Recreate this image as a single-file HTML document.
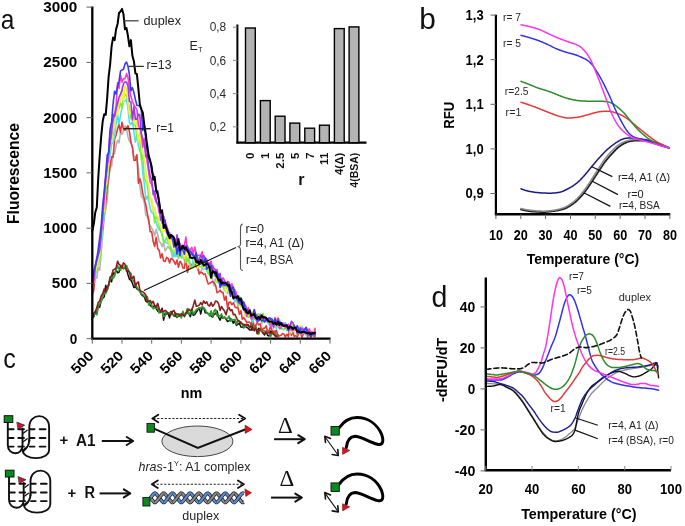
<!DOCTYPE html>
<html><head><meta charset="utf-8"><style>
html,body{margin:0;padding:0;background:#fff;overflow:hidden;width:685px;height:526px;}
svg{display:block;font-family:"Liberation Sans",sans-serif;will-change:transform;}
</style></head><body>
<svg width="685" height="526" viewBox="0 0 685 526">
<rect width="685" height="526" fill="#fff"/>
<g fill="none" stroke-linejoin="round" stroke-linecap="round">
<path d="M92.3,317.3 L93.8,316.8 L95.3,312.1 L96.8,313.3 L98.2,305.2 L99.7,307.2 L101.2,300.9 L102.7,298.3 L104.2,296.9 L105.7,285.3 L107.2,290.4 L108.6,284.5 L110.1,279.5 L111.6,281.9 L113.1,272.9 L114.6,274.4 L116.1,269.5 L117.6,272.9 L119.0,272.3 L120.5,266.0 L122.0,267.6 L123.5,268.6 L125.0,267.9 L126.5,269.0 L128.0,274.7 L129.4,279.3 L130.9,280.2 L132.4,283.2 L133.9,287.6 L135.4,286.7 L136.9,288.8 L138.4,289.8 L139.8,291.2 L141.3,294.5 L142.8,296.0 L144.3,297.0 L145.8,301.1 L147.3,302.2 L148.8,302.2 L150.2,305.4 L151.7,306.7 L153.2,307.1 L154.7,305.2 L156.2,308.5 L157.7,311.0 L159.2,312.5 L160.6,312.4 L162.1,308.3 L163.6,320.2 L165.1,313.1 L166.6,314.2 L168.1,313.4 L169.6,317.9 L171.0,311.4 L172.5,313.8 L174.0,316.0 L175.5,315.7 L177.0,317.5 L178.5,315.9 L180.0,316.1 L181.4,313.6 L182.9,314.4 L184.4,314.9 L185.9,313.0 L187.4,312.9 L188.9,313.3 L190.3,316.7 L191.8,311.1 L193.3,315.3 L194.8,314.6 L196.3,312.2 L197.8,310.1 L199.3,307.7 L200.7,314.1 L202.2,307.7 L203.7,307.8 L205.2,312.8 L206.7,312.7 L208.2,313.9 L209.7,314.3 L211.1,316.1 L212.6,317.1 L214.1,314.3 L215.6,313.7 L217.1,311.0 L218.6,317.4 L220.1,320.2 L221.5,316.3 L223.0,318.2 L224.5,317.1 L226.0,319.2 L227.5,321.5 L229.0,320.9 L230.5,318.5 L231.9,320.2 L233.4,323.3 L234.9,320.2 L236.4,325.4 L237.9,324.2 L239.4,323.4 L240.9,327.0 L242.3,327.3 L243.8,325.6 L245.3,326.4 L246.8,327.3 L248.3,328.5 L249.8,330.1 L251.3,330.0 L252.7,323.3 L254.2,330.7 L255.7,327.2 L257.2,331.5 L258.7,328.3 L260.2,329.0 L261.7,330.8 L263.1,333.3 L264.6,335.0 L266.1,331.1 L267.6,335.6 L269.1,335.9 L270.6,331.1 L272.1,331.5 L273.5,334.4 L275.0,335.2 L276.5,336.1 L278.0,334.5" fill="none" stroke="#111" stroke-width="1.5" stroke-linejoin="round"/>
<path d="M92.3,314.2 L93.8,315.5 L95.3,313.1 L96.8,314.8 L98.2,306.3 L99.7,304.0 L101.2,301.5 L102.7,296.5 L104.2,293.2 L105.7,293.5 L107.2,290.0 L108.6,285.6 L110.1,279.3 L111.6,276.3 L113.1,278.4 L114.6,276.0 L116.1,269.5 L117.6,265.9 L119.0,269.1 L120.5,270.2 L122.0,265.2 L123.5,268.9 L125.0,266.8 L126.5,265.6 L128.0,269.3 L129.4,272.7 L130.9,273.3 L132.4,279.6 L133.9,281.7 L135.4,285.7 L136.9,287.2 L138.4,290.0 L139.8,291.3 L141.3,293.7 L142.8,294.4 L144.3,296.2 L145.8,297.5 L147.3,296.7 L148.8,305.0 L150.2,300.3 L151.7,305.2 L153.2,308.7 L154.7,307.7 L156.2,308.2 L157.7,307.3 L159.2,312.8 L160.6,311.0 L162.1,312.0 L163.6,316.4 L165.1,315.9 L166.6,312.7 L168.1,313.0 L169.6,312.5 L171.0,313.8 L172.5,314.2 L174.0,314.9 L175.5,312.7 L177.0,317.0 L178.5,315.5 L180.0,314.2 L181.4,317.9 L182.9,311.4 L184.4,315.3 L185.9,313.4 L187.4,308.5 L188.9,314.3 L190.3,313.4 L191.8,308.7 L193.3,313.8 L194.8,312.1 L196.3,309.5 L197.8,308.8 L199.3,307.9 L200.7,308.3 L202.2,306.6 L203.7,307.9 L205.2,309.5 L206.7,312.8 L208.2,313.3 L209.7,316.1 L211.1,310.9 L212.6,316.4 L214.1,311.1 L215.6,309.4 L217.1,315.9 L218.6,315.8 L220.1,316.0 L221.5,314.0 L223.0,318.1 L224.5,317.2 L226.0,318.5 L227.5,318.6 L229.0,316.1 L230.5,321.2 L231.9,319.7 L233.4,320.0 L234.9,319.4 L236.4,324.3 L237.9,320.2 L239.4,322.1 L240.9,321.9 L242.3,324.0 L243.8,327.9 L245.3,326.6 L246.8,324.3 L248.3,326.4 L249.8,327.2 L251.3,324.3 L252.7,324.1 L254.2,328.8 L255.7,325.6 L257.2,333.4 L258.7,334.0 L260.2,328.9 L261.7,331.5 L263.1,330.4 L264.6,331.0 L266.1,332.5 L267.6,331.5 L269.1,332.8 L270.6,336.3 L272.1,333.4 L273.5,333.7 L275.0,331.0 L276.5,336.7 L278.0,334.8" fill="none" stroke="#2e9a2e" stroke-width="1.7" stroke-linejoin="round"/>
<path d="M92.3,319.1 L93.8,313.1 L95.3,311.7 L96.8,307.6 L98.2,302.5 L99.7,301.1 L101.2,296.0 L102.7,293.7 L104.2,288.9 L105.7,291.5 L107.2,287.5 L108.6,285.2 L110.1,277.1 L111.6,275.8 L113.1,270.0 L114.6,269.3 L116.1,267.9 L117.6,261.2 L119.0,264.3 L120.5,265.4 L122.0,267.9 L123.5,262.8 L125.0,264.3 L126.5,271.1 L128.0,270.6 L129.4,271.8 L130.9,278.8 L132.4,277.9 L133.9,276.3 L135.4,286.1 L136.9,283.1 L138.4,281.9 L139.8,289.9 L141.3,291.5 L142.8,291.8 L144.3,293.0 L145.8,295.0 L147.3,301.1 L148.8,301.0 L150.2,300.7 L151.7,303.1 L153.2,301.4 L154.7,305.8 L156.2,307.1 L157.7,303.4 L159.2,308.6 L160.6,311.5 L162.1,310.3 L163.6,311.6 L165.1,310.3 L166.6,311.4 L168.1,313.6 L169.6,314.2 L171.0,314.9 L172.5,311.4 L174.0,310.4 L175.5,314.9 L177.0,313.8 L178.5,314.1 L180.0,315.6 L181.4,315.0 L182.9,314.3 L184.4,316.7 L185.9,313.8 L187.4,310.8 L188.9,309.2 L190.3,310.8 L191.8,310.2 L193.3,305.4 L194.8,300.1 L196.3,306.3 L197.8,305.9 L199.3,305.1 L200.7,302.7 L202.2,304.8 L203.7,300.9 L205.2,303.4 L206.7,301.9 L208.2,305.3 L209.7,305.9 L211.1,302.6 L212.6,306.1 L214.1,304.5 L215.6,301.0 L217.1,301.5 L218.6,303.9 L220.1,310.4 L221.5,306.5 L223.0,309.1 L224.5,311.1 L226.0,314.8 L227.5,309.2 L229.0,307.6 L230.5,310.7 L231.9,309.7 L233.4,314.8 L234.9,314.3 L236.4,317.7 L237.9,320.8 L239.4,321.0 L240.9,323.2 L242.3,323.8 L243.8,324.6 L245.3,324.6 L246.8,325.0 L248.3,324.7 L249.8,327.9 L251.3,325.5 L252.7,330.1 L254.2,327.3 L255.7,328.2 L257.2,333.6 L258.7,330.8 L260.2,328.9 L261.7,330.7 L263.1,332.9 L264.6,333.4 L266.1,332.2 L267.6,332.8 L269.1,331.9 L270.6,333.5 L272.1,332.3 L273.5,333.5 L275.0,335.9 L276.5,336.5 L278.0,335.8" fill="none" stroke="#8b1c1c" stroke-width="1.6" stroke-linejoin="round"/>
<path d="M92.3,286.9 L93.8,283.4 L95.3,275.6 L96.8,278.4 L98.2,267.7 L99.7,270.3 L101.2,252.4 L102.7,235.2 L104.2,217.6 L105.7,209.7 L107.2,199.7 L108.6,179.6 L110.1,166.7 L111.6,166.7 L113.1,153.9 L114.6,153.6 L116.1,145.6 L117.6,140.2 L119.0,142.8 L120.5,132.5 L122.0,134.3 L123.5,130.5 L125.0,126.1 L126.5,128.0 L128.0,136.7 L129.4,141.0 L130.9,142.9 L132.4,146.6 L133.9,157.0 L135.4,156.5 L136.9,158.7 L138.4,167.4 L139.8,186.0 L141.3,196.7 L142.8,197.6 L144.3,202.6 L145.8,215.1 L147.3,216.5 L148.8,222.5 L150.2,225.7 L151.7,228.2 L153.2,231.0 L154.7,235.6 L156.2,229.4 L157.7,234.7 L159.2,241.7 L160.6,242.4 L162.1,246.6 L163.6,242.7 L165.1,250.9 L166.6,248.6 L168.1,246.4 L169.6,248.7 L171.0,250.4 L172.5,257.9 L174.0,252.5 L175.5,256.5 L177.0,252.5 L178.5,258.6 L180.0,252.5 L181.4,257.1 L182.9,256.2 L184.4,260.2 L185.9,260.5 L187.4,261.0 L188.9,257.6 L190.3,264.0 L191.8,264.5 L193.3,261.5 L194.8,264.2 L196.3,267.3 L197.8,265.9 L199.3,271.9 L200.7,272.9 L202.2,267.5 L203.7,261.1 L205.2,264.6 L206.7,264.1 L208.2,271.4 L209.7,275.8 L211.1,271.6 L212.6,279.7 L214.1,286.0 L215.6,276.9 L217.1,276.6 L218.6,279.6 L220.1,278.6 L221.5,282.5 L223.0,285.0 L224.5,290.5 L226.0,289.0 L227.5,293.4 L229.0,292.3 L230.5,286.9 L231.9,293.6 L233.4,294.9 L234.9,299.8 L236.4,291.8 L237.9,306.5 L239.4,304.6 L240.9,300.5 L242.3,307.0 L243.8,309.9 L245.3,309.6 L246.8,310.6 L248.3,312.1 L249.8,317.3 L251.3,313.6 L252.7,319.5 L254.2,319.1 L255.7,319.8 L257.2,316.6 L258.7,318.9 L260.2,321.0 L261.7,318.8 L263.1,322.1 L264.6,321.1 L266.1,321.1 L267.6,322.4 L269.1,324.2 L270.6,325.4 L272.1,319.7 L273.5,328.6 L275.0,322.6 L276.5,325.9 L278.0,325.9 L279.5,329.1 L281.0,324.9 L282.5,326.7 L283.9,322.9 L285.4,327.6 L286.9,329.5 L288.4,330.2 L289.9,325.1 L291.4,326.5 L292.9,329.4 L294.3,324.6 L295.8,328.7 L297.3,330.6 L298.8,328.9 L300.3,333.4 L301.8,330.7 L303.3,334.3 L304.7,330.2 L306.2,330.4 L307.7,332.7 L309.2,330.0 L310.7,334.8 L312.2,331.9 L313.7,333.9 L315.1,336.8" fill="none" stroke="#b4b4b4" stroke-width="1.6" stroke-linejoin="round"/>
<path d="M92.3,294.8 L93.8,290.2 L95.3,272.9 L96.8,267.7 L98.2,258.7 L99.7,250.3 L101.2,232.6 L102.7,229.1 L104.2,210.6 L105.7,202.5 L107.2,187.1 L108.6,178.2 L110.1,165.8 L111.6,156.9 L113.1,157.2 L114.6,139.3 L116.1,134.7 L117.6,128.9 L119.0,124.3 L120.5,132.4 L122.0,122.2 L123.5,129.4 L125.0,130.2 L126.5,128.0 L128.0,125.7 L129.4,131.4 L130.9,142.0 L132.4,147.6 L133.9,160.4 L135.4,160.2 L136.9,154.7 L138.4,183.2 L139.8,178.8 L141.3,183.8 L142.8,194.1 L144.3,198.6 L145.8,204.7 L147.3,213.3 L148.8,220.4 L150.2,231.8 L151.7,231.8 L153.2,241.6 L154.7,246.4 L156.2,237.2 L157.7,248.9 L159.2,250.4 L160.6,258.0 L162.1,253.8 L163.6,261.1 L165.1,261.5 L166.6,257.4 L168.1,258.4 L169.6,262.9 L171.0,258.6 L172.5,259.2 L174.0,261.3 L175.5,264.4 L177.0,260.0 L178.5,267.3 L180.0,261.2 L181.4,263.1 L182.9,268.0 L184.4,268.1 L185.9,256.8 L187.4,272.5 L188.9,265.7 L190.3,267.4 L191.8,265.0 L193.3,265.9 L194.8,264.3 L196.3,265.4 L197.8,268.5 L199.3,274.1 L200.7,272.2 L202.2,272.7 L203.7,274.6 L205.2,273.9 L206.7,279.3 L208.2,283.9 L209.7,283.3 L211.1,282.3 L212.6,281.5 L214.1,283.0 L215.6,285.1 L217.1,292.8 L218.6,291.7 L220.1,290.2 L221.5,292.4 L223.0,292.4 L224.5,300.2 L226.0,296.2 L227.5,307.7 L229.0,302.3 L230.5,302.1 L231.9,304.7 L233.4,302.6 L234.9,307.0 L236.4,307.8 L237.9,307.6 L239.4,314.4 L240.9,310.7 L242.3,319.2 L243.8,317.6 L245.3,320.0 L246.8,322.7 L248.3,322.1 L249.8,322.3 L251.3,324.9 L252.7,318.5 L254.2,327.5 L255.7,325.3 L257.2,322.7 L258.7,324.8 L260.2,323.8 L261.7,331.2 L263.1,328.4 L264.6,328.3 L266.1,325.8 L267.6,331.8 L269.1,330.4 L270.6,326.2 L272.1,330.7 L273.5,331.2 L275.0,333.0 L276.5,330.1 L278.0,337.0 L279.5,335.7 L281.0,335.2 L282.5,333.6 L283.9,334.1 L285.4,337.0 L286.9,334.1 L288.4,336.7 L289.9,327.5 L291.4,335.4 L292.9,332.2 L294.3,336.4 L295.8,335.7 L297.3,337.0 L298.8,333.2 L300.3,332.0 L301.8,337.0 L303.3,334.2 L304.7,333.6 L306.2,332.1 L307.7,336.9 L309.2,331.7 L310.7,337.0 L312.2,334.8 L313.7,336.5 L315.1,336.0" fill="none" stroke="#e53a3a" stroke-width="1.6" stroke-linejoin="round"/>
<path d="M92.3,288.1 L93.8,281.8 L95.3,276.8 L96.8,264.3 L98.2,259.8 L99.7,260.1 L101.2,243.6 L102.7,227.3 L104.2,214.3 L105.7,188.5 L107.2,183.3 L108.6,165.8 L110.1,154.3 L111.6,144.4 L113.1,142.2 L114.6,136.1 L116.1,123.4 L117.6,114.6 L119.0,124.0 L120.5,115.2 L122.0,108.1 L123.5,101.3 L125.0,101.2 L126.5,99.6 L128.0,108.0 L129.4,122.5 L130.9,124.7 L132.4,121.3 L133.9,131.7 L135.4,142.3 L136.9,135.0 L138.4,145.6 L139.8,151.2 L141.3,153.3 L142.8,173.3 L144.3,183.5 L145.8,199.6 L147.3,196.3 L148.8,201.2 L150.2,208.6 L151.7,212.7 L153.2,213.1 L154.7,218.7 L156.2,222.2 L157.7,227.2 L159.2,230.1 L160.6,228.9 L162.1,235.6 L163.6,239.3 L165.1,242.0 L166.6,242.7 L168.1,243.7 L169.6,244.6 L171.0,247.8 L172.5,251.1 L174.0,256.8 L175.5,250.1 L177.0,256.5 L178.5,254.4 L180.0,250.4 L181.4,254.0 L182.9,257.8 L184.4,252.9 L185.9,256.5 L187.4,257.8 L188.9,253.3 L190.3,257.0 L191.8,250.3 L193.3,265.7 L194.8,262.7 L196.3,261.8 L197.8,259.3 L199.3,265.1 L200.7,259.7 L202.2,265.4 L203.7,269.4 L205.2,268.7 L206.7,269.5 L208.2,270.9 L209.7,273.4 L211.1,273.2 L212.6,270.4 L214.1,271.9 L215.6,270.0 L217.1,280.4 L218.6,283.1 L220.1,275.0 L221.5,281.9 L223.0,283.2 L224.5,288.4 L226.0,285.9 L227.5,288.3 L229.0,289.8 L230.5,287.8 L231.9,295.5 L233.4,294.5 L234.9,302.0 L236.4,297.3 L237.9,303.2 L239.4,296.0 L240.9,306.4 L242.3,299.6 L243.8,309.4 L245.3,315.0 L246.8,311.6 L248.3,312.9 L249.8,317.1 L251.3,318.7 L252.7,322.3 L254.2,317.2 L255.7,315.8 L257.2,322.7 L258.7,317.3 L260.2,313.8 L261.7,323.3 L263.1,317.5 L264.6,318.0 L266.1,321.7 L267.6,319.7 L269.1,324.2 L270.6,320.7 L272.1,318.1 L273.5,323.8 L275.0,324.9 L276.5,328.9 L278.0,318.9 L279.5,319.3 L281.0,325.9 L282.5,324.8 L283.9,325.7 L285.4,322.4 L286.9,330.6 L288.4,325.2 L289.9,333.2 L291.4,326.2 L292.9,330.3 L294.3,325.4 L295.8,327.8 L297.3,331.3 L298.8,332.0 L300.3,333.6 L301.8,326.6 L303.3,328.5 L304.7,333.2 L306.2,335.4 L307.7,331.0 L309.2,332.6 L310.7,334.2 L312.2,332.9 L313.7,331.8 L315.1,333.9" fill="none" stroke="#4fe0f0" stroke-width="1.6" stroke-linejoin="round"/>
<path d="M92.3,284.9 L93.8,283.0 L95.3,273.9 L96.8,269.0 L98.2,263.9 L99.7,259.5 L101.2,238.1 L102.7,219.2 L104.2,212.5 L105.7,191.5 L107.2,175.4 L108.6,156.5 L110.1,147.1 L111.6,139.7 L113.1,134.9 L114.6,122.4 L116.1,113.4 L117.6,109.8 L119.0,108.9 L120.5,102.7 L122.0,107.8 L123.5,97.4 L125.0,94.0 L126.5,95.7 L128.0,102.4 L129.4,106.9 L130.9,118.6 L132.4,113.6 L133.9,124.8 L135.4,125.6 L136.9,136.8 L138.4,138.1 L139.8,139.1 L141.3,159.7 L142.8,155.2 L144.3,179.7 L145.8,180.5 L147.3,185.3 L148.8,197.4 L150.2,200.1 L151.7,201.2 L153.2,209.7 L154.7,222.9 L156.2,216.5 L157.7,219.7 L159.2,226.9 L160.6,231.0 L162.1,234.1 L163.6,243.2 L165.1,241.6 L166.6,236.9 L168.1,241.6 L169.6,245.0 L171.0,250.9 L172.5,252.1 L174.0,250.1 L175.5,252.8 L177.0,253.9 L178.5,256.6 L180.0,253.7 L181.4,258.2 L182.9,256.8 L184.4,253.3 L185.9,262.8 L187.4,255.6 L188.9,261.9 L190.3,268.7 L191.8,265.8 L193.3,266.7 L194.8,260.5 L196.3,260.8 L197.8,257.2 L199.3,266.4 L200.7,266.8 L202.2,267.1 L203.7,262.7 L205.2,266.8 L206.7,270.1 L208.2,274.0 L209.7,265.9 L211.1,278.4 L212.6,275.0 L214.1,275.9 L215.6,274.6 L217.1,282.5 L218.6,276.1 L220.1,282.5 L221.5,286.6 L223.0,287.0 L224.5,286.4 L226.0,289.3 L227.5,286.3 L229.0,293.2 L230.5,290.5 L231.9,287.6 L233.4,294.4 L234.9,294.2 L236.4,296.3 L237.9,305.7 L239.4,297.9 L240.9,303.1 L242.3,302.0 L243.8,304.1 L245.3,309.3 L246.8,311.8 L248.3,317.2 L249.8,312.4 L251.3,315.1 L252.7,314.6 L254.2,313.7 L255.7,319.9 L257.2,314.6 L258.7,314.0 L260.2,319.2 L261.7,323.4 L263.1,313.4 L264.6,317.8 L266.1,318.8 L267.6,320.7 L269.1,323.0 L270.6,323.7 L272.1,322.1 L273.5,322.7 L275.0,324.2 L276.5,326.0 L278.0,323.5 L279.5,327.3 L281.0,329.0 L282.5,328.9 L283.9,329.9 L285.4,324.5 L286.9,328.6 L288.4,325.0 L289.9,326.5 L291.4,323.5 L292.9,326.6 L294.3,326.9 L295.8,330.8 L297.3,334.4 L298.8,328.6 L300.3,327.6 L301.8,332.0 L303.3,332.7 L304.7,332.7 L306.2,333.9 L307.7,329.4 L309.2,333.1 L310.7,331.1 L312.2,332.5 L313.7,335.8 L315.1,329.0" fill="none" stroke="#7af03a" stroke-width="1.6" stroke-linejoin="round"/>
<path d="M92.3,280.5 L93.8,272.4 L95.3,272.7 L96.8,266.0 L98.2,262.1 L99.7,253.5 L101.2,240.1 L102.7,210.7 L104.2,211.3 L105.7,185.5 L107.2,178.5 L108.6,161.8 L110.1,137.3 L111.6,142.0 L113.1,127.6 L114.6,127.8 L116.1,109.6 L117.6,115.1 L119.0,99.2 L120.5,102.1 L122.0,86.2 L123.5,102.1 L125.0,85.7 L126.5,88.8 L128.0,102.0 L129.4,114.7 L130.9,110.5 L132.4,117.2 L133.9,122.9 L135.4,115.1 L136.9,127.5 L138.4,142.3 L139.8,131.9 L141.3,144.2 L142.8,151.1 L144.3,159.3 L145.8,169.3 L147.3,181.6 L148.8,185.3 L150.2,200.9 L151.7,198.4 L153.2,211.3 L154.7,207.6 L156.2,215.7 L157.7,215.9 L159.2,223.3 L160.6,226.1 L162.1,231.0 L163.6,231.9 L165.1,228.1 L166.6,234.4 L168.1,235.0 L169.6,245.4 L171.0,239.5 L172.5,242.8 L174.0,249.5 L175.5,251.2 L177.0,249.3 L178.5,251.8 L180.0,247.6 L181.4,249.6 L182.9,253.1 L184.4,258.2 L185.9,251.9 L187.4,257.5 L188.9,253.9 L190.3,255.1 L191.8,256.5 L193.3,258.0 L194.8,262.5 L196.3,262.1 L197.8,268.2 L199.3,259.4 L200.7,258.9 L202.2,263.1 L203.7,268.0 L205.2,264.5 L206.7,269.2 L208.2,268.9 L209.7,263.4 L211.1,271.0 L212.6,274.6 L214.1,271.8 L215.6,275.4 L217.1,280.8 L218.6,278.8 L220.1,277.8 L221.5,284.4 L223.0,280.2 L224.5,286.8 L226.0,292.0 L227.5,288.0 L229.0,293.2 L230.5,289.2 L231.9,295.9 L233.4,295.9 L234.9,299.0 L236.4,298.7 L237.9,299.0 L239.4,301.7 L240.9,307.1 L242.3,301.7 L243.8,305.5 L245.3,316.1 L246.8,309.1 L248.3,314.9 L249.8,314.1 L251.3,313.4 L252.7,311.7 L254.2,316.0 L255.7,317.3 L257.2,316.3 L258.7,315.6 L260.2,321.5 L261.7,320.0 L263.1,319.3 L264.6,321.1 L266.1,320.3 L267.6,319.9 L269.1,321.0 L270.6,318.2 L272.1,323.7 L273.5,321.3 L275.0,322.0 L276.5,318.6 L278.0,317.1 L279.5,324.7 L281.0,323.9 L282.5,325.7 L283.9,325.0 L285.4,325.8 L286.9,327.2 L288.4,328.8 L289.9,328.1 L291.4,333.0 L292.9,324.5 L294.3,330.6 L295.8,333.2 L297.3,327.1 L298.8,330.5 L300.3,325.2 L301.8,333.6 L303.3,330.1 L304.7,333.4 L306.2,331.5 L307.7,334.0 L309.2,333.0 L310.7,334.3 L312.2,334.1 L313.7,329.2 L315.1,333.5" fill="none" stroke="#f0f040" stroke-width="1.6" stroke-linejoin="round"/>
<path d="M92.3,286.2 L93.8,283.0 L95.3,265.5 L96.8,257.6 L98.2,254.7 L99.7,246.8 L101.2,232.1 L102.7,217.5 L104.2,198.5 L105.7,177.8 L107.2,164.4 L108.6,156.5 L110.1,131.7 L111.6,127.8 L113.1,120.3 L114.6,114.3 L116.1,105.6 L117.6,82.6 L119.0,88.4 L120.5,75.2 L122.0,82.2 L123.5,78.7 L125.0,78.8 L126.5,73.6 L128.0,77.6 L129.4,89.0 L130.9,96.3 L132.4,101.2 L133.9,105.0 L135.4,107.1 L136.9,109.8 L138.4,125.3 L139.8,128.3 L141.3,133.3 L142.8,147.3 L144.3,138.9 L145.8,149.4 L147.3,162.9 L148.8,173.2 L150.2,182.4 L151.7,184.6 L153.2,189.9 L154.7,198.1 L156.2,202.3 L157.7,203.6 L159.2,213.0 L160.6,214.1 L162.1,223.3 L163.6,221.6 L165.1,228.3 L166.6,229.3 L168.1,232.4 L169.6,232.6 L171.0,238.9 L172.5,237.7 L174.0,237.0 L175.5,240.2 L177.0,249.2 L178.5,241.9 L180.0,243.6 L181.4,247.2 L182.9,248.2 L184.4,245.3 L185.9,237.1 L187.4,251.1 L188.9,249.3 L190.3,249.6 L191.8,247.3 L193.3,253.9 L194.8,247.0 L196.3,254.4 L197.8,255.6 L199.3,255.2 L200.7,255.7 L202.2,251.7 L203.7,261.7 L205.2,260.5 L206.7,260.1 L208.2,263.1 L209.7,264.0 L211.1,261.2 L212.6,268.8 L214.1,271.3 L215.6,273.2 L217.1,269.4 L218.6,278.5 L220.1,276.2 L221.5,283.2 L223.0,277.7 L224.5,280.4 L226.0,283.8 L227.5,281.4 L229.0,282.3 L230.5,286.9 L231.9,283.8 L233.4,289.5 L234.9,289.6 L236.4,294.9 L237.9,296.9 L239.4,301.2 L240.9,300.5 L242.3,304.5 L243.8,308.2 L245.3,309.3 L246.8,316.5 L248.3,307.7 L249.8,313.5 L251.3,318.9 L252.7,317.9 L254.2,316.6 L255.7,316.8 L257.2,315.3 L258.7,317.8 L260.2,315.2 L261.7,317.4 L263.1,319.8 L264.6,320.2 L266.1,320.5 L267.6,319.4 L269.1,320.5 L270.6,326.7 L272.1,322.7 L273.5,325.7 L275.0,317.5 L276.5,322.3 L278.0,323.0 L279.5,327.9 L281.0,328.3 L282.5,322.9 L283.9,323.8 L285.4,327.9 L286.9,327.4 L288.4,324.2 L289.9,327.4 L291.4,330.5 L292.9,330.3 L294.3,329.7 L295.8,329.6 L297.3,329.7 L298.8,332.8 L300.3,329.7 L301.8,328.4 L303.3,329.3 L304.7,333.3 L306.2,331.2 L307.7,334.5 L309.2,328.7 L310.7,333.2 L312.2,332.9 L313.7,335.7 L315.1,328.4" fill="none" stroke="#ff3ad0" stroke-width="1.6" stroke-linejoin="round"/>
<path d="M92.3,281.7 L93.8,277.9 L95.3,266.9 L96.8,260.1 L98.2,255.0 L99.7,249.9 L101.2,234.9 L102.7,212.4 L104.2,195.0 L105.7,178.7 L107.2,166.3 L108.6,152.8 L110.1,143.0 L111.6,133.3 L113.1,114.5 L114.6,116.6 L116.1,109.0 L117.6,103.2 L119.0,97.4 L120.5,94.1 L122.0,90.4 L123.5,83.5 L125.0,82.0 L126.5,82.1 L128.0,86.2 L129.4,101.4 L130.9,101.9 L132.4,120.0 L133.9,106.6 L135.4,119.3 L136.9,119.3 L138.4,114.1 L139.8,115.0 L141.3,133.9 L142.8,138.7 L144.3,143.5 L145.8,157.0 L147.3,154.9 L148.8,168.2 L150.2,176.6 L151.7,179.9 L153.2,194.7 L154.7,191.1 L156.2,200.1 L157.7,205.3 L159.2,206.7 L160.6,220.3 L162.1,216.4 L163.6,216.1 L165.1,222.9 L166.6,225.9 L168.1,230.3 L169.6,236.4 L171.0,236.9 L172.5,236.9 L174.0,239.9 L175.5,247.2 L177.0,234.8 L178.5,244.6 L180.0,245.8 L181.4,247.9 L182.9,248.2 L184.4,245.5 L185.9,246.9 L187.4,246.0 L188.9,250.2 L190.3,255.6 L191.8,253.4 L193.3,254.6 L194.8,259.2 L196.3,255.1 L197.8,261.0 L199.3,259.1 L200.7,255.3 L202.2,258.3 L203.7,255.4 L205.2,257.8 L206.7,259.6 L208.2,264.5 L209.7,263.4 L211.1,266.7 L212.6,265.5 L214.1,268.6 L215.6,269.9 L217.1,275.2 L218.6,275.8 L220.1,273.4 L221.5,285.6 L223.0,285.1 L224.5,281.4 L226.0,283.4 L227.5,283.7 L229.0,283.9 L230.5,285.8 L231.9,291.1 L233.4,291.8 L234.9,293.8 L236.4,298.3 L237.9,301.5 L239.4,303.2 L240.9,304.7 L242.3,301.1 L243.8,302.7 L245.3,305.2 L246.8,309.1 L248.3,311.1 L249.8,311.6 L251.3,314.6 L252.7,315.5 L254.2,314.8 L255.7,314.6 L257.2,322.2 L258.7,320.2 L260.2,316.6 L261.7,316.7 L263.1,318.1 L264.6,321.8 L266.1,317.5 L267.6,321.5 L269.1,318.5 L270.6,318.4 L272.1,319.6 L273.5,327.1 L275.0,318.7 L276.5,322.5 L278.0,318.3 L279.5,323.6 L281.0,322.5 L282.5,324.3 L283.9,325.8 L285.4,324.6 L286.9,325.3 L288.4,329.2 L289.9,326.7 L291.4,321.3 L292.9,322.8 L294.3,328.1 L295.8,327.4 L297.3,333.9 L298.8,330.6 L300.3,327.7 L301.8,329.4 L303.3,330.6 L304.7,329.9 L306.2,328.0 L307.7,332.2 L309.2,335.3 L310.7,333.0 L312.2,332.0 L313.7,333.6 L315.1,335.0" fill="none" stroke="#9a3af0" stroke-width="1.6" stroke-linejoin="round"/>
<path d="M92.3,286.5 L93.8,270.4 L95.3,265.8 L96.8,259.1 L98.2,249.3 L99.7,237.8 L101.2,225.4 L102.7,205.4 L104.2,191.5 L105.7,174.7 L107.2,155.2 L108.6,152.6 L110.1,129.1 L111.6,121.9 L113.1,103.3 L114.6,91.2 L116.1,94.2 L117.6,85.9 L119.0,81.4 L120.5,71.2 L122.0,70.0 L123.5,69.2 L125.0,64.1 L126.5,62.1 L128.0,66.3 L129.4,74.6 L130.9,90.8 L132.4,87.7 L133.9,92.5 L135.4,99.6 L136.9,105.3 L138.4,105.5 L139.8,106.2 L141.3,109.4 L142.8,130.5 L144.3,125.1 L145.8,140.0 L147.3,143.7 L148.8,154.9 L150.2,159.7 L151.7,172.2 L153.2,173.7 L154.7,181.0 L156.2,191.3 L157.7,190.7 L159.2,200.6 L160.6,211.5 L162.1,210.9 L163.6,221.2 L165.1,220.1 L166.6,231.9 L168.1,235.7 L169.6,235.4 L171.0,236.5 L172.5,238.7 L174.0,247.0 L175.5,243.6 L177.0,254.2 L178.5,246.5 L180.0,255.7 L181.4,246.1 L182.9,250.3 L184.4,254.2 L185.9,246.1 L187.4,249.0 L188.9,250.8 L190.3,251.1 L191.8,253.7 L193.3,255.6 L194.8,256.4 L196.3,252.8 L197.8,263.4 L199.3,263.8 L200.7,261.2 L202.2,259.9 L203.7,262.1 L205.2,258.3 L206.7,269.2 L208.2,267.4 L209.7,267.4 L211.1,266.0 L212.6,271.9 L214.1,271.9 L215.6,276.3 L217.1,271.9 L218.6,276.1 L220.1,287.7 L221.5,279.4 L223.0,283.6 L224.5,285.5 L226.0,284.6 L227.5,282.2 L229.0,289.8 L230.5,296.2 L231.9,288.0 L233.4,287.2 L234.9,295.7 L236.4,298.5 L237.9,298.9 L239.4,302.6 L240.9,301.3 L242.3,303.0 L243.8,302.2 L245.3,312.1 L246.8,309.8 L248.3,311.7 L249.8,312.1 L251.3,314.8 L252.7,315.3 L254.2,309.5 L255.7,314.5 L257.2,318.5 L258.7,320.4 L260.2,319.0 L261.7,320.9 L263.1,320.2 L264.6,321.8 L266.1,320.2 L267.6,318.8 L269.1,317.8 L270.6,319.1 L272.1,319.9 L273.5,321.4 L275.0,319.3 L276.5,323.5 L278.0,324.4 L279.5,321.6 L281.0,325.0 L282.5,325.4 L283.9,326.0 L285.4,325.6 L286.9,324.6 L288.4,330.8 L289.9,327.2 L291.4,328.6 L292.9,329.4 L294.3,326.2 L295.8,328.5 L297.3,325.6 L298.8,330.0 L300.3,329.6 L301.8,333.2 L303.3,331.0 L304.7,329.2 L306.2,327.3 L307.7,333.0 L309.2,332.7 L310.7,337.0 L312.2,333.7 L313.7,332.8 L315.1,334.4" fill="none" stroke="#3a3af0" stroke-width="1.6" stroke-linejoin="round"/>
<path d="M92.3,230.9 L93.8,224.0 L95.3,212.2 L96.8,207.3 L98.2,178.7 L99.7,155.7 L101.2,136.3 L102.7,121.3 L104.2,114.2 L105.7,114.9 L107.2,97.6 L108.6,76.8 L110.1,64.6 L111.6,46.4 L113.1,37.4 L114.6,40.1 L116.1,29.1 L117.6,24.0 L119.0,13.0 L120.5,11.5 L122.0,8.9 L123.5,14.3 L125.0,29.3 L126.5,28.0 L128.0,36.3 L129.4,46.3 L130.9,40.1 L132.4,55.8 L133.9,61.2 L135.4,73.3 L136.9,74.1 L138.4,89.0 L139.8,104.0 L141.3,109.2 L142.8,112.6 L144.3,124.9 L145.8,133.8 L147.3,148.5 L148.8,157.1 L150.2,161.0 L151.7,166.7 L153.2,179.7 L154.7,176.9 L156.2,190.7 L157.7,194.3 L159.2,203.1 L160.6,212.5 L162.1,210.3 L163.6,228.0 L165.1,225.0 L166.6,229.0 L168.1,233.1 L169.6,238.3 L171.0,234.9 L172.5,236.0 L174.0,237.8 L175.5,245.5 L177.0,244.7 L178.5,239.1 L180.0,250.3 L181.4,248.6 L182.9,245.6 L184.4,249.1 L185.9,247.8 L187.4,250.8 L188.9,253.3 L190.3,257.6 L191.8,257.9 L193.3,257.7 L194.8,257.5 L196.3,262.4 L197.8,261.4 L199.3,263.8 L200.7,259.9 L202.2,262.4 L203.7,265.6 L205.2,264.7 L206.7,263.3 L208.2,264.7 L209.7,268.1 L211.1,277.7 L212.6,270.9 L214.1,272.7 L215.6,272.3 L217.1,277.0 L218.6,280.6 L220.1,279.5 L221.5,283.8 L223.0,282.5 L224.5,283.1 L226.0,283.3 L227.5,285.4 L229.0,285.1 L230.5,291.0 L231.9,292.5 L233.4,298.6 L234.9,297.1 L236.4,297.5 L237.9,296.1 L239.4,300.2 L240.9,298.4 L242.3,305.4 L243.8,309.6 L245.3,309.1 L246.8,312.6 L248.3,313.4 L249.8,310.2 L251.3,315.9 L252.7,314.9 L254.2,314.0 L255.7,318.0 L257.2,318.9 L258.7,316.9 L260.2,319.0 L261.7,315.2 L263.1,317.5 L264.6,317.2 L266.1,317.8 L267.6,320.0 L269.1,321.6 L270.6,321.4 L272.1,321.9 L273.5,323.9 L275.0,322.6 L276.5,324.8 L278.0,321.5 L279.5,325.0 L281.0,323.0 L282.5,325.1 L283.9,325.9 L285.4,325.6 L286.9,325.8 L288.4,328.5 L289.9,326.4 L291.4,326.9 L292.9,328.9 L294.3,328.1 L295.8,328.1 L297.3,331.5 L298.8,331.4 L300.3,332.7 L301.8,331.9 L303.3,332.1 L304.7,331.9 L306.2,332.8 L307.7,333.5 L309.2,332.5 L310.7,334.3 L312.2,333.0 L313.7,333.5 L315.1,332.6" fill="none" stroke="#000" stroke-width="2" stroke-linejoin="round"/>
</g>
<line x1="92.3" y1="6.5" x2="92.3" y2="339.7" stroke="#000" stroke-width="2.3"/>
<line x1="91.3" y1="338.7" x2="330.5" y2="338.7" stroke="#000" stroke-width="2.3"/>
<line x1="86.5" y1="338.7" x2="92.3" y2="338.7" stroke="#666" stroke-width="1"/>
<text x="77.2" y="343.7" font-size="14" font-weight="bold" text-anchor="end" fill="#000" textLength="7.5" lengthAdjust="spacingAndGlyphs">0</text>
<line x1="86.5" y1="283.4" x2="92.3" y2="283.4" stroke="#666" stroke-width="1"/>
<text x="77.2" y="288.4" font-size="14" font-weight="bold" text-anchor="end" fill="#000" textLength="25.5" lengthAdjust="spacingAndGlyphs">500</text>
<line x1="86.5" y1="228.2" x2="92.3" y2="228.2" stroke="#666" stroke-width="1"/>
<text x="77.2" y="233.2" font-size="14" font-weight="bold" text-anchor="end" fill="#000" textLength="34" lengthAdjust="spacingAndGlyphs">1000</text>
<line x1="86.5" y1="172.9" x2="92.3" y2="172.9" stroke="#666" stroke-width="1"/>
<text x="77.2" y="177.9" font-size="14" font-weight="bold" text-anchor="end" fill="#000" textLength="34" lengthAdjust="spacingAndGlyphs">1500</text>
<line x1="86.5" y1="117.6" x2="92.3" y2="117.6" stroke="#666" stroke-width="1"/>
<text x="77.2" y="122.6" font-size="14" font-weight="bold" text-anchor="end" fill="#000" textLength="34" lengthAdjust="spacingAndGlyphs">2000</text>
<line x1="86.5" y1="62.4" x2="92.3" y2="62.4" stroke="#666" stroke-width="1"/>
<text x="77.2" y="67.4" font-size="14" font-weight="bold" text-anchor="end" fill="#000" textLength="34" lengthAdjust="spacingAndGlyphs">2500</text>
<line x1="86.5" y1="7.1" x2="92.3" y2="7.1" stroke="#666" stroke-width="1"/>
<text x="77.2" y="12.1" font-size="14" font-weight="bold" text-anchor="end" fill="#000" textLength="34" lengthAdjust="spacingAndGlyphs">3000</text>
<line x1="92.3" y1="338.7" x2="92.3" y2="343.7" stroke="#666" stroke-width="1"/>
<text x="94.5" y="356.8" font-size="14" font-weight="bold" text-anchor="end" fill="#000" textLength="25.5" lengthAdjust="spacingAndGlyphs" transform="rotate(-45 94.5 356.8)">500</text>
<line x1="122" y1="338.7" x2="122" y2="343.7" stroke="#666" stroke-width="1"/>
<text x="124.2" y="356.8" font-size="14" font-weight="bold" text-anchor="end" fill="#000" textLength="25.5" lengthAdjust="spacingAndGlyphs" transform="rotate(-45 124.2 356.8)">520</text>
<line x1="151.7" y1="338.7" x2="151.7" y2="343.7" stroke="#666" stroke-width="1"/>
<text x="153.9" y="356.8" font-size="14" font-weight="bold" text-anchor="end" fill="#000" textLength="25.5" lengthAdjust="spacingAndGlyphs" transform="rotate(-45 153.9 356.8)">540</text>
<line x1="181.4" y1="338.7" x2="181.4" y2="343.7" stroke="#666" stroke-width="1"/>
<text x="183.6" y="356.8" font-size="14" font-weight="bold" text-anchor="end" fill="#000" textLength="25.5" lengthAdjust="spacingAndGlyphs" transform="rotate(-45 183.6 356.8)">560</text>
<line x1="211.1" y1="338.7" x2="211.1" y2="343.7" stroke="#666" stroke-width="1"/>
<text x="213.3" y="356.8" font-size="14" font-weight="bold" text-anchor="end" fill="#000" textLength="25.5" lengthAdjust="spacingAndGlyphs" transform="rotate(-45 213.3 356.8)">580</text>
<line x1="240.9" y1="338.7" x2="240.9" y2="343.7" stroke="#666" stroke-width="1"/>
<text x="243.1" y="356.8" font-size="14" font-weight="bold" text-anchor="end" fill="#000" textLength="25.5" lengthAdjust="spacingAndGlyphs" transform="rotate(-45 243.1 356.8)">600</text>
<line x1="270.6" y1="338.7" x2="270.6" y2="343.7" stroke="#666" stroke-width="1"/>
<text x="272.8" y="356.8" font-size="14" font-weight="bold" text-anchor="end" fill="#000" textLength="25.5" lengthAdjust="spacingAndGlyphs" transform="rotate(-45 272.8 356.8)">620</text>
<line x1="300.3" y1="338.7" x2="300.3" y2="343.7" stroke="#666" stroke-width="1"/>
<text x="302.5" y="356.8" font-size="14" font-weight="bold" text-anchor="end" fill="#000" textLength="25.5" lengthAdjust="spacingAndGlyphs" transform="rotate(-45 302.5 356.8)">640</text>
<line x1="330" y1="338.7" x2="330" y2="343.7" stroke="#666" stroke-width="1"/>
<text x="332.2" y="356.8" font-size="14" font-weight="bold" text-anchor="end" fill="#000" textLength="25.5" lengthAdjust="spacingAndGlyphs" transform="rotate(-45 332.2 356.8)">660</text>
<text x="191.6" y="397.9" font-size="14.5" font-weight="bold" text-anchor="middle" fill="#000" textLength="21.5" lengthAdjust="spacingAndGlyphs">nm</text>
<text x="19.4" y="173.5" font-size="16" font-weight="bold" text-anchor="middle" fill="#000" textLength="101" lengthAdjust="spacingAndGlyphs" transform="rotate(-90 19.4 173.5)">Fluorescence</text>
<text x="0.8" y="29.2" font-size="28" font-weight="normal" text-anchor="start" fill="#111" textLength="13.6" lengthAdjust="spacingAndGlyphs">a</text>
<line x1="123.4" y1="20.8" x2="138.6" y2="20.8" stroke="#444" stroke-width="1.3"/>
<text x="143.5" y="24.5" font-size="12.5" font-weight="normal" text-anchor="start" fill="#222" textLength="37.5" lengthAdjust="spacingAndGlyphs">duplex</text>
<line x1="128.7" y1="66.4" x2="143.9" y2="66.4" stroke="#333" stroke-width="1.3"/>
<text x="146.5" y="68.5" font-size="12.5" font-weight="normal" text-anchor="start" fill="#222" textLength="25" lengthAdjust="spacingAndGlyphs">r=13</text>
<line x1="123.5" y1="128.7" x2="150.8" y2="128.7" stroke="#222" stroke-width="1.4"/>
<text x="156.3" y="132.2" font-size="12.5" font-weight="normal" text-anchor="start" fill="#222" textLength="17.5" lengthAdjust="spacingAndGlyphs">r=1</text>
<line x1="143.9" y1="290.4" x2="236" y2="247.5" stroke="#111" stroke-width="1.1"/>
<path d="M243,224 C240.5,224 240.5,226 240.5,229 L240.5,244 C240.5,246 239.5,246.5 238.5,246.8 C239.5,247.1 240.5,247.6 240.5,250 L240.5,266 C240.5,269 240.5,270.5 243,270.5" fill="none" stroke="#555" stroke-width="1.1"/>
<text x="245.5" y="232.5" font-size="12.5" font-weight="normal" text-anchor="start" fill="#222" textLength="18.5" lengthAdjust="spacingAndGlyphs">r=0</text>
<text x="245.5" y="247.2" font-size="12.5" font-weight="normal" text-anchor="start" fill="#222" textLength="58.5" lengthAdjust="spacingAndGlyphs">r=4, A1 (Δ)</text>
<text x="246" y="263.5" font-size="12.5" font-weight="normal" text-anchor="start" fill="#222" textLength="47" lengthAdjust="spacingAndGlyphs">r=4, BSA</text>
<line x1="237.4" y1="24.5" x2="237.4" y2="143.5" stroke="#000" stroke-width="2"/>
<line x1="236.4" y1="142.7" x2="366.5" y2="142.7" stroke="#000" stroke-width="2.2"/>
<line x1="233" y1="27.2" x2="237.4" y2="27.2" stroke="#888" stroke-width="1"/>
<text x="226.2" y="31.4" font-size="12" font-weight="normal" text-anchor="end" fill="#2a2a2a" textLength="16.5" lengthAdjust="spacingAndGlyphs">0,8</text>
<line x1="233" y1="60.4" x2="237.4" y2="60.4" stroke="#888" stroke-width="1"/>
<text x="226.2" y="64.6" font-size="12" font-weight="normal" text-anchor="end" fill="#2a2a2a" textLength="16.5" lengthAdjust="spacingAndGlyphs">0,6</text>
<line x1="233" y1="93.6" x2="237.4" y2="93.6" stroke="#888" stroke-width="1"/>
<text x="226.2" y="97.8" font-size="12" font-weight="normal" text-anchor="end" fill="#2a2a2a" textLength="16.5" lengthAdjust="spacingAndGlyphs">0,4</text>
<line x1="233" y1="126.8" x2="237.4" y2="126.8" stroke="#888" stroke-width="1"/>
<text x="226.2" y="131" font-size="12" font-weight="normal" text-anchor="end" fill="#2a2a2a" textLength="16.5" lengthAdjust="spacingAndGlyphs">0,2</text>
<rect x="245.5" y="28.0" width="9.8" height="114.7" fill="#b3b3b3" stroke="#000" stroke-width="1.4"/>
<rect x="260.4" y="100.6" width="9.8" height="42.1" fill="#b3b3b3" stroke="#000" stroke-width="1.4"/>
<rect x="275.2" y="116.2" width="9.8" height="26.5" fill="#b3b3b3" stroke="#000" stroke-width="1.4"/>
<rect x="289.9" y="123.1" width="9.8" height="19.6" fill="#b3b3b3" stroke="#000" stroke-width="1.4"/>
<rect x="304.8" y="128.2" width="9.8" height="14.5" fill="#b3b3b3" stroke="#000" stroke-width="1.4"/>
<rect x="319.5" y="125.2" width="9.8" height="17.5" fill="#b3b3b3" stroke="#000" stroke-width="1.4"/>
<rect x="334.4" y="28.6" width="9.8" height="114.1" fill="#b3b3b3" stroke="#000" stroke-width="1.4"/>
<rect x="349.1" y="26.9" width="9.8" height="115.8" fill="#b3b3b3" stroke="#000" stroke-width="1.4"/>
<text x="254.4" y="152.7" font-size="11.5" font-weight="bold" text-anchor="end" fill="#111" transform="rotate(-90 254.4 152.7)">0</text>
<text x="269.3" y="152.7" font-size="11.5" font-weight="bold" text-anchor="end" fill="#111" transform="rotate(-90 269.3 152.7)">1</text>
<text x="284.1" y="152.7" font-size="11.5" font-weight="bold" text-anchor="end" fill="#111" transform="rotate(-90 284.1 152.7)">2.5</text>
<text x="298.8" y="152.7" font-size="11.5" font-weight="bold" text-anchor="end" fill="#111" transform="rotate(-90 298.8 152.7)">5</text>
<text x="313.7" y="152.7" font-size="11.5" font-weight="bold" text-anchor="end" fill="#111" transform="rotate(-90 313.7 152.7)">7</text>
<text x="328.4" y="152.7" font-size="11.5" font-weight="bold" text-anchor="end" fill="#111" transform="rotate(-90 328.4 152.7)">11</text>
<text x="343.3" y="152.7" font-size="11.5" font-weight="bold" text-anchor="end" fill="#111" transform="rotate(-90 343.3 152.7)">4(Δ)</text>
<text x="358" y="152.7" font-size="11.5" font-weight="bold" text-anchor="end" fill="#111" textLength="35" lengthAdjust="spacingAndGlyphs" transform="rotate(-90 358 152.7)">4(BSA)</text>
<text x="301.4" y="184.9" font-size="16" font-weight="bold" text-anchor="middle" fill="#111">r</text>
<text x="189.5" y="49.5" font-size="12.5" font-weight="normal" text-anchor="start" fill="#222">E</text>
<text x="198" y="52" font-size="7.5" font-weight="normal" text-anchor="start" fill="#222">T</text>
<g fill="none" stroke-linejoin="round" stroke-linecap="round">
<path d="M521.0,209.5 L521.5,209.6 L522.0,209.7 L522.5,209.9 L523.0,210.0 L523.5,210.1 L524.0,210.2 L524.5,210.3 L525.0,210.4 L525.5,210.5 L526.0,210.6 L526.5,210.7 L527.0,210.8 L527.5,210.9 L528.0,211.0 L528.5,211.1 L529.0,211.2 L529.5,211.2 L530.0,211.3 L530.5,211.4 L531.0,211.4 L531.5,211.5 L532.0,211.5 L532.5,211.5 L533.0,211.6 L533.5,211.6 L534.0,211.6 L534.5,211.7 L535.0,211.7 L535.5,211.7 L536.0,211.8 L536.5,211.8 L537.0,211.8 L537.5,211.8 L538.0,211.9 L538.5,211.9 L539.0,211.9 L539.5,211.9 L540.0,211.9 L540.5,212.0 L541.0,212.0 L541.5,212.0 L542.0,212.0 L542.5,212.0 L543.0,212.0 L543.5,212.0 L544.0,212.0 L544.5,212.0 L545.0,212.0 L545.5,212.0 L546.0,211.9 L546.5,211.9 L547.0,211.9 L547.5,211.8 L548.0,211.8 L548.5,211.7 L549.0,211.7 L549.5,211.6 L550.0,211.6 L550.5,211.5 L551.0,211.4 L551.5,211.4 L552.0,211.3 L552.5,211.2 L553.0,211.2 L553.5,211.1 L554.0,211.0 L554.5,211.0 L555.0,210.9 L555.5,210.8 L556.0,210.7 L556.5,210.7 L557.0,210.6 L557.5,210.5 L558.0,210.4 L558.5,210.3 L559.0,210.2 L559.5,210.1 L560.0,210.0 L560.5,209.8 L561.0,209.7 L561.5,209.6 L562.0,209.5 L562.5,209.3 L563.0,209.2 L563.5,209.0 L564.0,208.9 L564.5,208.7 L565.0,208.5 L565.5,208.3 L566.0,208.1 L566.5,207.9 L567.0,207.6 L567.5,207.4 L568.0,207.1 L568.5,206.8 L569.0,206.5 L569.5,206.2 L570.0,205.9 L570.5,205.6 L571.0,205.3 L571.5,204.9 L572.0,204.6 L572.5,204.2 L573.0,203.9 L573.5,203.5 L574.0,203.1 L574.5,202.8 L575.0,202.4 L575.5,202.0 L576.0,201.5 L576.5,201.1 L577.0,200.6 L577.5,200.1 L578.0,199.6 L578.5,199.1 L579.0,198.6 L579.5,198.1 L580.0,197.5 L580.5,197.0 L581.0,196.4 L581.5,195.9 L582.0,195.3 L582.5,194.7 L583.0,194.1 L583.5,193.5 L584.0,192.9 L584.5,192.3 L585.0,191.6 L585.5,191.0 L586.0,190.3 L586.5,189.6 L587.0,188.9 L587.5,188.2 L588.0,187.5 L588.5,186.8 L589.0,186.0 L589.5,185.3 L590.0,184.5 L590.5,183.7 L591.0,183.0 L591.5,182.2 L592.0,181.4 L592.5,180.7 L593.0,179.9 L593.5,179.1 L594.0,178.4 L594.5,177.6 L595.0,176.9 L595.5,176.1 L596.0,175.4 L596.5,174.6 L597.0,173.9 L597.5,173.1 L598.0,172.4 L598.5,171.6 L599.0,170.8 L599.5,170.1 L600.0,169.3 L600.5,168.5 L601.0,167.7 L601.5,166.9 L602.0,166.2 L602.5,165.4 L603.0,164.7 L603.5,164.0 L604.0,163.3 L604.5,162.6 L605.0,161.9 L605.5,161.3 L606.0,160.7 L606.5,160.0 L607.0,159.4 L607.5,158.8 L608.0,158.2 L608.5,157.7 L609.0,157.1 L609.5,156.5 L610.0,155.9 L610.5,155.4 L611.0,154.8 L611.5,154.3 L612.0,153.7 L612.5,153.2 L613.0,152.6 L613.5,152.1 L614.0,151.5 L614.5,151.0 L615.0,150.5 L615.5,149.9 L616.0,149.4 L616.5,149.0 L617.0,148.5 L617.5,148.0 L618.0,147.6 L618.5,147.2 L619.0,146.8 L619.5,146.5 L620.0,146.1 L620.5,145.7 L621.0,145.4 L621.5,145.1 L622.0,144.7 L622.5,144.4 L623.0,144.1 L623.5,143.9 L624.0,143.6 L624.5,143.3 L625.0,143.1 L625.5,142.9 L626.0,142.7 L626.5,142.4 L627.0,142.2 L627.5,142.0 L628.0,141.8 L628.5,141.7 L629.0,141.5 L629.5,141.4 L630.0,141.3 L630.5,141.2 L631.0,141.1 L631.5,141.0 L632.0,141.0 L632.5,140.9 L633.0,140.8 L633.5,140.8 L634.0,140.7 L634.5,140.7 L635.0,140.6 L635.5,140.6 L636.0,140.6 L636.5,140.6 L637.0,140.6 L637.5,140.6 L638.0,140.6 L638.5,140.6 L639.0,140.6 L639.5,140.6 L640.0,140.6 L640.5,140.6 L641.0,140.7 L641.5,140.7 L642.0,140.7 L642.5,140.7 L643.0,140.7 L643.5,140.7 L644.0,140.7 L644.5,140.8 L645.0,140.8 L645.5,140.9 L646.0,140.9 L646.5,141.0 L647.0,141.0 L647.5,141.1 L648.0,141.2 L648.5,141.3 L649.0,141.3 L649.5,141.4 L650.0,141.5 L650.5,141.6 L651.0,141.7 L651.5,141.8 L652.0,141.9 L652.5,142.0 L653.0,142.2 L653.5,142.3 L654.0,142.5 L654.5,142.6 L655.0,142.8 L655.5,142.9 L656.0,143.1 L656.5,143.3 L657.0,143.5 L657.5,143.6 L658.0,143.8 L658.5,144.0 L659.0,144.2 L659.5,144.3 L660.0,144.5 L660.5,144.7 L661.0,144.8 L661.5,145.0 L662.0,145.2 L662.5,145.4 L663.0,145.5 L663.5,145.7 L664.0,145.9 L664.5,146.1 L665.0,146.3 L665.5,146.5 L666.0,146.7 L666.5,146.9 L667.0,147.1 L667.5,147.3 L668.0,147.5 L668.5,147.7 L669.0,147.9 L669.3,148.0" fill="none" stroke="#222" stroke-width="1.8" stroke-linejoin="round"/>
<path d="M521.0,208.5 L521.5,208.6 L522.0,208.7 L522.5,208.9 L523.0,209.0 L523.5,209.1 L524.0,209.2 L524.5,209.3 L525.0,209.4 L525.5,209.5 L526.0,209.6 L526.5,209.7 L527.0,209.8 L527.5,209.9 L528.0,210.0 L528.5,210.1 L529.0,210.1 L529.5,210.2 L530.0,210.3 L530.5,210.3 L531.0,210.4 L531.5,210.5 L532.0,210.5 L532.5,210.5 L533.0,210.6 L533.5,210.6 L534.0,210.7 L534.5,210.7 L535.0,210.8 L535.5,210.8 L536.0,210.8 L536.5,210.9 L537.0,210.9 L537.5,211.0 L538.0,211.0 L538.5,211.0 L539.0,211.1 L539.5,211.1 L540.0,211.1 L540.5,211.1 L541.0,211.1 L541.5,211.2 L542.0,211.2 L542.5,211.2 L543.0,211.2 L543.5,211.2 L544.0,211.2 L544.5,211.2 L545.0,211.2 L545.5,211.2 L546.0,211.1 L546.5,211.1 L547.0,211.1 L547.5,211.0 L548.0,211.0 L548.5,210.9 L549.0,210.9 L549.5,210.8 L550.0,210.8 L550.5,210.7 L551.0,210.7 L551.5,210.6 L552.0,210.5 L552.5,210.5 L553.0,210.4 L553.5,210.3 L554.0,210.2 L554.5,210.2 L555.0,210.1 L555.5,210.0 L556.0,209.9 L556.5,209.8 L557.0,209.7 L557.5,209.6 L558.0,209.5 L558.5,209.3 L559.0,209.2 L559.5,209.1 L560.0,208.9 L560.5,208.8 L561.0,208.6 L561.5,208.5 L562.0,208.3 L562.5,208.1 L563.0,207.9 L563.5,207.8 L564.0,207.6 L564.5,207.4 L565.0,207.2 L565.5,207.0 L566.0,206.7 L566.5,206.5 L567.0,206.2 L567.5,205.9 L568.0,205.6 L568.5,205.3 L569.0,205.0 L569.5,204.7 L570.0,204.3 L570.5,204.0 L571.0,203.6 L571.5,203.3 L572.0,202.9 L572.5,202.5 L573.0,202.1 L573.5,201.8 L574.0,201.4 L574.5,201.0 L575.0,200.5 L575.5,200.1 L576.0,199.6 L576.5,199.2 L577.0,198.7 L577.5,198.2 L578.0,197.6 L578.5,197.1 L579.0,196.5 L579.5,196.0 L580.0,195.4 L580.5,194.8 L581.0,194.3 L581.5,193.7 L582.0,193.1 L582.5,192.5 L583.0,191.8 L583.5,191.2 L584.0,190.5 L584.5,189.8 L585.0,189.2 L585.5,188.5 L586.0,187.8 L586.5,187.1 L587.0,186.3 L587.5,185.6 L588.0,184.9 L588.5,184.2 L589.0,183.4 L589.5,182.6 L590.0,181.9 L590.5,181.1 L591.0,180.3 L591.5,179.5 L592.0,178.7 L592.5,178.0 L593.0,177.2 L593.5,176.4 L594.0,175.6 L594.5,174.8 L595.0,174.0 L595.5,173.2 L596.0,172.4 L596.5,171.6 L597.0,170.8 L597.5,170.1 L598.0,169.3 L598.5,168.5 L599.0,167.7 L599.5,167.0 L600.0,166.2 L600.5,165.4 L601.0,164.6 L601.5,163.9 L602.0,163.1 L602.5,162.4 L603.0,161.7 L603.5,161.0 L604.0,160.3 L604.5,159.6 L605.0,158.9 L605.5,158.3 L606.0,157.7 L606.5,157.0 L607.0,156.4 L607.5,155.8 L608.0,155.2 L608.5,154.6 L609.0,154.0 L609.5,153.4 L610.0,152.9 L610.5,152.3 L611.0,151.8 L611.5,151.3 L612.0,150.8 L612.5,150.3 L613.0,149.7 L613.5,149.2 L614.0,148.7 L614.5,148.3 L615.0,147.8 L615.5,147.3 L616.0,146.9 L616.5,146.4 L617.0,146.0 L617.5,145.6 L618.0,145.3 L618.5,144.9 L619.0,144.6 L619.5,144.3 L620.0,144.0 L620.5,143.7 L621.0,143.4 L621.5,143.1 L622.0,142.8 L622.5,142.5 L623.0,142.3 L623.5,142.1 L624.0,141.9 L624.5,141.7 L625.0,141.5 L625.5,141.3 L626.0,141.2 L626.5,141.0 L627.0,140.9 L627.5,140.7 L628.0,140.6 L628.5,140.5 L629.0,140.3 L629.5,140.2 L630.0,140.1 L630.5,140.0 L631.0,140.0 L631.5,139.9 L632.0,139.8 L632.5,139.8 L633.0,139.7 L633.5,139.7 L634.0,139.6 L634.5,139.6 L635.0,139.5 L635.5,139.5 L636.0,139.5 L636.5,139.4 L637.0,139.4 L637.5,139.4 L638.0,139.3 L638.5,139.3 L639.0,139.3 L639.5,139.3 L640.0,139.3 L640.5,139.3 L641.0,139.3 L641.5,139.3 L642.0,139.4 L642.5,139.4 L643.0,139.4 L643.5,139.5 L644.0,139.5 L644.5,139.6 L645.0,139.6 L645.5,139.7 L646.0,139.7 L646.5,139.8 L647.0,139.9 L647.5,139.9 L648.0,140.0 L648.5,140.1 L649.0,140.2 L649.5,140.3 L650.0,140.4 L650.5,140.5 L651.0,140.6 L651.5,140.8 L652.0,140.9 L652.5,141.1 L653.0,141.2 L653.5,141.4 L654.0,141.6 L654.5,141.7 L655.0,141.9 L655.5,142.1 L656.0,142.3 L656.5,142.5 L657.0,142.6 L657.5,142.8 L658.0,143.0 L658.5,143.2 L659.0,143.4 L659.5,143.6 L660.0,143.7 L660.5,143.9 L661.0,144.1 L661.5,144.3 L662.0,144.6 L662.5,144.8 L663.0,145.0 L663.5,145.2 L664.0,145.4 L664.5,145.7 L665.0,145.9 L665.5,146.1 L666.0,146.4 L666.5,146.6 L667.0,146.8 L667.5,147.1 L668.0,147.3 L668.5,147.6 L669.0,147.8 L669.3,148.0" fill="none" stroke="#888" stroke-width="1.5" stroke-linejoin="round"/>
<path d="M521.0,188.8 L521.5,189.0 L522.0,189.2 L522.5,189.4 L523.0,189.5 L523.5,189.7 L524.0,189.9 L524.5,190.1 L525.0,190.2 L525.5,190.4 L526.0,190.5 L526.5,190.7 L527.0,190.8 L527.5,190.9 L528.0,191.1 L528.5,191.2 L529.0,191.3 L529.5,191.4 L530.0,191.5 L530.5,191.6 L531.0,191.7 L531.5,191.8 L532.0,191.8 L532.5,191.9 L533.0,192.0 L533.5,192.1 L534.0,192.2 L534.5,192.2 L535.0,192.3 L535.5,192.4 L536.0,192.4 L536.5,192.5 L537.0,192.5 L537.5,192.6 L538.0,192.6 L538.5,192.7 L539.0,192.7 L539.5,192.8 L540.0,192.8 L540.5,192.8 L541.0,192.9 L541.5,192.9 L542.0,192.9 L542.5,192.9 L543.0,193.0 L543.5,193.0 L544.0,193.0 L544.5,193.1 L545.0,193.1 L545.5,193.1 L546.0,193.1 L546.5,193.1 L547.0,193.2 L547.5,193.2 L548.0,193.2 L548.5,193.2 L549.0,193.2 L549.5,193.2 L550.0,193.2 L550.5,193.2 L551.0,193.2 L551.5,193.2 L552.0,193.2 L552.5,193.1 L553.0,193.1 L553.5,193.1 L554.0,193.0 L554.5,193.0 L555.0,192.9 L555.5,192.9 L556.0,192.8 L556.5,192.8 L557.0,192.7 L557.5,192.6 L558.0,192.6 L558.5,192.5 L559.0,192.4 L559.5,192.3 L560.0,192.2 L560.5,192.1 L561.0,191.9 L561.5,191.8 L562.0,191.6 L562.5,191.4 L563.0,191.2 L563.5,191.0 L564.0,190.7 L564.5,190.5 L565.0,190.3 L565.5,190.0 L566.0,189.8 L566.5,189.5 L567.0,189.3 L567.5,189.0 L568.0,188.8 L568.5,188.5 L569.0,188.2 L569.5,188.0 L570.0,187.7 L570.5,187.4 L571.0,187.1 L571.5,186.8 L572.0,186.5 L572.5,186.2 L573.0,185.8 L573.5,185.5 L574.0,185.1 L574.5,184.8 L575.0,184.4 L575.5,184.0 L576.0,183.7 L576.5,183.3 L577.0,182.9 L577.5,182.5 L578.0,182.0 L578.5,181.6 L579.0,181.1 L579.5,180.7 L580.0,180.2 L580.5,179.7 L581.0,179.1 L581.5,178.6 L582.0,178.1 L582.5,177.6 L583.0,177.0 L583.5,176.5 L584.0,175.9 L584.5,175.4 L585.0,174.8 L585.5,174.2 L586.0,173.6 L586.5,173.0 L587.0,172.4 L587.5,171.8 L588.0,171.2 L588.5,170.5 L589.0,169.9 L589.5,169.3 L590.0,168.7 L590.5,168.1 L591.0,167.5 L591.5,166.9 L592.0,166.3 L592.5,165.7 L593.0,165.1 L593.5,164.5 L594.0,163.9 L594.5,163.3 L595.0,162.7 L595.5,162.1 L596.0,161.5 L596.5,160.9 L597.0,160.3 L597.5,159.8 L598.0,159.2 L598.5,158.6 L599.0,158.1 L599.5,157.5 L600.0,157.0 L600.5,156.5 L601.0,155.9 L601.5,155.4 L602.0,154.9 L602.5,154.3 L603.0,153.8 L603.5,153.3 L604.0,152.8 L604.5,152.3 L605.0,151.8 L605.5,151.3 L606.0,150.8 L606.5,150.3 L607.0,149.8 L607.5,149.4 L608.0,148.9 L608.5,148.5 L609.0,148.1 L609.5,147.7 L610.0,147.2 L610.5,146.8 L611.0,146.4 L611.5,146.0 L612.0,145.6 L612.5,145.3 L613.0,144.9 L613.5,144.5 L614.0,144.1 L614.5,143.8 L615.0,143.4 L615.5,143.1 L616.0,142.7 L616.5,142.4 L617.0,142.1 L617.5,141.8 L618.0,141.5 L618.5,141.2 L619.0,140.9 L619.5,140.6 L620.0,140.3 L620.5,140.0 L621.0,139.8 L621.5,139.6 L622.0,139.4 L622.5,139.2 L623.0,139.0 L623.5,138.9 L624.0,138.7 L624.5,138.6 L625.0,138.4 L625.5,138.3 L626.0,138.2 L626.5,138.2 L627.0,138.2 L627.5,138.1 L628.0,138.1 L628.5,138.1 L629.0,138.1 L629.5,138.0 L630.0,138.0 L630.5,138.0 L631.0,138.0 L631.5,138.0 L632.0,138.0 L632.5,138.0 L633.0,138.0 L633.5,138.1 L634.0,138.1 L634.5,138.1 L635.0,138.2 L635.5,138.3 L636.0,138.3 L636.5,138.4 L637.0,138.5 L637.5,138.5 L638.0,138.6 L638.5,138.7 L639.0,138.7 L639.5,138.8 L640.0,138.9 L640.5,139.0 L641.0,139.0 L641.5,139.1 L642.0,139.2 L642.5,139.3 L643.0,139.4 L643.5,139.5 L644.0,139.6 L644.5,139.7 L645.0,139.8 L645.5,139.9 L646.0,140.0 L646.5,140.1 L647.0,140.2 L647.5,140.4 L648.0,140.5 L648.5,140.6 L649.0,140.8 L649.5,140.9 L650.0,141.0 L650.5,141.2 L651.0,141.3 L651.5,141.5 L652.0,141.6 L652.5,141.8 L653.0,141.9 L653.5,142.1 L654.0,142.3 L654.5,142.5 L655.0,142.6 L655.5,142.8 L656.0,143.0 L656.5,143.2 L657.0,143.4 L657.5,143.6 L658.0,143.8 L658.5,143.9 L659.0,144.1 L659.5,144.3 L660.0,144.5 L660.5,144.7 L661.0,144.9 L661.5,145.1 L662.0,145.2 L662.5,145.4 L663.0,145.6 L663.5,145.8 L664.0,146.0 L664.5,146.2 L665.0,146.4 L665.5,146.5 L666.0,146.7 L666.5,146.9 L667.0,147.1 L667.5,147.3 L668.0,147.5 L668.5,147.7 L669.0,147.9 L669.3,148.0" fill="none" stroke="#1a1a8c" stroke-width="1.5" stroke-linejoin="round"/>
<path d="M521.0,102.2 L521.5,102.4 L522.0,102.5 L522.5,102.7 L523.0,102.8 L523.5,103.0 L524.0,103.2 L524.5,103.3 L525.0,103.5 L525.5,103.7 L526.0,103.8 L526.5,104.0 L527.0,104.2 L527.5,104.3 L528.0,104.5 L528.5,104.7 L529.0,104.9 L529.5,105.0 L530.0,105.2 L530.5,105.4 L531.0,105.6 L531.5,105.7 L532.0,105.9 L532.5,106.1 L533.0,106.3 L533.5,106.5 L534.0,106.6 L534.5,106.8 L535.0,107.0 L535.5,107.2 L536.0,107.4 L536.5,107.6 L537.0,107.8 L537.5,108.0 L538.0,108.2 L538.5,108.4 L539.0,108.6 L539.5,108.8 L540.0,109.0 L540.5,109.2 L541.0,109.4 L541.5,109.6 L542.0,109.8 L542.5,110.0 L543.0,110.2 L543.5,110.4 L544.0,110.6 L544.5,110.8 L545.0,111.0 L545.5,111.2 L546.0,111.4 L546.5,111.6 L547.0,111.8 L547.5,112.0 L548.0,112.2 L548.5,112.4 L549.0,112.6 L549.5,112.8 L550.0,113.0 L550.5,113.2 L551.0,113.4 L551.5,113.6 L552.0,113.8 L552.5,114.0 L553.0,114.2 L553.5,114.3 L554.0,114.5 L554.5,114.7 L555.0,114.9 L555.5,115.1 L556.0,115.3 L556.5,115.5 L557.0,115.6 L557.5,115.8 L558.0,115.9 L558.5,116.1 L559.0,116.2 L559.5,116.4 L560.0,116.5 L560.5,116.6 L561.0,116.7 L561.5,116.9 L562.0,117.0 L562.5,117.1 L563.0,117.3 L563.5,117.4 L564.0,117.5 L564.5,117.6 L565.0,117.7 L565.5,117.8 L566.0,117.9 L566.5,117.9 L567.0,118.0 L567.5,118.0 L568.0,118.0 L568.5,118.0 L569.0,118.0 L569.5,118.0 L570.0,118.0 L570.5,117.9 L571.0,117.9 L571.5,117.9 L572.0,117.8 L572.5,117.8 L573.0,117.8 L573.5,117.7 L574.0,117.7 L574.5,117.6 L575.0,117.6 L575.5,117.5 L576.0,117.5 L576.5,117.4 L577.0,117.4 L577.5,117.3 L578.0,117.2 L578.5,117.1 L579.0,117.0 L579.5,116.9 L580.0,116.8 L580.5,116.7 L581.0,116.5 L581.5,116.4 L582.0,116.3 L582.5,116.2 L583.0,116.0 L583.5,115.9 L584.0,115.8 L584.5,115.6 L585.0,115.5 L585.5,115.4 L586.0,115.2 L586.5,115.1 L587.0,115.0 L587.5,114.8 L588.0,114.7 L588.5,114.5 L589.0,114.4 L589.5,114.2 L590.0,114.1 L590.5,113.9 L591.0,113.8 L591.5,113.6 L592.0,113.5 L592.5,113.3 L593.0,113.2 L593.5,113.1 L594.0,112.9 L594.5,112.8 L595.0,112.7 L595.5,112.6 L596.0,112.5 L596.5,112.4 L597.0,112.2 L597.5,112.1 L598.0,112.0 L598.5,111.9 L599.0,111.8 L599.5,111.7 L600.0,111.6 L600.5,111.5 L601.0,111.5 L601.5,111.4 L602.0,111.4 L602.5,111.4 L603.0,111.3 L603.5,111.3 L604.0,111.3 L604.5,111.3 L605.0,111.3 L605.5,111.2 L606.0,111.2 L606.5,111.2 L607.0,111.2 L607.5,111.2 L608.0,111.2 L608.5,111.2 L609.0,111.2 L609.5,111.3 L610.0,111.3 L610.5,111.4 L611.0,111.5 L611.5,111.6 L612.0,111.8 L612.5,111.9 L613.0,112.0 L613.5,112.1 L614.0,112.3 L614.5,112.4 L615.0,112.6 L615.5,112.8 L616.0,112.9 L616.5,113.1 L617.0,113.3 L617.5,113.5 L618.0,113.7 L618.5,113.9 L619.0,114.1 L619.5,114.3 L620.0,114.5 L620.5,114.7 L621.0,115.0 L621.5,115.2 L622.0,115.4 L622.5,115.7 L623.0,116.0 L623.5,116.2 L624.0,116.5 L624.5,116.8 L625.0,117.1 L625.5,117.4 L626.0,117.8 L626.5,118.1 L627.0,118.5 L627.5,118.9 L628.0,119.2 L628.5,119.6 L629.0,120.0 L629.5,120.4 L630.0,120.8 L630.5,121.2 L631.0,121.6 L631.5,122.0 L632.0,122.4 L632.5,122.9 L633.0,123.3 L633.5,123.7 L634.0,124.2 L634.5,124.6 L635.0,125.0 L635.5,125.4 L636.0,125.8 L636.5,126.3 L637.0,126.7 L637.5,127.1 L638.0,127.5 L638.5,127.9 L639.0,128.3 L639.5,128.7 L640.0,129.1 L640.5,129.6 L641.0,130.0 L641.5,130.4 L642.0,130.8 L642.5,131.2 L643.0,131.6 L643.5,132.0 L644.0,132.4 L644.5,132.8 L645.0,133.2 L645.5,133.6 L646.0,134.0 L646.5,134.3 L647.0,134.7 L647.5,135.1 L648.0,135.5 L648.5,135.9 L649.0,136.3 L649.5,136.6 L650.0,137.0 L650.5,137.4 L651.0,137.8 L651.5,138.2 L652.0,138.5 L652.5,138.9 L653.0,139.3 L653.5,139.6 L654.0,140.0 L654.5,140.3 L655.0,140.7 L655.5,141.0 L656.0,141.3 L656.5,141.6 L657.0,141.9 L657.5,142.2 L658.0,142.4 L658.5,142.7 L659.0,143.0 L659.5,143.2 L660.0,143.5 L660.5,143.7 L661.0,144.0 L661.5,144.2 L662.0,144.5 L662.5,144.8 L663.0,145.0 L663.5,145.3 L664.0,145.5 L664.5,145.7 L665.0,146.0 L665.5,146.2 L666.0,146.5 L666.5,146.7 L667.0,146.9 L667.5,147.2 L668.0,147.4 L668.5,147.6 L669.0,147.9 L669.3,148.0" fill="none" stroke="#e63a3a" stroke-width="1.5" stroke-linejoin="round"/>
<path d="M521.0,81.3 L521.5,81.5 L522.0,81.7 L522.5,81.9 L523.0,82.1 L523.5,82.3 L524.0,82.5 L524.5,82.6 L525.0,82.8 L525.5,83.0 L526.0,83.2 L526.5,83.4 L527.0,83.6 L527.5,83.8 L528.0,84.0 L528.5,84.2 L529.0,84.4 L529.5,84.6 L530.0,84.8 L530.5,85.0 L531.0,85.2 L531.5,85.4 L532.0,85.6 L532.5,85.8 L533.0,86.0 L533.5,86.2 L534.0,86.4 L534.5,86.7 L535.0,86.9 L535.5,87.1 L536.0,87.3 L536.5,87.4 L537.0,87.6 L537.5,87.8 L538.0,88.0 L538.5,88.2 L539.0,88.3 L539.5,88.5 L540.0,88.7 L540.5,88.8 L541.0,89.0 L541.5,89.1 L542.0,89.3 L542.5,89.4 L543.0,89.6 L543.5,89.7 L544.0,89.8 L544.5,90.0 L545.0,90.1 L545.5,90.3 L546.0,90.4 L546.5,90.6 L547.0,90.8 L547.5,90.9 L548.0,91.1 L548.5,91.3 L549.0,91.5 L549.5,91.6 L550.0,91.8 L550.5,92.0 L551.0,92.2 L551.5,92.4 L552.0,92.6 L552.5,92.8 L553.0,93.0 L553.5,93.2 L554.0,93.4 L554.5,93.6 L555.0,93.8 L555.5,94.0 L556.0,94.2 L556.5,94.4 L557.0,94.6 L557.5,94.8 L558.0,95.0 L558.5,95.2 L559.0,95.4 L559.5,95.6 L560.0,95.8 L560.5,96.0 L561.0,96.2 L561.5,96.4 L562.0,96.5 L562.5,96.7 L563.0,96.9 L563.5,97.1 L564.0,97.3 L564.5,97.4 L565.0,97.6 L565.5,97.8 L566.0,97.9 L566.5,98.1 L567.0,98.2 L567.5,98.4 L568.0,98.5 L568.5,98.7 L569.0,98.8 L569.5,99.0 L570.0,99.1 L570.5,99.2 L571.0,99.3 L571.5,99.5 L572.0,99.6 L572.5,99.7 L573.0,99.8 L573.5,99.9 L574.0,99.9 L574.5,100.0 L575.0,100.1 L575.5,100.2 L576.0,100.3 L576.5,100.4 L577.0,100.5 L577.5,100.5 L578.0,100.6 L578.5,100.7 L579.0,100.7 L579.5,100.8 L580.0,100.8 L580.5,100.8 L581.0,100.9 L581.5,100.9 L582.0,100.9 L582.5,101.0 L583.0,101.0 L583.5,101.0 L584.0,101.1 L584.5,101.1 L585.0,101.1 L585.5,101.1 L586.0,101.2 L586.5,101.2 L587.0,101.2 L587.5,101.2 L588.0,101.2 L588.5,101.2 L589.0,101.2 L589.5,101.2 L590.0,101.2 L590.5,101.2 L591.0,101.2 L591.5,101.2 L592.0,101.2 L592.5,101.2 L593.0,101.2 L593.5,101.2 L594.0,101.2 L594.5,101.2 L595.0,101.2 L595.5,101.2 L596.0,101.2 L596.5,101.2 L597.0,101.2 L597.5,101.2 L598.0,101.2 L598.5,101.2 L599.0,101.2 L599.5,101.2 L600.0,101.2 L600.5,101.3 L601.0,101.3 L601.5,101.3 L602.0,101.3 L602.5,101.3 L603.0,101.3 L603.5,101.3 L604.0,101.4 L604.5,101.4 L605.0,101.4 L605.5,101.5 L606.0,101.5 L606.5,101.6 L607.0,101.7 L607.5,101.8 L608.0,101.9 L608.5,102.0 L609.0,102.1 L609.5,102.3 L610.0,102.4 L610.5,102.6 L611.0,102.8 L611.5,103.0 L612.0,103.3 L612.5,103.5 L613.0,103.8 L613.5,104.1 L614.0,104.4 L614.5,104.7 L615.0,105.1 L615.5,105.5 L616.0,105.9 L616.5,106.3 L617.0,106.7 L617.5,107.1 L618.0,107.5 L618.5,107.9 L619.0,108.3 L619.5,108.7 L620.0,109.2 L620.5,109.6 L621.0,110.1 L621.5,110.5 L622.0,111.0 L622.5,111.5 L623.0,112.0 L623.5,112.5 L624.0,113.0 L624.5,113.6 L625.0,114.1 L625.5,114.7 L626.0,115.3 L626.5,116.0 L627.0,116.6 L627.5,117.2 L628.0,117.8 L628.5,118.4 L629.0,119.0 L629.5,119.6 L630.0,120.2 L630.5,120.8 L631.0,121.4 L631.5,122.0 L632.0,122.7 L632.5,123.3 L633.0,123.9 L633.5,124.5 L634.0,125.1 L634.5,125.7 L635.0,126.3 L635.5,126.9 L636.0,127.5 L636.5,128.1 L637.0,128.7 L637.5,129.3 L638.0,129.8 L638.5,130.3 L639.0,130.8 L639.5,131.3 L640.0,131.7 L640.5,132.2 L641.0,132.6 L641.5,133.0 L642.0,133.5 L642.5,133.9 L643.0,134.3 L643.5,134.7 L644.0,135.1 L644.5,135.5 L645.0,135.9 L645.5,136.3 L646.0,136.8 L646.5,137.2 L647.0,137.6 L647.5,138.0 L648.0,138.4 L648.5,138.7 L649.0,139.1 L649.5,139.5 L650.0,139.8 L650.5,140.1 L651.0,140.4 L651.5,140.8 L652.0,141.1 L652.5,141.4 L653.0,141.6 L653.5,141.9 L654.0,142.2 L654.5,142.5 L655.0,142.7 L655.5,143.0 L656.0,143.2 L656.5,143.4 L657.0,143.7 L657.5,143.9 L658.0,144.1 L658.5,144.3 L659.0,144.5 L659.5,144.7 L660.0,144.9 L660.5,145.1 L661.0,145.2 L661.5,145.4 L662.0,145.6 L662.5,145.8 L663.0,146.0 L663.5,146.1 L664.0,146.3 L664.5,146.5 L665.0,146.6 L665.5,146.8 L666.0,147.0 L666.5,147.1 L667.0,147.3 L667.5,147.5 L668.0,147.6 L668.5,147.8 L669.0,147.9 L669.3,148.0" fill="none" stroke="#2e8b2e" stroke-width="1.5" stroke-linejoin="round"/>
<path d="M521.0,35.3 L521.5,35.4 L522.0,35.6 L522.5,35.7 L523.0,35.8 L523.5,35.9 L524.0,36.1 L524.5,36.2 L525.0,36.4 L525.5,36.5 L526.0,36.6 L526.5,36.8 L527.0,36.9 L527.5,37.1 L528.0,37.2 L528.5,37.4 L529.0,37.5 L529.5,37.6 L530.0,37.8 L530.5,37.9 L531.0,38.1 L531.5,38.3 L532.0,38.4 L532.5,38.6 L533.0,38.7 L533.5,38.9 L534.0,39.0 L534.5,39.2 L535.0,39.4 L535.5,39.5 L536.0,39.7 L536.5,39.9 L537.0,40.0 L537.5,40.2 L538.0,40.4 L538.5,40.6 L539.0,40.8 L539.5,41.0 L540.0,41.2 L540.5,41.4 L541.0,41.6 L541.5,41.8 L542.0,42.0 L542.5,42.2 L543.0,42.4 L543.5,42.6 L544.0,42.9 L544.5,43.1 L545.0,43.3 L545.5,43.5 L546.0,43.8 L546.5,44.0 L547.0,44.2 L547.5,44.4 L548.0,44.7 L548.5,44.9 L549.0,45.1 L549.5,45.4 L550.0,45.6 L550.5,45.9 L551.0,46.1 L551.5,46.4 L552.0,46.7 L552.5,46.9 L553.0,47.2 L553.5,47.4 L554.0,47.6 L554.5,47.9 L555.0,48.1 L555.5,48.4 L556.0,48.6 L556.5,48.8 L557.0,49.0 L557.5,49.2 L558.0,49.4 L558.5,49.6 L559.0,49.8 L559.5,50.0 L560.0,50.2 L560.5,50.3 L561.0,50.5 L561.5,50.7 L562.0,50.9 L562.5,51.1 L563.0,51.2 L563.5,51.4 L564.0,51.6 L564.5,51.7 L565.0,51.9 L565.5,52.0 L566.0,52.2 L566.5,52.4 L567.0,52.5 L567.5,52.6 L568.0,52.8 L568.5,52.9 L569.0,53.1 L569.5,53.2 L570.0,53.3 L570.5,53.4 L571.0,53.6 L571.5,53.7 L572.0,53.8 L572.5,54.0 L573.0,54.1 L573.5,54.2 L574.0,54.4 L574.5,54.5 L575.0,54.7 L575.5,54.8 L576.0,55.0 L576.5,55.2 L577.0,55.4 L577.5,55.5 L578.0,55.7 L578.5,55.9 L579.0,56.2 L579.5,56.4 L580.0,56.6 L580.5,56.8 L581.0,57.0 L581.5,57.3 L582.0,57.5 L582.5,57.7 L583.0,58.0 L583.5,58.2 L584.0,58.4 L584.5,58.7 L585.0,58.9 L585.5,59.2 L586.0,59.5 L586.5,59.8 L587.0,60.1 L587.5,60.4 L588.0,60.8 L588.5,61.1 L589.0,61.5 L589.5,62.0 L590.0,62.4 L590.5,62.9 L591.0,63.4 L591.5,63.9 L592.0,64.5 L592.5,65.1 L593.0,65.8 L593.5,66.6 L594.0,67.3 L594.5,68.1 L595.0,68.9 L595.5,69.6 L596.0,70.4 L596.5,71.2 L597.0,71.9 L597.5,72.7 L598.0,73.5 L598.5,74.3 L599.0,75.2 L599.5,76.0 L600.0,76.9 L600.5,77.8 L601.0,78.7 L601.5,79.6 L602.0,80.5 L602.5,81.5 L603.0,82.4 L603.5,83.4 L604.0,84.4 L604.5,85.4 L605.0,86.4 L605.5,87.4 L606.0,88.4 L606.5,89.5 L607.0,90.5 L607.5,91.6 L608.0,92.6 L608.5,93.7 L609.0,94.8 L609.5,95.9 L610.0,97.0 L610.5,98.2 L611.0,99.3 L611.5,100.5 L612.0,101.7 L612.5,102.9 L613.0,104.1 L613.5,105.4 L614.0,106.5 L614.5,107.7 L615.0,108.8 L615.5,109.9 L616.0,110.9 L616.5,112.0 L617.0,113.0 L617.5,114.0 L618.0,115.0 L618.5,116.0 L619.0,117.0 L619.5,117.9 L620.0,118.9 L620.5,119.8 L621.0,120.7 L621.5,121.7 L622.0,122.6 L622.5,123.5 L623.0,124.4 L623.5,125.3 L624.0,126.2 L624.5,127.0 L625.0,127.8 L625.5,128.6 L626.0,129.3 L626.5,130.1 L627.0,130.8 L627.5,131.5 L628.0,132.1 L628.5,132.8 L629.0,133.3 L629.5,133.8 L630.0,134.2 L630.5,134.7 L631.0,135.1 L631.5,135.5 L632.0,135.8 L632.5,136.2 L633.0,136.5 L633.5,136.7 L634.0,137.0 L634.5,137.2 L635.0,137.5 L635.5,137.7 L636.0,137.9 L636.5,138.0 L637.0,138.2 L637.5,138.4 L638.0,138.5 L638.5,138.7 L639.0,138.8 L639.5,139.0 L640.0,139.1 L640.5,139.3 L641.0,139.5 L641.5,139.6 L642.0,139.8 L642.5,139.9 L643.0,140.1 L643.5,140.2 L644.0,140.3 L644.5,140.5 L645.0,140.6 L645.5,140.8 L646.0,140.9 L646.5,141.1 L647.0,141.2 L647.5,141.3 L648.0,141.5 L648.5,141.7 L649.0,141.8 L649.5,142.0 L650.0,142.1 L650.5,142.3 L651.0,142.5 L651.5,142.6 L652.0,142.8 L652.5,143.0 L653.0,143.1 L653.5,143.3 L654.0,143.4 L654.5,143.6 L655.0,143.8 L655.5,143.9 L656.0,144.1 L656.5,144.3 L657.0,144.4 L657.5,144.6 L658.0,144.7 L658.5,144.9 L659.0,145.1 L659.5,145.2 L660.0,145.4 L660.5,145.5 L661.0,145.7 L661.5,145.9 L662.0,146.0 L662.5,146.1 L663.0,146.3 L663.5,146.4 L664.0,146.6 L664.5,146.7 L665.0,146.9 L665.5,147.0 L666.0,147.1 L666.5,147.3 L667.0,147.4 L667.5,147.5 L668.0,147.7 L668.5,147.8 L669.0,147.9 L669.3,148.0" fill="none" stroke="#3333e6" stroke-width="1.5" stroke-linejoin="round"/>
<path d="M521.0,24.8 L521.5,24.9 L522.0,25.0 L522.5,25.1 L523.0,25.2 L523.5,25.3 L524.0,25.4 L524.5,25.5 L525.0,25.6 L525.5,25.7 L526.0,25.8 L526.5,25.9 L527.0,26.0 L527.5,26.1 L528.0,26.3 L528.5,26.4 L529.0,26.5 L529.5,26.6 L530.0,26.7 L530.5,26.9 L531.0,27.0 L531.5,27.1 L532.0,27.2 L532.5,27.4 L533.0,27.5 L533.5,27.6 L534.0,27.8 L534.5,27.9 L535.0,28.1 L535.5,28.2 L536.0,28.4 L536.5,28.5 L537.0,28.7 L537.5,28.8 L538.0,29.0 L538.5,29.2 L539.0,29.4 L539.5,29.6 L540.0,29.8 L540.5,30.0 L541.0,30.2 L541.5,30.4 L542.0,30.6 L542.5,30.9 L543.0,31.1 L543.5,31.3 L544.0,31.6 L544.5,31.8 L545.0,32.1 L545.5,32.3 L546.0,32.5 L546.5,32.8 L547.0,33.0 L547.5,33.2 L548.0,33.5 L548.5,33.7 L549.0,33.9 L549.5,34.2 L550.0,34.4 L550.5,34.6 L551.0,34.9 L551.5,35.1 L552.0,35.3 L552.5,35.6 L553.0,35.8 L553.5,36.1 L554.0,36.3 L554.5,36.5 L555.0,36.7 L555.5,37.0 L556.0,37.2 L556.5,37.4 L557.0,37.6 L557.5,37.8 L558.0,38.0 L558.5,38.2 L559.0,38.4 L559.5,38.6 L560.0,38.8 L560.5,39.0 L561.0,39.2 L561.5,39.4 L562.0,39.5 L562.5,39.7 L563.0,39.9 L563.5,40.1 L564.0,40.3 L564.5,40.5 L565.0,40.6 L565.5,40.8 L566.0,41.0 L566.5,41.2 L567.0,41.4 L567.5,41.5 L568.0,41.7 L568.5,41.9 L569.0,42.0 L569.5,42.2 L570.0,42.4 L570.5,42.5 L571.0,42.7 L571.5,42.8 L572.0,43.0 L572.5,43.2 L573.0,43.4 L573.5,43.5 L574.0,43.7 L574.5,43.9 L575.0,44.1 L575.5,44.3 L576.0,44.5 L576.5,44.7 L577.0,44.9 L577.5,45.2 L578.0,45.4 L578.5,45.6 L579.0,45.9 L579.5,46.2 L580.0,46.5 L580.5,46.9 L581.0,47.3 L581.5,47.7 L582.0,48.2 L582.5,48.7 L583.0,49.2 L583.5,49.7 L584.0,50.2 L584.5,50.8 L585.0,51.3 L585.5,51.9 L586.0,52.5 L586.5,53.1 L587.0,53.8 L587.5,54.5 L588.0,55.3 L588.5,56.1 L589.0,56.9 L589.5,57.8 L590.0,58.7 L590.5,59.7 L591.0,60.7 L591.5,61.7 L592.0,62.8 L592.5,63.9 L593.0,65.1 L593.5,66.3 L594.0,67.5 L594.5,68.8 L595.0,70.0 L595.5,71.2 L596.0,72.4 L596.5,73.7 L597.0,74.9 L597.5,76.2 L598.0,77.4 L598.5,78.7 L599.0,80.0 L599.5,81.3 L600.0,82.6 L600.5,84.0 L601.0,85.3 L601.5,86.7 L602.0,88.0 L602.5,89.3 L603.0,90.6 L603.5,91.9 L604.0,93.1 L604.5,94.5 L605.0,95.8 L605.5,97.2 L606.0,98.7 L606.5,100.1 L607.0,101.6 L607.5,103.0 L608.0,104.4 L608.5,105.8 L609.0,107.2 L609.5,108.5 L610.0,109.8 L610.5,111.0 L611.0,112.2 L611.5,113.3 L612.0,114.4 L612.5,115.5 L613.0,116.5 L613.5,117.5 L614.0,118.5 L614.5,119.4 L615.0,120.3 L615.5,121.2 L616.0,122.1 L616.5,122.9 L617.0,123.7 L617.5,124.5 L618.0,125.2 L618.5,125.9 L619.0,126.5 L619.5,127.2 L620.0,127.8 L620.5,128.4 L621.0,128.9 L621.5,129.5 L622.0,130.0 L622.5,130.5 L623.0,131.0 L623.5,131.5 L624.0,131.9 L624.5,132.4 L625.0,132.8 L625.5,133.3 L626.0,133.7 L626.5,134.1 L627.0,134.4 L627.5,134.8 L628.0,135.1 L628.5,135.5 L629.0,135.8 L629.5,136.1 L630.0,136.4 L630.5,136.7 L631.0,136.9 L631.5,137.2 L632.0,137.4 L632.5,137.6 L633.0,137.8 L633.5,138.0 L634.0,138.2 L634.5,138.4 L635.0,138.6 L635.5,138.7 L636.0,138.9 L636.5,139.0 L637.0,139.2 L637.5,139.3 L638.0,139.5 L638.5,139.6 L639.0,139.8 L639.5,139.9 L640.0,140.0 L640.5,140.1 L641.0,140.3 L641.5,140.4 L642.0,140.5 L642.5,140.6 L643.0,140.7 L643.5,140.9 L644.0,141.0 L644.5,141.1 L645.0,141.3 L645.5,141.4 L646.0,141.5 L646.5,141.7 L647.0,141.8 L647.5,141.9 L648.0,142.1 L648.5,142.2 L649.0,142.3 L649.5,142.5 L650.0,142.6 L650.5,142.7 L651.0,142.9 L651.5,143.0 L652.0,143.1 L652.5,143.3 L653.0,143.4 L653.5,143.6 L654.0,143.7 L654.5,143.9 L655.0,144.0 L655.5,144.2 L656.0,144.3 L656.5,144.5 L657.0,144.6 L657.5,144.8 L658.0,144.9 L658.5,145.1 L659.0,145.2 L659.5,145.4 L660.0,145.5 L660.5,145.6 L661.0,145.8 L661.5,145.9 L662.0,146.1 L662.5,146.2 L663.0,146.3 L663.5,146.5 L664.0,146.6 L664.5,146.7 L665.0,146.9 L665.5,147.0 L666.0,147.1 L666.5,147.3 L667.0,147.4 L667.5,147.5 L668.0,147.7 L668.5,147.8 L669.0,147.9 L669.3,148.0" fill="none" stroke="#ff33ee" stroke-width="1.5" stroke-linejoin="round"/>
</g>
<line x1="495.9" y1="14.7" x2="495.9" y2="215.3" stroke="#000" stroke-width="2.2"/>
<line x1="494.9" y1="214.3" x2="670.2" y2="214.3" stroke="#000" stroke-width="2.4"/>
<line x1="490.5" y1="15.1" x2="495.9" y2="15.1" stroke="#666" stroke-width="1"/>
<text x="483.6" y="20" font-size="14" font-weight="bold" text-anchor="end" fill="#000" textLength="18" lengthAdjust="spacingAndGlyphs">1,3</text>
<line x1="490.5" y1="59.7" x2="495.9" y2="59.7" stroke="#666" stroke-width="1"/>
<text x="483.6" y="64.6" font-size="14" font-weight="bold" text-anchor="end" fill="#000" textLength="18" lengthAdjust="spacingAndGlyphs">1,2</text>
<line x1="490.5" y1="104.3" x2="495.9" y2="104.3" stroke="#666" stroke-width="1"/>
<text x="483.6" y="109.2" font-size="14" font-weight="bold" text-anchor="end" fill="#000" textLength="18" lengthAdjust="spacingAndGlyphs">1,1</text>
<line x1="490.5" y1="148.9" x2="495.9" y2="148.9" stroke="#666" stroke-width="1"/>
<text x="483.6" y="153.8" font-size="14" font-weight="bold" text-anchor="end" fill="#000" textLength="18" lengthAdjust="spacingAndGlyphs">1,0</text>
<line x1="490.5" y1="193.5" x2="495.9" y2="193.5" stroke="#666" stroke-width="1"/>
<text x="483.6" y="198.4" font-size="14" font-weight="bold" text-anchor="end" fill="#000" textLength="18" lengthAdjust="spacingAndGlyphs">0,9</text>
<line x1="495.9" y1="214.3" x2="495.9" y2="219" stroke="#666" stroke-width="1"/>
<text x="495.9" y="240.2" font-size="14" font-weight="bold" text-anchor="middle" fill="#000" textLength="14" lengthAdjust="spacingAndGlyphs">10</text>
<line x1="520.8" y1="214.3" x2="520.8" y2="219" stroke="#666" stroke-width="1"/>
<text x="520.8" y="240.2" font-size="14" font-weight="bold" text-anchor="middle" fill="#000" textLength="14" lengthAdjust="spacingAndGlyphs">20</text>
<line x1="545.6" y1="214.3" x2="545.6" y2="219" stroke="#666" stroke-width="1"/>
<text x="545.6" y="240.2" font-size="14" font-weight="bold" text-anchor="middle" fill="#000" textLength="14" lengthAdjust="spacingAndGlyphs">30</text>
<line x1="570.5" y1="214.3" x2="570.5" y2="219" stroke="#666" stroke-width="1"/>
<text x="570.5" y="240.2" font-size="14" font-weight="bold" text-anchor="middle" fill="#000" textLength="14" lengthAdjust="spacingAndGlyphs">40</text>
<line x1="595.3" y1="214.3" x2="595.3" y2="219" stroke="#666" stroke-width="1"/>
<text x="595.3" y="240.2" font-size="14" font-weight="bold" text-anchor="middle" fill="#000" textLength="14" lengthAdjust="spacingAndGlyphs">50</text>
<line x1="620.2" y1="214.3" x2="620.2" y2="219" stroke="#666" stroke-width="1"/>
<text x="620.2" y="240.2" font-size="14" font-weight="bold" text-anchor="middle" fill="#000" textLength="14" lengthAdjust="spacingAndGlyphs">60</text>
<line x1="645" y1="214.3" x2="645" y2="219" stroke="#666" stroke-width="1"/>
<text x="645" y="240.2" font-size="14" font-weight="bold" text-anchor="middle" fill="#000" textLength="14" lengthAdjust="spacingAndGlyphs">70</text>
<line x1="669.9" y1="214.3" x2="669.9" y2="219" stroke="#666" stroke-width="1"/>
<text x="669.9" y="240.2" font-size="14" font-weight="bold" text-anchor="middle" fill="#000" textLength="14" lengthAdjust="spacingAndGlyphs">80</text>
<text x="582.9" y="263.7" font-size="14.5" font-weight="bold" text-anchor="middle" fill="#000" textLength="112.5" lengthAdjust="spacingAndGlyphs">Temperature (°C)</text>
<text x="454.3" y="115.2" font-size="14" font-weight="bold" text-anchor="middle" fill="#000" textLength="27" lengthAdjust="spacingAndGlyphs" transform="rotate(-90 454.3 115.2)">RFU</text>
<text x="419.3" y="28.9" font-size="29" font-weight="normal" text-anchor="start" fill="#111" textLength="16.6" lengthAdjust="spacingAndGlyphs">b</text>
<text x="503" y="20.6" font-size="11.5" font-weight="normal" text-anchor="start" fill="#2a2a2a" textLength="18" lengthAdjust="spacingAndGlyphs">r= 7</text>
<text x="503" y="47" font-size="11.5" font-weight="normal" text-anchor="start" fill="#2a2a2a" textLength="18" lengthAdjust="spacingAndGlyphs">r= 5</text>
<text x="504.8" y="95" font-size="11.5" font-weight="normal" text-anchor="start" fill="#2a2a2a" textLength="23.7" lengthAdjust="spacingAndGlyphs">r=2.5</text>
<text x="505.6" y="115.8" font-size="11.5" font-weight="normal" text-anchor="start" fill="#2a2a2a" textLength="15.8" lengthAdjust="spacingAndGlyphs">r=1</text>
<line x1="591.4" y1="166.5" x2="612.3" y2="176.6" stroke="#111" stroke-width="1.2"/>
<line x1="592.3" y1="181.3" x2="618" y2="194.6" stroke="#111" stroke-width="1.2"/>
<line x1="583.8" y1="192.7" x2="610.4" y2="206.4" stroke="#111" stroke-width="1.2"/>
<text x="618" y="181.3" font-size="11.5" font-weight="normal" text-anchor="start" fill="#222" textLength="52" lengthAdjust="spacingAndGlyphs">r=4, A1 (Δ)</text>
<text x="627.5" y="197.5" font-size="11.5" font-weight="normal" text-anchor="start" fill="#222" textLength="16.2" lengthAdjust="spacingAndGlyphs">r=0</text>
<text x="619" y="208.9" font-size="11.5" font-weight="normal" text-anchor="start" fill="#222" textLength="40.8" lengthAdjust="spacingAndGlyphs">r=4, BSA</text>
<g fill="none" stroke-linejoin="round" stroke-linecap="round">
<path d="M486.9,383.5 L487.4,383.5 L487.9,383.5 L488.4,383.6 L488.9,383.6 L489.4,383.6 L489.9,383.6 L490.4,383.7 L490.9,383.7 L491.4,383.7 L491.9,383.7 L492.4,383.8 L492.9,383.8 L493.4,383.8 L493.9,383.8 L494.4,383.9 L494.9,383.9 L495.4,383.9 L495.9,384.0 L496.4,384.0 L496.9,384.0 L497.4,384.0 L497.9,384.1 L498.4,384.1 L498.9,384.2 L499.4,384.2 L499.9,384.3 L500.4,384.3 L500.9,384.4 L501.4,384.5 L501.9,384.7 L502.4,384.9 L502.9,385.1 L503.4,385.3 L503.9,385.5 L504.4,385.7 L504.9,386.0 L505.4,386.2 L505.9,386.5 L506.4,386.7 L506.9,387.0 L507.4,387.2 L507.9,387.4 L508.4,387.6 L508.9,387.9 L509.4,388.1 L509.9,388.4 L510.4,388.6 L510.9,388.9 L511.4,389.2 L511.9,389.5 L512.4,389.8 L512.9,390.1 L513.4,390.4 L513.9,390.8 L514.4,391.2 L514.9,391.7 L515.4,392.2 L515.9,392.7 L516.4,393.2 L516.9,393.8 L517.4,394.3 L517.9,394.9 L518.4,395.5 L518.9,396.0 L519.4,396.7 L519.9,397.3 L520.4,397.9 L520.9,398.6 L521.4,399.3 L521.9,399.9 L522.4,400.6 L522.9,401.4 L523.4,402.1 L523.9,402.8 L524.4,403.6 L524.9,404.4 L525.4,405.2 L525.9,406.1 L526.4,406.9 L526.9,407.7 L527.4,408.5 L527.9,409.3 L528.4,410.1 L528.9,410.9 L529.4,411.7 L529.9,412.5 L530.4,413.2 L530.9,414.0 L531.4,414.8 L531.9,415.6 L532.4,416.4 L532.9,417.1 L533.4,417.9 L533.9,418.7 L534.4,419.5 L534.9,420.3 L535.4,421.1 L535.9,422.0 L536.4,422.8 L536.9,423.7 L537.4,424.5 L537.9,425.3 L538.4,426.1 L538.9,426.9 L539.4,427.6 L539.9,428.3 L540.4,429.0 L540.9,429.7 L541.4,430.4 L541.9,431.1 L542.4,431.7 L542.9,432.3 L543.4,432.9 L543.9,433.5 L544.4,434.1 L544.9,434.6 L545.4,435.2 L545.9,435.8 L546.4,436.3 L546.9,436.8 L547.4,437.3 L547.9,437.7 L548.4,438.1 L548.9,438.4 L549.4,438.7 L549.9,439.0 L550.4,439.3 L550.9,439.6 L551.4,439.8 L551.9,440.1 L552.4,440.3 L552.9,440.5 L553.4,440.7 L553.9,440.8 L554.4,440.9 L554.9,441.0 L555.4,441.0 L555.9,441.0 L556.4,440.9 L556.9,440.8 L557.4,440.7 L557.9,440.6 L558.4,440.5 L558.9,440.3 L559.4,440.2 L559.9,440.0 L560.4,439.9 L560.9,439.7 L561.4,439.5 L561.9,439.2 L562.4,439.0 L562.9,438.7 L563.4,438.4 L563.9,438.1 L564.4,437.8 L564.9,437.4 L565.4,437.1 L565.9,436.7 L566.4,436.3 L566.9,435.9 L567.4,435.4 L567.9,435.0 L568.4,434.5 L568.9,434.1 L569.4,433.7 L569.9,433.3 L570.4,432.9 L570.9,432.5 L571.4,432.1 L571.9,431.7 L572.4,431.3 L572.9,430.8 L573.4,430.3 L573.9,429.7 L574.4,429.1 L574.9,428.3 L575.4,427.3 L575.9,426.1 L576.4,424.7 L576.9,423.3 L577.4,421.9 L577.9,420.4 L578.4,419.0 L578.9,417.7 L579.4,416.5 L579.9,415.2 L580.4,413.9 L580.9,412.6 L581.4,411.4 L581.9,410.2 L582.4,409.1 L582.9,408.1 L583.4,407.1 L583.9,406.1 L584.4,405.1 L584.9,404.2 L585.4,403.3 L585.9,402.4 L586.4,401.5 L586.9,400.6 L587.4,399.8 L587.9,399.0 L588.4,398.2 L588.9,397.4 L589.4,396.6 L589.9,395.8 L590.4,395.1 L590.9,394.4 L591.4,393.7 L591.9,393.1 L592.4,392.5 L592.9,392.0 L593.4,391.5 L593.9,391.0 L594.4,390.5 L594.9,390.0 L595.4,389.6 L595.9,389.1 L596.4,388.6 L596.9,388.2 L597.4,387.7 L597.9,387.2 L598.4,386.7 L598.9,386.2 L599.4,385.6 L599.9,385.1 L600.4,384.6 L600.9,384.1 L601.4,383.5 L601.9,383.0 L602.4,382.6 L602.9,382.1 L603.4,381.6 L603.9,381.2 L604.4,380.8 L604.9,380.3 L605.4,379.9 L605.9,379.5 L606.4,379.1 L606.9,378.7 L607.4,378.3 L607.9,377.9 L608.4,377.6 L608.9,377.2 L609.4,376.9 L609.9,376.5 L610.4,376.2 L610.9,375.9 L611.4,375.5 L611.9,375.2 L612.4,374.9 L612.9,374.6 L613.4,374.3 L613.9,374.0 L614.4,373.7 L614.9,373.5 L615.4,373.2 L615.9,373.0 L616.4,372.8 L616.9,372.5 L617.4,372.3 L617.9,372.1 L618.4,372.0 L618.9,371.8 L619.4,371.6 L619.9,371.4 L620.4,371.3 L620.9,371.1 L621.4,371.0 L621.9,370.8 L622.4,370.7 L622.9,370.5 L623.4,370.4 L623.9,370.3 L624.4,370.1 L624.9,370.0 L625.4,369.9 L625.9,369.8 L626.4,369.7 L626.9,369.6 L627.4,369.5 L627.9,369.4 L628.4,369.3 L628.9,369.2 L629.4,369.1 L629.9,369.0 L630.4,368.9 L630.9,368.8 L631.4,368.8 L631.9,368.7 L632.4,368.6 L632.9,368.5 L633.4,368.4 L633.9,368.4 L634.4,368.3 L634.9,368.2 L635.4,368.1 L635.9,368.1 L636.4,368.0 L636.9,367.9 L637.4,367.9 L637.9,367.8 L638.4,367.7 L638.9,367.7 L639.4,367.6 L639.9,367.5 L640.4,367.4 L640.9,367.3 L641.4,367.3 L641.9,367.2 L642.4,367.1 L642.9,367.0 L643.4,366.9 L643.9,366.8 L644.4,366.7 L644.9,366.6 L645.4,366.5 L645.9,366.4 L646.4,366.3 L646.9,366.2 L647.4,366.1 L647.9,366.0 L648.4,365.9 L648.9,365.9 L649.4,365.8 L649.9,365.7 L650.4,365.6 L650.9,365.5 L651.4,365.4 L651.9,365.4 L652.4,365.3 L652.9,365.2 L653.4,365.2 L653.9,365.1 L654.4,365.1 L654.9,365.0 L655.4,365.0 L655.9,365.0 L656.4,365.0 L656.9,365.2 L657.4,365.4 L657.9,365.7 L658.4,365.9 L658.5,366.0" fill="none" stroke="#888" stroke-width="1.3" stroke-linejoin="round"/>
<path d="M486.9,386.4 L487.4,386.4 L487.9,386.4 L488.4,386.4 L488.9,386.3 L489.4,386.3 L489.9,386.3 L490.4,386.2 L490.9,386.2 L491.4,386.2 L491.9,386.1 L492.4,386.1 L492.9,386.0 L493.4,386.0 L493.9,385.9 L494.4,385.8 L494.9,385.6 L495.4,385.5 L495.9,385.4 L496.4,385.2 L496.9,385.1 L497.4,384.9 L497.9,384.8 L498.4,384.7 L498.9,384.6 L499.4,384.5 L499.9,384.5 L500.4,384.5 L500.9,384.6 L501.4,384.7 L501.9,384.8 L502.4,385.0 L502.9,385.2 L503.4,385.5 L503.9,385.7 L504.4,386.0 L504.9,386.3 L505.4,386.6 L505.9,386.9 L506.4,387.2 L506.9,387.5 L507.4,387.7 L507.9,387.9 L508.4,388.2 L508.9,388.4 L509.4,388.7 L509.9,388.9 L510.4,389.2 L510.9,389.4 L511.4,389.7 L511.9,390.0 L512.4,390.3 L512.9,390.7 L513.4,391.0 L513.9,391.4 L514.4,391.9 L514.9,392.4 L515.4,392.9 L515.9,393.5 L516.4,394.1 L516.9,394.7 L517.4,395.3 L517.9,395.9 L518.4,396.5 L518.9,397.1 L519.4,397.7 L519.9,398.3 L520.4,399.0 L520.9,399.6 L521.4,400.3 L521.9,401.0 L522.4,401.7 L522.9,402.4 L523.4,403.1 L523.9,403.8 L524.4,404.6 L524.9,405.4 L525.4,406.2 L525.9,407.1 L526.4,407.9 L526.9,408.7 L527.4,409.5 L527.9,410.3 L528.4,411.1 L528.9,411.9 L529.4,412.7 L529.9,413.5 L530.4,414.3 L530.9,415.1 L531.4,415.9 L531.9,416.6 L532.4,417.4 L532.9,418.2 L533.4,419.0 L533.9,419.8 L534.4,420.6 L534.9,421.4 L535.4,422.2 L535.9,423.0 L536.4,423.9 L536.9,424.7 L537.4,425.5 L537.9,426.3 L538.4,427.1 L538.9,427.9 L539.4,428.6 L539.9,429.4 L540.4,430.1 L540.9,430.9 L541.4,431.6 L541.9,432.3 L542.4,433.0 L542.9,433.7 L543.4,434.3 L543.9,434.8 L544.4,435.3 L544.9,435.8 L545.4,436.3 L545.9,436.7 L546.4,437.2 L546.9,437.6 L547.4,438.0 L547.9,438.3 L548.4,438.7 L548.9,438.9 L549.4,439.2 L549.9,439.5 L550.4,439.8 L550.9,440.0 L551.4,440.3 L551.9,440.6 L552.4,440.8 L552.9,441.0 L553.4,441.2 L553.9,441.3 L554.4,441.4 L554.9,441.5 L555.4,441.5 L555.9,441.5 L556.4,441.5 L556.9,441.4 L557.4,441.4 L557.9,441.3 L558.4,441.2 L558.9,441.2 L559.4,441.1 L559.9,441.0 L560.4,440.9 L560.9,440.8 L561.4,440.7 L561.9,440.6 L562.4,440.4 L562.9,440.3 L563.4,440.1 L563.9,439.9 L564.4,439.7 L564.9,439.6 L565.4,439.4 L565.9,439.2 L566.4,438.9 L566.9,438.7 L567.4,438.4 L567.9,438.1 L568.4,437.9 L568.9,437.6 L569.4,437.3 L569.9,436.9 L570.4,436.6 L570.9,436.3 L571.4,435.9 L571.9,435.4 L572.4,434.9 L572.9,434.3 L573.4,433.6 L573.9,432.6 L574.4,431.6 L574.9,430.3 L575.4,428.5 L575.9,426.0 L576.4,423.2 L576.9,420.5 L577.4,418.1 L577.9,415.7 L578.4,413.5 L578.9,411.7 L579.4,410.2 L579.9,408.8 L580.4,407.6 L580.9,406.5 L581.4,405.4 L581.9,404.2 L582.4,403.0 L582.9,401.8 L583.4,400.6 L583.9,399.4 L584.4,398.2 L584.9,397.1 L585.4,396.0 L585.9,395.0 L586.4,394.0 L586.9,393.1 L587.4,392.2 L587.9,391.4 L588.4,390.5 L588.9,389.8 L589.4,389.0 L589.9,388.3 L590.4,387.7 L590.9,387.1 L591.4,386.6 L591.9,386.1 L592.4,385.6 L592.9,385.2 L593.4,384.8 L593.9,384.4 L594.4,384.1 L594.9,383.7 L595.4,383.4 L595.9,383.0 L596.4,382.6 L596.9,382.3 L597.4,381.9 L597.9,381.5 L598.4,381.1 L598.9,380.7 L599.4,380.3 L599.9,379.9 L600.4,379.5 L600.9,379.1 L601.4,378.7 L601.9,378.3 L602.4,377.9 L602.9,377.6 L603.4,377.2 L603.9,376.9 L604.4,376.6 L604.9,376.3 L605.4,376.0 L605.9,375.7 L606.4,375.4 L606.9,375.2 L607.4,374.9 L607.9,374.6 L608.4,374.4 L608.9,374.1 L609.4,373.9 L609.9,373.7 L610.4,373.4 L610.9,373.2 L611.4,372.9 L611.9,372.7 L612.4,372.5 L612.9,372.3 L613.4,372.2 L613.9,372.0 L614.4,371.9 L614.9,371.8 L615.4,371.7 L615.9,371.6 L616.4,371.4 L616.9,371.4 L617.4,371.3 L617.9,371.2 L618.4,371.2 L618.9,371.2 L619.4,371.3 L619.9,371.4 L620.4,371.6 L620.9,371.8 L621.4,372.1 L621.9,372.3 L622.4,372.4 L622.9,372.6 L623.4,372.8 L623.9,373.0 L624.4,373.2 L624.9,373.4 L625.4,373.6 L625.9,373.8 L626.4,374.0 L626.9,374.3 L627.4,374.5 L627.9,374.8 L628.4,375.1 L628.9,375.3 L629.4,375.6 L629.9,375.8 L630.4,375.9 L630.9,376.1 L631.4,376.3 L631.9,376.5 L632.4,376.6 L632.9,376.8 L633.4,376.9 L633.9,376.9 L634.4,376.9 L634.9,376.9 L635.4,376.8 L635.9,376.7 L636.4,376.6 L636.9,376.5 L637.4,376.4 L637.9,376.3 L638.4,376.2 L638.9,376.1 L639.4,375.9 L639.9,375.7 L640.4,375.5 L640.9,375.3 L641.4,375.0 L641.9,374.8 L642.4,374.5 L642.9,374.3 L643.4,374.0 L643.9,373.7 L644.4,373.4 L644.9,373.1 L645.4,372.8 L645.9,372.5 L646.4,372.2 L646.9,371.9 L647.4,371.6 L647.9,371.3 L648.4,371.0 L648.9,370.7 L649.4,370.4 L649.9,370.1 L650.4,369.8 L650.9,369.4 L651.4,369.0 L651.9,368.5 L652.4,367.9 L652.9,367.3 L653.4,366.7 L653.9,366.1 L654.4,365.5 L654.9,364.6 L655.4,363.8 L655.9,363.1 L656.4,362.7 L656.9,363.1 L657.4,367.2 L657.9,371.6 L658.4,376.0 L658.6,377.8" fill="none" stroke="#111" stroke-width="1.4" stroke-linejoin="round"/>
<path d="M486.9,381.0 L487.4,381.0 L487.9,381.0 L488.4,381.0 L488.9,381.1 L489.4,381.1 L489.9,381.2 L490.4,381.2 L490.9,381.3 L491.4,381.3 L491.9,381.4 L492.4,381.4 L492.9,381.5 L493.4,381.6 L493.9,381.6 L494.4,381.7 L494.9,381.9 L495.4,382.0 L495.9,382.1 L496.4,382.3 L496.9,382.5 L497.4,382.6 L497.9,382.8 L498.4,382.9 L498.9,383.1 L499.4,383.3 L499.9,383.4 L500.4,383.6 L500.9,383.7 L501.4,383.8 L501.9,384.0 L502.4,384.1 L502.9,384.2 L503.4,384.4 L503.9,384.5 L504.4,384.7 L504.9,384.8 L505.4,385.0 L505.9,385.1 L506.4,385.3 L506.9,385.5 L507.4,385.6 L507.9,385.8 L508.4,386.0 L508.9,386.2 L509.4,386.4 L509.9,386.6 L510.4,386.8 L510.9,387.0 L511.4,387.2 L511.9,387.5 L512.4,387.7 L512.9,388.0 L513.4,388.2 L513.9,388.5 L514.4,388.9 L514.9,389.3 L515.4,389.7 L515.9,390.1 L516.4,390.6 L516.9,391.0 L517.4,391.5 L517.9,391.9 L518.4,392.4 L518.9,392.8 L519.4,393.2 L519.9,393.7 L520.4,394.2 L520.9,394.6 L521.4,395.1 L521.9,395.6 L522.4,396.1 L522.9,396.7 L523.4,397.3 L523.9,397.9 L524.4,398.5 L524.9,399.2 L525.4,399.9 L525.9,400.6 L526.4,401.3 L526.9,402.0 L527.4,402.7 L527.9,403.4 L528.4,404.0 L528.9,404.7 L529.4,405.3 L529.9,406.0 L530.4,406.6 L530.9,407.3 L531.4,407.9 L531.9,408.6 L532.4,409.3 L532.9,409.9 L533.4,410.6 L533.9,411.3 L534.4,412.0 L534.9,412.7 L535.4,413.5 L535.9,414.3 L536.4,415.0 L536.9,415.8 L537.4,416.6 L537.9,417.4 L538.4,418.1 L538.9,418.9 L539.4,419.6 L539.9,420.2 L540.4,420.9 L540.9,421.6 L541.4,422.2 L541.9,422.9 L542.4,423.5 L542.9,424.1 L543.4,424.7 L543.9,425.3 L544.4,425.9 L544.9,426.4 L545.4,427.0 L545.9,427.6 L546.4,428.1 L546.9,428.6 L547.4,429.0 L547.9,429.4 L548.4,429.8 L548.9,430.2 L549.4,430.5 L549.9,430.9 L550.4,431.2 L550.9,431.5 L551.4,431.7 L551.9,431.9 L552.4,432.0 L552.9,432.0 L553.4,432.1 L553.9,432.1 L554.4,432.1 L554.9,432.2 L555.4,432.2 L555.9,432.2 L556.4,432.2 L556.9,432.2 L557.4,432.2 L557.9,432.1 L558.4,432.0 L558.9,431.8 L559.4,431.6 L559.9,431.4 L560.4,431.2 L560.9,431.0 L561.4,430.8 L561.9,430.6 L562.4,430.4 L562.9,430.2 L563.4,429.9 L563.9,429.7 L564.4,429.4 L564.9,429.1 L565.4,428.8 L565.9,428.6 L566.4,428.3 L566.9,428.0 L567.4,427.7 L567.9,427.4 L568.4,427.0 L568.9,426.7 L569.4,426.3 L569.9,425.9 L570.4,425.4 L570.9,424.9 L571.4,424.3 L571.9,423.6 L572.4,422.8 L572.9,422.0 L573.4,421.1 L573.9,420.2 L574.4,419.2 L574.9,418.2 L575.4,417.1 L575.9,415.9 L576.4,414.5 L576.9,413.0 L577.4,411.6 L577.9,410.3 L578.4,409.0 L578.9,407.6 L579.4,406.3 L579.9,405.0 L580.4,403.7 L580.9,402.4 L581.4,401.2 L581.9,400.1 L582.4,399.1 L582.9,398.2 L583.4,397.3 L583.9,396.5 L584.4,395.7 L584.9,395.0 L585.4,394.2 L585.9,393.6 L586.4,392.9 L586.9,392.3 L587.4,391.7 L587.9,391.1 L588.4,390.6 L588.9,390.0 L589.4,389.5 L589.9,389.0 L590.4,388.6 L590.9,388.1 L591.4,387.7 L591.9,387.2 L592.4,386.8 L592.9,386.4 L593.4,385.9 L593.9,385.5 L594.4,385.0 L594.9,384.6 L595.4,384.2 L595.9,383.7 L596.4,383.3 L596.9,382.8 L597.4,382.4 L597.9,382.0 L598.4,381.6 L598.9,381.2 L599.4,380.7 L599.9,380.3 L600.4,380.0 L600.9,379.6 L601.4,379.2 L601.9,378.8 L602.4,378.5 L602.9,378.1 L603.4,377.8 L603.9,377.4 L604.4,377.1 L604.9,376.8 L605.4,376.4 L605.9,376.1 L606.4,375.8 L606.9,375.5 L607.4,375.1 L607.9,374.8 L608.4,374.5 L608.9,374.2 L609.4,373.9 L609.9,373.5 L610.4,373.2 L610.9,372.9 L611.4,372.5 L611.9,372.2 L612.4,371.9 L612.9,371.6 L613.4,371.3 L613.9,371.0 L614.4,370.8 L614.9,370.5 L615.4,370.3 L615.9,370.1 L616.4,370.0 L616.9,369.8 L617.4,369.6 L617.9,369.4 L618.4,369.3 L618.9,369.1 L619.4,369.0 L619.9,368.8 L620.4,368.7 L620.9,368.6 L621.4,368.5 L621.9,368.4 L622.4,368.3 L622.9,368.2 L623.4,368.2 L623.9,368.1 L624.4,368.0 L624.9,368.0 L625.4,367.9 L625.9,367.9 L626.4,367.8 L626.9,367.8 L627.4,367.7 L627.9,367.7 L628.4,367.6 L628.9,367.6 L629.4,367.5 L629.9,367.5 L630.4,367.5 L630.9,367.4 L631.4,367.4 L631.9,367.4 L632.4,367.3 L632.9,367.3 L633.4,367.3 L633.9,367.3 L634.4,367.2 L634.9,367.2 L635.4,367.2 L635.9,367.1 L636.4,367.1 L636.9,367.1 L637.4,367.0 L637.9,367.0 L638.4,366.9 L638.9,366.9 L639.4,366.8 L639.9,366.8 L640.4,366.7 L640.9,366.6 L641.4,366.6 L641.9,366.5 L642.4,366.4 L642.9,366.4 L643.4,366.3 L643.9,366.2 L644.4,366.1 L644.9,366.0 L645.4,365.9 L645.9,365.8 L646.4,365.7 L646.9,365.6 L647.4,365.5 L647.9,365.4 L648.4,365.2 L648.9,365.1 L649.4,365.0 L649.9,364.8 L650.4,364.7 L650.9,364.5 L651.4,364.4 L651.9,364.2 L652.4,364.0 L652.9,363.8 L653.4,363.5 L653.9,363.3 L654.4,363.1 L654.9,362.9 L655.4,362.8 L655.9,362.7 L656.4,362.6 L656.9,362.8 L657.4,364.7 L657.9,367.5 L658.0,368.0" fill="none" stroke="#1a1a8c" stroke-width="1.4" stroke-linejoin="round"/>
<path d="M486.9,379.7 L487.4,379.7 L487.9,379.8 L488.4,379.8 L488.9,379.8 L489.4,379.9 L489.9,379.9 L490.4,379.9 L490.9,380.0 L491.4,380.0 L491.9,380.0 L492.4,380.0 L492.9,380.0 L493.4,380.0 L493.9,380.0 L494.4,380.0 L494.9,380.0 L495.4,380.0 L495.9,380.0 L496.4,380.0 L496.9,380.0 L497.4,380.0 L497.9,380.0 L498.4,380.0 L498.9,380.0 L499.4,380.0 L499.9,380.0 L500.4,380.0 L500.9,380.0 L501.4,379.9 L501.9,379.8 L502.4,379.6 L502.9,379.4 L503.4,379.2 L503.9,379.0 L504.4,378.8 L504.9,378.5 L505.4,378.3 L505.9,378.0 L506.4,377.8 L506.9,377.5 L507.4,377.3 L507.9,377.0 L508.4,376.7 L508.9,376.4 L509.4,376.1 L509.9,375.8 L510.4,375.5 L510.9,375.1 L511.4,374.8 L511.9,374.5 L512.4,374.3 L512.9,374.0 L513.4,373.8 L513.9,373.6 L514.4,373.4 L514.9,373.2 L515.4,373.0 L515.9,372.8 L516.4,372.6 L516.9,372.4 L517.4,372.3 L517.9,372.1 L518.4,372.1 L518.9,372.0 L519.4,372.0 L519.9,372.0 L520.4,372.0 L520.9,372.1 L521.4,372.1 L521.9,372.2 L522.4,372.3 L522.9,372.3 L523.4,372.4 L523.9,372.5 L524.4,372.6 L524.9,372.7 L525.4,372.8 L525.9,373.0 L526.4,373.2 L526.9,373.3 L527.4,373.5 L527.9,373.7 L528.4,373.8 L528.9,374.0 L529.4,374.1 L529.9,374.2 L530.4,374.3 L530.9,374.5 L531.4,374.6 L531.9,374.7 L532.4,374.8 L532.9,374.9 L533.4,374.9 L533.9,375.0 L534.4,375.0 L534.9,375.0 L535.4,374.9 L535.9,374.8 L536.4,374.6 L536.9,374.5 L537.4,374.3 L537.9,374.0 L538.4,373.8 L538.9,373.4 L539.4,372.9 L539.9,372.3 L540.4,371.7 L540.9,371.0 L541.4,370.1 L541.9,369.2 L542.4,368.2 L542.9,367.2 L543.4,366.0 L543.9,364.8 L544.4,363.5 L544.9,362.2 L545.4,361.0 L545.9,359.9 L546.4,358.7 L546.9,357.5 L547.4,356.2 L547.9,355.0 L548.4,353.7 L548.9,352.4 L549.4,351.1 L549.9,349.8 L550.4,348.5 L550.9,347.3 L551.4,346.0 L551.9,344.8 L552.4,343.7 L552.9,342.5 L553.4,341.4 L553.9,340.2 L554.4,338.9 L554.9,337.6 L555.4,336.2 L555.9,334.7 L556.4,333.0 L556.9,331.3 L557.4,329.5 L557.9,327.6 L558.4,325.7 L558.9,323.9 L559.4,322.0 L559.9,320.1 L560.4,318.3 L560.9,316.4 L561.4,314.4 L561.9,312.5 L562.4,310.5 L562.9,308.6 L563.4,306.7 L563.9,305.0 L564.4,303.4 L564.9,302.0 L565.4,300.7 L565.9,299.5 L566.4,298.4 L566.9,297.4 L567.4,296.6 L567.9,296.0 L568.4,295.4 L568.9,295.0 L569.4,294.7 L569.9,294.7 L570.4,294.9 L570.9,295.2 L571.4,295.7 L571.9,296.1 L572.4,296.6 L572.9,297.4 L573.4,298.3 L573.9,299.3 L574.4,300.4 L574.9,301.5 L575.4,302.8 L575.9,304.2 L576.4,305.7 L576.9,307.2 L577.4,308.7 L577.9,310.3 L578.4,312.0 L578.9,313.7 L579.4,315.4 L579.9,317.2 L580.4,318.9 L580.9,320.6 L581.4,322.4 L581.9,324.2 L582.4,325.9 L582.9,327.7 L583.4,329.3 L583.9,330.9 L584.4,332.6 L584.9,334.3 L585.4,336.0 L585.9,337.9 L586.4,339.8 L586.9,341.8 L587.4,343.7 L587.9,345.6 L588.4,347.5 L588.9,349.5 L589.4,351.5 L589.9,353.4 L590.4,355.4 L590.9,357.2 L591.4,358.8 L591.9,360.2 L592.4,361.4 L592.9,362.4 L593.4,363.4 L593.9,364.2 L594.4,365.0 L594.9,365.8 L595.4,366.7 L595.9,367.4 L596.4,368.2 L596.9,368.9 L597.4,369.7 L597.9,370.3 L598.4,371.0 L598.9,371.6 L599.4,372.2 L599.9,372.8 L600.4,373.4 L600.9,373.9 L601.4,374.4 L601.9,374.9 L602.4,375.3 L602.9,375.8 L603.4,376.2 L603.9,376.6 L604.4,377.0 L604.9,377.4 L605.4,377.8 L605.9,378.2 L606.4,378.6 L606.9,379.0 L607.4,379.4 L607.9,379.8 L608.4,380.1 L608.9,380.4 L609.4,380.7 L609.9,381.0 L610.4,381.3 L610.9,381.6 L611.4,381.9 L611.9,382.1 L612.4,382.4 L612.9,382.6 L613.4,382.7 L613.9,382.9 L614.4,383.1 L614.9,383.2 L615.4,383.3 L615.9,383.5 L616.4,383.6 L616.9,383.7 L617.4,383.9 L617.9,384.0 L618.4,384.1 L618.9,384.2 L619.4,384.3 L619.9,384.5 L620.4,384.6 L620.9,384.7 L621.4,384.8 L621.9,384.9 L622.4,385.0 L622.9,385.1 L623.4,385.2 L623.9,385.3 L624.4,385.4 L624.9,385.5 L625.4,385.6 L625.9,385.7 L626.4,385.7 L626.9,385.8 L627.4,385.9 L627.9,386.0 L628.4,386.0 L628.9,386.1 L629.4,386.2 L629.9,386.3 L630.4,386.4 L630.9,386.5 L631.4,386.5 L631.9,386.6 L632.4,386.7 L632.9,386.8 L633.4,386.9 L633.9,387.0 L634.4,387.1 L634.9,387.2 L635.4,387.2 L635.9,387.3 L636.4,387.4 L636.9,387.4 L637.4,387.5 L637.9,387.5 L638.4,387.6 L638.9,387.6 L639.4,387.7 L639.9,387.7 L640.4,387.7 L640.9,387.8 L641.4,387.8 L641.9,387.9 L642.4,387.9 L642.9,388.0 L643.4,388.0 L643.9,388.0 L644.4,388.1 L644.9,388.1 L645.4,388.1 L645.9,388.2 L646.4,388.2 L646.9,388.3 L647.4,388.3 L647.9,388.4 L648.4,388.4 L648.9,388.5 L649.4,388.5 L649.9,388.6 L650.4,388.6 L650.9,388.7 L651.4,388.8 L651.9,388.8 L652.4,388.9 L652.9,389.0 L653.4,389.1 L653.9,389.1 L654.4,389.2 L654.9,389.3 L655.4,389.4 L655.9,389.5 L656.4,389.7 L656.9,389.8 L657.4,389.9 L657.9,390.0 L658.4,390.1 L658.6,390.2" fill="none" stroke="#3333e6" stroke-width="1.5" stroke-linejoin="round"/>
<path d="M486.9,378.8 L487.4,378.8 L487.9,378.9 L488.4,378.9 L488.9,378.9 L489.4,378.9 L489.9,378.9 L490.4,379.0 L490.9,379.0 L491.4,379.0 L491.9,379.0 L492.4,379.0 L492.9,379.0 L493.4,379.0 L493.9,379.0 L494.4,379.0 L494.9,379.0 L495.4,379.0 L495.9,379.0 L496.4,379.0 L496.9,378.9 L497.4,378.9 L497.9,378.9 L498.4,378.9 L498.9,378.9 L499.4,378.8 L499.9,378.8 L500.4,378.8 L500.9,378.7 L501.4,378.6 L501.9,378.5 L502.4,378.4 L502.9,378.2 L503.4,378.0 L503.9,377.9 L504.4,377.6 L504.9,377.4 L505.4,377.2 L505.9,377.0 L506.4,376.8 L506.9,376.5 L507.4,376.3 L507.9,376.1 L508.4,375.8 L508.9,375.4 L509.4,375.1 L509.9,374.8 L510.4,374.5 L510.9,374.1 L511.4,373.8 L511.9,373.5 L512.4,373.3 L512.9,373.0 L513.4,372.8 L513.9,372.6 L514.4,372.4 L514.9,372.2 L515.4,372.0 L515.9,371.9 L516.4,371.7 L516.9,371.6 L517.4,371.4 L517.9,371.3 L518.4,371.2 L518.9,371.2 L519.4,371.2 L519.9,371.2 L520.4,371.3 L520.9,371.3 L521.4,371.4 L521.9,371.4 L522.4,371.5 L522.9,371.6 L523.4,371.7 L523.9,371.8 L524.4,371.9 L524.9,372.0 L525.4,372.1 L525.9,372.2 L526.4,372.3 L526.9,372.4 L527.4,372.6 L527.9,372.7 L528.4,372.8 L528.9,373.0 L529.4,373.1 L529.9,373.3 L530.4,373.5 L530.9,373.7 L531.4,373.8 L531.9,373.9 L532.4,374.0 L532.9,374.0 L533.4,373.9 L533.9,373.7 L534.4,373.5 L534.9,373.2 L535.4,372.9 L535.9,372.4 L536.4,371.6 L536.9,370.7 L537.4,369.8 L537.9,368.9 L538.4,368.0 L538.9,367.0 L539.4,366.0 L539.9,364.9 L540.4,363.8 L540.9,362.6 L541.4,361.1 L541.9,359.2 L542.4,357.4 L542.9,355.7 L543.4,354.1 L543.9,352.6 L544.4,351.0 L544.9,349.4 L545.4,347.6 L545.9,345.6 L546.4,343.2 L546.9,340.5 L547.4,337.5 L547.9,334.6 L548.4,331.6 L548.9,328.5 L549.4,325.4 L549.9,322.1 L550.4,318.8 L550.9,315.5 L551.4,311.9 L551.9,308.3 L552.4,304.8 L552.9,301.6 L553.4,298.7 L553.9,295.9 L554.4,293.2 L554.9,290.8 L555.4,288.6 L555.9,286.5 L556.4,284.5 L556.9,282.7 L557.4,281.2 L557.9,280.1 L558.4,278.9 L558.9,278.0 L559.4,277.6 L559.9,277.7 L560.4,278.0 L560.9,278.4 L561.4,278.9 L561.9,279.6 L562.4,280.6 L562.9,282.0 L563.4,283.5 L563.9,285.2 L564.4,287.1 L564.9,289.5 L565.4,292.0 L565.9,294.5 L566.4,296.9 L566.9,299.3 L567.4,301.7 L567.9,304.1 L568.4,306.6 L568.9,309.0 L569.4,311.4 L569.9,313.8 L570.4,316.2 L570.9,318.6 L571.4,320.8 L571.9,322.9 L572.4,325.0 L572.9,327.1 L573.4,329.0 L573.9,330.9 L574.4,332.7 L574.9,334.4 L575.4,336.1 L575.9,337.7 L576.4,339.2 L576.9,340.6 L577.4,342.0 L577.9,343.3 L578.4,344.6 L578.9,346.0 L579.4,347.4 L579.9,348.7 L580.4,350.1 L580.9,351.4 L581.4,352.6 L581.9,353.8 L582.4,354.9 L582.9,356.0 L583.4,357.0 L583.9,358.0 L584.4,359.0 L584.9,360.0 L585.4,360.9 L585.9,361.7 L586.4,362.5 L586.9,363.2 L587.4,363.9 L587.9,364.6 L588.4,365.2 L588.9,365.8 L589.4,366.4 L589.9,366.9 L590.4,367.4 L590.9,367.9 L591.4,368.3 L591.9,368.7 L592.4,369.1 L592.9,369.5 L593.4,369.8 L593.9,370.1 L594.4,370.4 L594.9,370.7 L595.4,370.9 L595.9,371.1 L596.4,371.3 L596.9,371.5 L597.4,371.7 L597.9,371.9 L598.4,372.1 L598.9,372.3 L599.4,372.5 L599.9,372.6 L600.4,372.8 L600.9,373.0 L601.4,373.2 L601.9,373.4 L602.4,373.6 L602.9,373.8 L603.4,374.0 L603.9,374.2 L604.4,374.4 L604.9,374.6 L605.4,374.8 L605.9,375.0 L606.4,375.2 L606.9,375.4 L607.4,375.6 L607.9,375.8 L608.4,376.0 L608.9,376.2 L609.4,376.4 L609.9,376.6 L610.4,376.8 L610.9,377.0 L611.4,377.2 L611.9,377.4 L612.4,377.6 L612.9,377.8 L613.4,378.0 L613.9,378.2 L614.4,378.4 L614.9,378.6 L615.4,378.8 L615.9,379.0 L616.4,379.2 L616.9,379.4 L617.4,379.6 L617.9,379.8 L618.4,380.0 L618.9,380.2 L619.4,380.4 L619.9,380.6 L620.4,380.8 L620.9,381.0 L621.4,381.2 L621.9,381.4 L622.4,381.6 L622.9,381.8 L623.4,381.9 L623.9,382.1 L624.4,382.3 L624.9,382.5 L625.4,382.7 L625.9,382.8 L626.4,383.0 L626.9,383.2 L627.4,383.3 L627.9,383.5 L628.4,383.7 L628.9,383.8 L629.4,384.0 L629.9,384.2 L630.4,384.3 L630.9,384.4 L631.4,384.5 L631.9,384.5 L632.4,384.5 L632.9,384.5 L633.4,384.5 L633.9,384.5 L634.4,384.4 L634.9,384.4 L635.4,384.4 L635.9,384.4 L636.4,384.3 L636.9,384.3 L637.4,384.3 L637.9,384.2 L638.4,384.0 L638.9,383.9 L639.4,383.8 L639.9,383.6 L640.4,383.5 L640.9,383.5 L641.4,383.5 L641.9,383.5 L642.4,383.5 L642.9,383.5 L643.4,383.5 L643.9,383.5 L644.4,383.5 L644.9,383.5 L645.4,383.5 L645.9,383.6 L646.4,383.8 L646.9,384.0 L647.4,384.3 L647.9,384.5 L648.4,384.6 L648.9,384.8 L649.4,385.0 L649.9,385.1 L650.4,385.3 L650.9,385.4 L651.4,385.5 L651.9,385.5 L652.4,385.6 L652.9,385.6 L653.4,385.6 L653.9,385.7 L654.4,385.7 L654.9,385.8 L655.4,385.9 L655.9,385.9 L656.4,386.0 L656.9,386.1 L657.4,386.2 L657.9,386.3 L658.4,386.4 L658.6,386.4" fill="none" stroke="#ff33ee" stroke-width="1.5" stroke-linejoin="round"/>
<path d="M486.9,376.3 L487.4,376.4 L487.9,376.4 L488.4,376.5 L488.9,376.5 L489.4,376.6 L489.9,376.6 L490.4,376.7 L490.9,376.8 L491.4,376.8 L491.9,376.9 L492.4,376.9 L492.9,377.0 L493.4,377.1 L493.9,377.1 L494.4,377.2 L494.9,377.3 L495.4,377.3 L495.9,377.4 L496.4,377.4 L496.9,377.4 L497.4,377.3 L497.9,377.3 L498.4,377.2 L498.9,377.1 L499.4,377.0 L499.9,376.9 L500.4,376.7 L500.9,376.6 L501.4,376.5 L501.9,376.3 L502.4,376.2 L502.9,376.0 L503.4,375.9 L503.9,375.7 L504.4,375.6 L504.9,375.4 L505.4,375.2 L505.9,375.0 L506.4,374.8 L506.9,374.6 L507.4,374.5 L507.9,374.3 L508.4,374.1 L508.9,373.9 L509.4,373.7 L509.9,373.5 L510.4,373.4 L510.9,373.2 L511.4,373.0 L511.9,372.9 L512.4,372.7 L512.9,372.6 L513.4,372.4 L513.9,372.3 L514.4,372.1 L514.9,372.0 L515.4,371.9 L515.9,371.8 L516.4,371.6 L516.9,371.5 L517.4,371.4 L517.9,371.3 L518.4,371.2 L518.9,371.2 L519.4,371.2 L519.9,371.2 L520.4,371.3 L520.9,371.4 L521.4,371.5 L521.9,371.7 L522.4,371.8 L522.9,372.0 L523.4,372.1 L523.9,372.3 L524.4,372.4 L524.9,372.6 L525.4,372.8 L525.9,373.0 L526.4,373.2 L526.9,373.5 L527.4,373.7 L527.9,373.9 L528.4,374.1 L528.9,374.4 L529.4,374.6 L529.9,374.9 L530.4,375.2 L530.9,375.4 L531.4,375.7 L531.9,376.0 L532.4,376.4 L532.9,376.7 L533.4,377.0 L533.9,377.4 L534.4,377.8 L534.9,378.2 L535.4,378.7 L535.9,379.2 L536.4,379.7 L536.9,380.2 L537.4,380.8 L537.9,381.4 L538.4,382.0 L538.9,382.6 L539.4,383.3 L539.9,384.1 L540.4,384.8 L540.9,385.6 L541.4,386.4 L541.9,387.1 L542.4,388.0 L542.9,388.8 L543.4,389.8 L543.9,390.7 L544.4,391.6 L544.9,392.4 L545.4,393.1 L545.9,393.7 L546.4,394.4 L546.9,395.0 L547.4,395.5 L547.9,396.1 L548.4,396.7 L548.9,397.3 L549.4,397.9 L549.9,398.5 L550.4,399.0 L550.9,399.4 L551.4,399.8 L551.9,400.2 L552.4,400.7 L552.9,401.0 L553.4,401.3 L553.9,401.5 L554.4,401.6 L554.9,401.6 L555.4,401.5 L555.9,401.4 L556.4,401.2 L556.9,401.0 L557.4,400.8 L557.9,400.6 L558.4,400.3 L558.9,399.9 L559.4,399.4 L559.9,398.9 L560.4,398.4 L560.9,397.9 L561.4,397.4 L561.9,396.8 L562.4,396.1 L562.9,395.4 L563.4,394.7 L563.9,394.0 L564.4,393.3 L564.9,392.6 L565.4,392.0 L565.9,391.3 L566.4,390.7 L566.9,390.1 L567.4,389.4 L567.9,388.8 L568.4,388.2 L568.9,387.5 L569.4,386.9 L569.9,386.2 L570.4,385.5 L570.9,384.8 L571.4,384.1 L571.9,383.4 L572.4,382.7 L572.9,381.9 L573.4,381.2 L573.9,380.4 L574.4,379.7 L574.9,378.9 L575.4,378.2 L575.9,377.5 L576.4,376.8 L576.9,376.1 L577.4,375.4 L577.9,374.7 L578.4,374.0 L578.9,373.2 L579.4,372.5 L579.9,371.7 L580.4,370.8 L580.9,369.9 L581.4,368.9 L581.9,368.0 L582.4,367.1 L582.9,366.4 L583.4,365.7 L583.9,365.1 L584.4,364.5 L584.9,363.9 L585.4,363.3 L585.9,362.7 L586.4,362.0 L586.9,361.4 L587.4,360.7 L587.9,360.1 L588.4,359.6 L588.9,359.1 L589.4,358.6 L589.9,358.2 L590.4,357.8 L590.9,357.3 L591.4,356.9 L591.9,356.5 L592.4,356.2 L592.9,355.9 L593.4,355.7 L593.9,355.6 L594.4,355.5 L594.9,355.5 L595.4,355.4 L595.9,355.4 L596.4,355.4 L596.9,355.3 L597.4,355.3 L597.9,355.3 L598.4,355.3 L598.9,355.4 L599.4,355.5 L599.9,355.6 L600.4,355.7 L600.9,355.8 L601.4,356.0 L601.9,356.1 L602.4,356.2 L602.9,356.3 L603.4,356.5 L603.9,356.7 L604.4,356.8 L604.9,357.0 L605.4,357.1 L605.9,357.3 L606.4,357.4 L606.9,357.6 L607.4,357.7 L607.9,357.8 L608.4,358.0 L608.9,358.1 L609.4,358.2 L609.9,358.3 L610.4,358.4 L610.9,358.5 L611.4,358.6 L611.9,358.7 L612.4,358.8 L612.9,358.9 L613.4,358.9 L613.9,359.0 L614.4,359.1 L614.9,359.1 L615.4,359.2 L615.9,359.2 L616.4,359.3 L616.9,359.3 L617.4,359.3 L617.9,359.4 L618.4,359.4 L618.9,359.4 L619.4,359.5 L619.9,359.5 L620.4,359.5 L620.9,359.6 L621.4,359.6 L621.9,359.6 L622.4,359.6 L622.9,359.7 L623.4,359.7 L623.9,359.7 L624.4,359.7 L624.9,359.8 L625.4,359.8 L625.9,359.8 L626.4,359.8 L626.9,359.8 L627.4,359.8 L627.9,359.8 L628.4,359.8 L628.9,359.8 L629.4,359.8 L629.9,359.8 L630.4,359.8 L630.9,359.8 L631.4,359.8 L631.9,359.8 L632.4,359.8 L632.9,359.8 L633.4,359.7 L633.9,359.6 L634.4,359.5 L634.9,359.4 L635.4,359.3 L635.9,359.2 L636.4,359.1 L636.9,359.0 L637.4,358.9 L637.9,358.8 L638.4,358.6 L638.9,358.5 L639.4,358.4 L639.9,358.2 L640.4,358.1 L640.9,358.0 L641.4,358.0 L641.9,358.0 L642.4,358.1 L642.9,358.2 L643.4,358.4 L643.9,358.6 L644.4,358.8 L644.9,359.0 L645.4,359.2 L645.9,359.4 L646.4,359.6 L646.9,359.9 L647.4,360.2 L647.9,360.4 L648.4,360.7 L648.9,361.0 L649.4,361.4 L649.9,361.7 L650.4,362.1 L650.9,362.5 L651.4,363.0 L651.9,363.6 L652.4,364.3 L652.9,365.1 L653.4,365.8 L653.9,366.7 L654.4,367.6 L654.9,368.6 L655.4,369.6 L655.9,370.7 L656.4,371.6 L656.9,372.4 L657.4,373.2 L657.9,373.9 L658.0,374.0" fill="none" stroke="#e63a3a" stroke-width="1.5" stroke-linejoin="round"/>
<path d="M486.9,374.0 L487.4,374.0 L487.9,374.1 L488.4,374.1 L488.9,374.2 L489.4,374.2 L489.9,374.3 L490.4,374.3 L490.9,374.4 L491.4,374.4 L491.9,374.5 L492.4,374.5 L492.9,374.6 L493.4,374.6 L493.9,374.7 L494.4,374.8 L494.9,374.9 L495.4,374.9 L495.9,375.0 L496.4,375.0 L496.9,375.0 L497.4,375.0 L497.9,374.9 L498.4,374.8 L498.9,374.8 L499.4,374.7 L499.9,374.6 L500.4,374.5 L500.9,374.4 L501.4,374.3 L501.9,374.2 L502.4,374.1 L502.9,374.0 L503.4,373.9 L503.9,373.9 L504.4,373.8 L504.9,373.7 L505.4,373.6 L505.9,373.5 L506.4,373.4 L506.9,373.4 L507.4,373.3 L507.9,373.2 L508.4,373.1 L508.9,373.0 L509.4,372.9 L509.9,372.8 L510.4,372.7 L510.9,372.6 L511.4,372.5 L511.9,372.4 L512.4,372.3 L512.9,372.2 L513.4,372.1 L513.9,372.0 L514.4,371.9 L514.9,371.8 L515.4,371.7 L515.9,371.6 L516.4,371.5 L516.9,371.4 L517.4,371.4 L517.9,371.3 L518.4,371.2 L518.9,371.2 L519.4,371.2 L519.9,371.2 L520.4,371.3 L520.9,371.4 L521.4,371.6 L521.9,371.7 L522.4,371.8 L522.9,372.0 L523.4,372.1 L523.9,372.3 L524.4,372.4 L524.9,372.6 L525.4,372.8 L525.9,372.9 L526.4,373.1 L526.9,373.3 L527.4,373.4 L527.9,373.6 L528.4,373.7 L528.9,373.9 L529.4,374.0 L529.9,374.1 L530.4,374.3 L530.9,374.5 L531.4,374.6 L531.9,374.8 L532.4,375.0 L532.9,375.2 L533.4,375.4 L533.9,375.6 L534.4,375.9 L534.9,376.2 L535.4,376.5 L535.9,376.9 L536.4,377.3 L536.9,377.6 L537.4,378.0 L537.9,378.4 L538.4,378.8 L538.9,379.2 L539.4,379.6 L539.9,380.0 L540.4,380.3 L540.9,380.7 L541.4,381.1 L541.9,381.5 L542.4,381.9 L542.9,382.3 L543.4,382.7 L543.9,383.2 L544.4,383.6 L544.9,384.0 L545.4,384.4 L545.9,384.8 L546.4,385.1 L546.9,385.5 L547.4,385.8 L547.9,386.2 L548.4,386.5 L548.9,386.9 L549.4,387.2 L549.9,387.5 L550.4,387.8 L550.9,388.0 L551.4,388.3 L551.9,388.5 L552.4,388.7 L552.9,388.9 L553.4,389.0 L553.9,389.1 L554.4,389.2 L554.9,389.2 L555.4,389.2 L555.9,389.2 L556.4,389.2 L556.9,389.2 L557.4,389.2 L557.9,389.1 L558.4,389.0 L558.9,388.8 L559.4,388.6 L559.9,388.3 L560.4,388.1 L560.9,387.9 L561.4,387.6 L561.9,387.2 L562.4,386.9 L562.9,386.5 L563.4,386.1 L563.9,385.6 L564.4,385.1 L564.9,384.6 L565.4,384.0 L565.9,383.4 L566.4,382.8 L566.9,382.1 L567.4,381.4 L567.9,380.7 L568.4,379.9 L568.9,379.0 L569.4,378.1 L569.9,377.1 L570.4,376.1 L570.9,375.0 L571.4,373.8 L571.9,372.5 L572.4,371.2 L572.9,369.8 L573.4,368.4 L573.9,366.9 L574.4,365.4 L574.9,363.8 L575.4,362.1 L575.9,360.3 L576.4,358.3 L576.9,356.4 L577.4,354.4 L577.9,352.4 L578.4,350.4 L578.9,348.7 L579.4,347.1 L579.9,345.6 L580.4,344.2 L580.9,343.0 L581.4,341.9 L581.9,340.9 L582.4,340.0 L582.9,339.2 L583.4,338.4 L583.9,337.6 L584.4,336.9 L584.9,336.2 L585.4,335.7 L585.9,335.3 L586.4,334.9 L586.9,334.6 L587.4,334.4 L587.9,334.1 L588.4,333.9 L588.9,333.8 L589.4,333.8 L589.9,333.9 L590.4,334.0 L590.9,334.2 L591.4,334.5 L591.9,334.7 L592.4,335.1 L592.9,335.6 L593.4,336.2 L593.9,336.9 L594.4,337.6 L594.9,338.5 L595.4,339.6 L595.9,340.8 L596.4,342.0 L596.9,343.2 L597.4,344.6 L597.9,346.1 L598.4,347.6 L598.9,349.2 L599.4,350.7 L599.9,352.0 L600.4,353.3 L600.9,354.5 L601.4,355.7 L601.9,356.8 L602.4,357.8 L602.9,358.8 L603.4,359.8 L603.9,360.7 L604.4,361.6 L604.9,362.3 L605.4,363.0 L605.9,363.6 L606.4,364.1 L606.9,364.6 L607.4,365.1 L607.9,365.5 L608.4,365.9 L608.9,366.1 L609.4,366.4 L609.9,366.7 L610.4,366.9 L610.9,367.1 L611.4,367.3 L611.9,367.5 L612.4,367.6 L612.9,367.6 L613.4,367.6 L613.9,367.6 L614.4,367.6 L614.9,367.6 L615.4,367.6 L615.9,367.6 L616.4,367.6 L616.9,367.6 L617.4,367.6 L617.9,367.6 L618.4,367.6 L618.9,367.6 L619.4,367.5 L619.9,367.5 L620.4,367.4 L620.9,367.3 L621.4,367.2 L621.9,367.1 L622.4,367.0 L622.9,366.9 L623.4,366.8 L623.9,366.7 L624.4,366.6 L624.9,366.5 L625.4,366.4 L625.9,366.3 L626.4,366.2 L626.9,366.0 L627.4,365.9 L627.9,365.8 L628.4,365.6 L628.9,365.5 L629.4,365.4 L629.9,365.3 L630.4,365.1 L630.9,365.0 L631.4,364.9 L631.9,364.8 L632.4,364.6 L632.9,364.5 L633.4,364.4 L633.9,364.2 L634.4,364.1 L634.9,364.0 L635.4,363.9 L635.9,363.8 L636.4,363.7 L636.9,363.6 L637.4,363.6 L637.9,363.6 L638.4,363.7 L638.9,363.8 L639.4,363.9 L639.9,364.1 L640.4,364.3 L640.9,364.5 L641.4,364.7 L641.9,365.1 L642.4,365.5 L642.9,366.0 L643.4,366.5 L643.9,366.9 L644.4,367.3 L644.9,367.8 L645.4,368.2 L645.9,368.6 L646.4,369.0 L646.9,369.3 L647.4,369.5 L647.9,369.7 L648.4,369.8 L648.9,370.0 L649.4,370.1 L649.9,370.2 L650.4,370.3 L650.9,370.3 L651.4,370.4 L651.9,370.4 L652.4,370.4 L652.9,370.5 L653.4,370.5 L653.9,370.6 L654.4,370.7 L654.9,370.8 L655.4,370.9 L655.9,371.0 L656.4,371.1 L656.9,371.4 L657.4,371.6 L657.9,371.9 L658.0,372.0" fill="none" stroke="#2e8b2e" stroke-width="1.5" stroke-linejoin="round"/>
<path d="M486.0,369.5 L486.5,369.4 L487.0,369.3 L487.5,369.2 L488.0,369.2 L488.5,369.1 L489.0,369.0 L489.5,368.9 L490.0,368.9 L490.5,368.8 L491.0,368.7 L491.5,368.7 L492.0,368.6 L492.5,368.6 L493.0,368.5 L493.5,368.4 L494.0,368.4 L494.5,368.3 L495.0,368.3 L495.5,368.2 L496.0,368.2 L496.5,368.1 L497.0,368.1 L497.5,368.0 L498.0,368.0 L498.5,368.0 L499.0,367.9 L499.5,367.9 L500.0,367.9 L500.5,367.9 L501.0,367.9 L501.5,367.9 L502.0,367.9 L502.5,367.9 L503.0,368.0 L503.5,368.0 L504.0,368.0 L504.5,368.0 L505.0,368.1 L505.5,368.1 L506.0,368.1 L506.5,368.2 L507.0,368.2 L507.5,368.2 L508.0,368.3 L508.5,368.3 L509.0,368.4 L509.5,368.5 L510.0,368.5 L510.5,368.6 L511.0,368.6 L511.5,368.7 L512.0,368.7 L512.5,368.8 L513.0,368.8 L513.5,368.8 L514.0,368.8 L514.5,368.8 L515.0,368.9 L515.5,368.9 L516.0,368.9 L516.5,368.9 L517.0,368.9 L517.5,368.9 L518.0,368.9 L518.5,368.9 L519.0,368.9 L519.5,368.9 L520.0,368.8 L520.5,368.8 L521.0,368.6 L521.5,368.5 L522.0,368.3 L522.5,368.1 L523.0,367.9 L523.5,367.7 L524.0,367.5 L524.5,367.2 L525.0,366.9 L525.5,366.5 L526.0,366.1 L526.5,365.6 L527.0,365.2 L527.5,364.8 L528.0,364.5 L528.5,364.2 L529.0,363.9 L529.5,363.6 L530.0,363.3 L530.5,363.1 L531.0,362.8 L531.5,362.7 L532.0,362.5 L532.5,362.5 L533.0,362.5 L533.5,362.5 L534.0,362.5 L534.5,362.5 L535.0,362.5 L535.5,362.6 L536.0,362.6 L536.5,362.6 L537.0,362.6 L537.5,362.6 L538.0,362.7 L538.5,362.7 L539.0,362.8 L539.5,362.8 L540.0,362.9 L540.5,362.9 L541.0,363.0 L541.5,363.0 L542.0,363.0 L542.5,363.0 L543.0,362.9 L543.5,362.7 L544.0,362.6 L544.5,362.4 L545.0,362.1 L545.5,361.9 L546.0,361.7 L546.5,361.5 L547.0,361.3 L547.5,361.1 L548.0,360.9 L548.5,360.7 L549.0,360.4 L549.5,360.2 L550.0,360.0 L550.5,359.8 L551.0,359.6 L551.5,359.4 L552.0,359.2 L552.5,359.1 L553.0,358.9 L553.5,358.7 L554.0,358.6 L554.5,358.4 L555.0,358.3 L555.5,358.2 L556.0,358.0 L556.5,357.8 L557.0,357.7 L557.5,357.5 L558.0,357.4 L558.5,357.3 L559.0,357.1 L559.5,357.0 L560.0,356.8 L560.5,356.7 L561.0,356.5 L561.5,356.3 L562.0,356.2 L562.5,356.0 L563.0,355.9 L563.5,355.7 L564.0,355.5 L564.5,355.4 L565.0,355.2 L565.5,355.0 L566.0,354.8 L566.5,354.7 L567.0,354.5 L567.5,354.3 L568.0,354.1 L568.5,353.8 L569.0,353.5 L569.5,353.2 L570.0,352.7 L570.5,352.3 L571.0,351.8 L571.5,351.4 L572.0,351.0 L572.5,350.6 L573.0,350.2 L573.5,349.8 L574.0,349.4 L574.5,349.0 L575.0,348.7 L575.5,348.4 L576.0,348.1 L576.5,347.9 L577.0,347.7 L577.5,347.5 L578.0,347.4 L578.5,347.2 L579.0,347.1 L579.5,347.0 L580.0,347.0 L580.5,347.0 L581.0,347.0 L581.5,347.1 L582.0,347.1 L582.5,347.2 L583.0,347.3 L583.5,347.3 L584.0,347.4 L584.5,347.5 L585.0,347.5 L585.5,347.6 L586.0,347.6 L586.5,347.6 L587.0,347.6 L587.5,347.6 L588.0,347.5 L588.5,347.4 L589.0,347.4 L589.5,347.3 L590.0,347.2 L590.5,347.1 L591.0,347.0 L591.5,346.9 L592.0,346.8 L592.5,346.7 L593.0,346.6 L593.5,346.5 L594.0,346.4 L594.5,346.2 L595.0,346.1 L595.5,345.9 L596.0,345.8 L596.5,345.6 L597.0,345.5 L597.5,345.3 L598.0,345.2 L598.5,345.0 L599.0,344.8 L599.5,344.7 L600.0,344.5 L600.5,344.3 L601.0,344.1 L601.5,343.9 L602.0,343.7 L602.5,343.5 L603.0,343.3 L603.5,343.1 L604.0,342.9 L604.5,342.7 L605.0,342.5 L605.5,342.3 L606.0,342.1 L606.5,341.9 L607.0,341.7 L607.5,341.5 L608.0,341.3 L608.5,341.1 L609.0,340.9 L609.5,340.7 L610.0,340.4 L610.5,340.1 L611.0,339.8 L611.5,339.5 L612.0,339.2 L612.5,338.9 L613.0,338.5 L613.5,338.1 L614.0,337.7 L614.5,337.3 L615.0,336.9 L615.5,336.4 L616.0,335.9 L616.5,335.2 L617.0,334.5 L617.5,333.4 L618.0,332.1 L618.5,330.6 L619.0,329.0 L619.5,327.5 L620.0,326.0 L620.5,324.3 L621.0,322.6 L621.5,321.0 L622.0,319.4 L622.5,318.0 L623.0,316.7 L623.5,315.5 L624.0,314.3 L624.5,313.3 L625.0,312.5 L625.5,311.8 L626.0,311.2 L626.5,310.6 L627.0,310.1 L627.5,309.7 L628.0,309.5 L628.5,309.5 L629.0,309.8 L629.5,310.2 L630.0,310.8 L630.5,311.5 L631.0,312.8 L631.5,314.4 L632.0,316.1 L632.5,317.7 L633.0,319.3 L633.5,321.1 L634.0,323.0 L634.5,325.1 L635.0,327.4 L635.5,329.8 L636.0,332.3 L636.5,334.9 L637.0,337.6 L637.5,340.3 L638.0,343.1 L638.5,346.2 L639.0,349.2 L639.5,351.8 L640.0,353.7 L640.5,355.5 L641.0,356.9 L641.5,358.0" fill="none" stroke="#111" stroke-width="1.6" stroke-linejoin="round" stroke-dasharray="5,3"/>
</g>
<line x1="485.8" y1="277.5" x2="485.8" y2="471" stroke="#000" stroke-width="2.4"/>
<line x1="484.8" y1="470.3" x2="671" y2="470.3" stroke="#000" stroke-width="2.4"/>
<line x1="480.5" y1="306.9" x2="485.8" y2="306.9" stroke="#666" stroke-width="1"/>
<text x="475.3" y="311.9" font-size="14" font-weight="bold" text-anchor="end" fill="#000" textLength="15.5" lengthAdjust="spacingAndGlyphs">40</text>
<line x1="480.5" y1="347.9" x2="485.8" y2="347.9" stroke="#666" stroke-width="1"/>
<text x="475.3" y="352.9" font-size="14" font-weight="bold" text-anchor="end" fill="#000" textLength="15.5" lengthAdjust="spacingAndGlyphs">20</text>
<line x1="480.5" y1="388.9" x2="485.8" y2="388.9" stroke="#666" stroke-width="1"/>
<text x="475.3" y="393.9" font-size="14" font-weight="bold" text-anchor="end" fill="#000" textLength="7.5" lengthAdjust="spacingAndGlyphs">0</text>
<line x1="480.5" y1="429.9" x2="485.8" y2="429.9" stroke="#666" stroke-width="1"/>
<text x="475.3" y="434.9" font-size="14" font-weight="bold" text-anchor="end" fill="#000" textLength="20.5" lengthAdjust="spacingAndGlyphs">-20</text>
<line x1="480.5" y1="470.9" x2="485.8" y2="470.9" stroke="#666" stroke-width="1"/>
<text x="475.3" y="475.9" font-size="14" font-weight="bold" text-anchor="end" fill="#000" textLength="20.5" lengthAdjust="spacingAndGlyphs">-40</text>
<line x1="485.8" y1="470.3" x2="485.8" y2="466" stroke="#888" stroke-width="1"/>
<text x="485.8" y="494.2" font-size="14" font-weight="bold" text-anchor="middle" fill="#000" textLength="14.5" lengthAdjust="spacingAndGlyphs">20</text>
<line x1="532.1" y1="470.3" x2="532.1" y2="466" stroke="#888" stroke-width="1"/>
<text x="532.1" y="494.2" font-size="14" font-weight="bold" text-anchor="middle" fill="#000" textLength="14.5" lengthAdjust="spacingAndGlyphs">40</text>
<line x1="578.4" y1="470.3" x2="578.4" y2="466" stroke="#888" stroke-width="1"/>
<text x="578.4" y="494.2" font-size="14" font-weight="bold" text-anchor="middle" fill="#000" textLength="14.5" lengthAdjust="spacingAndGlyphs">60</text>
<line x1="624.7" y1="470.3" x2="624.7" y2="466" stroke="#888" stroke-width="1"/>
<text x="624.7" y="494.2" font-size="14" font-weight="bold" text-anchor="middle" fill="#000" textLength="14.5" lengthAdjust="spacingAndGlyphs">80</text>
<line x1="671" y1="470.3" x2="671" y2="466" stroke="#888" stroke-width="1"/>
<text x="671" y="494.2" font-size="14" font-weight="bold" text-anchor="middle" fill="#000" textLength="22" lengthAdjust="spacingAndGlyphs">100</text>
<text x="578.9" y="519.4" font-size="14.5" font-weight="bold" text-anchor="middle" fill="#000" textLength="115.5" lengthAdjust="spacingAndGlyphs">Temperature (°C)</text>
<text x="447.2" y="369.9" font-size="14" font-weight="bold" text-anchor="middle" fill="#000" textLength="64" lengthAdjust="spacingAndGlyphs" transform="rotate(-90 447.2 369.9)">-dRFU/dT</text>
<text x="431.4" y="307.1" font-size="29" font-weight="normal" text-anchor="start" fill="#111" textLength="15.9" lengthAdjust="spacingAndGlyphs">d</text>
<text x="569" y="279.5" font-size="11.5" font-weight="normal" text-anchor="start" fill="#2a2a2a" textLength="15" lengthAdjust="spacingAndGlyphs">r=7</text>
<text x="576.9" y="294.3" font-size="11.5" font-weight="normal" text-anchor="start" fill="#2a2a2a" textLength="15" lengthAdjust="spacingAndGlyphs">r=5</text>
<text x="618.7" y="300.5" font-size="11.5" font-weight="normal" text-anchor="start" fill="#2a2a2a" textLength="32.3" lengthAdjust="spacingAndGlyphs">duplex</text>
<text x="605" y="355.1" font-size="11.5" font-weight="normal" text-anchor="start" fill="#2a2a2a" textLength="20" lengthAdjust="spacingAndGlyphs">r=2.5</text>
<text x="550.6" y="412" font-size="11.5" font-weight="normal" text-anchor="start" fill="#2a2a2a" textLength="15" lengthAdjust="spacingAndGlyphs">r=1</text>
<line x1="575" y1="417.7" x2="597.8" y2="425.3" stroke="#111" stroke-width="1.2"/>
<line x1="575" y1="430.1" x2="597.8" y2="438.7" stroke="#111" stroke-width="1.2"/>
<text x="608.3" y="429.1" font-size="11.5" font-weight="normal" text-anchor="start" fill="#222" textLength="50.3" lengthAdjust="spacingAndGlyphs">r=4, A1 (Δ)</text>
<text x="608.3" y="444.4" font-size="11.5" font-weight="normal" text-anchor="start" fill="#222" textLength="65.6" lengthAdjust="spacingAndGlyphs">r=4 (BSA), r=0</text>
<text x="3.2" y="367.9" font-size="28" font-weight="normal" text-anchor="start" fill="#111" textLength="12.6" lengthAdjust="spacingAndGlyphs">c</text>
<g transform="translate(0 0)" fill="none" stroke="#111" stroke-width="1.9" stroke-linecap="round">
<path d="M7.8,422.5 V445 C7.8,456 22.5,456 22.5,445.5 V428.5"/>
<path d="M29.3,441 V427 C29.3,412.5 49.1,412.5 49.1,427 V449.5 C49.1,461 22.5,461 22.5,449.5"/>
<path d="M29.3,440 C29.3,446 26,449 23.5,451"/>
<line x1="8.4" y1="429.3" x2="13.6" y2="429.3"/>
<line x1="18.3" y1="429.3" x2="24" y2="429.3"/>
<line x1="29.8" y1="429.3" x2="34.5" y2="429.3"/>
<line x1="39.7" y1="429.3" x2="45.5" y2="429.3"/>
<line x1="8.4" y1="438" x2="13.6" y2="438"/>
<line x1="18.3" y1="438" x2="24" y2="438"/>
<line x1="29.8" y1="438" x2="34.5" y2="438"/>
<line x1="39.7" y1="438" x2="45.5" y2="438"/>
<line x1="8.4" y1="446.6" x2="13.6" y2="446.6"/>
<line x1="18.3" y1="446.6" x2="24" y2="446.6"/>
<line x1="29.8" y1="446.6" x2="34.5" y2="446.6"/>
<line x1="39.7" y1="446.6" x2="45.5" y2="446.6"/>
<line x1="23.6" y1="433" x2="27.2" y2="430.2" stroke-width="1.3"/>
<line x1="23.6" y1="441.5" x2="27.2" y2="438.7" stroke-width="1.3"/>
<line x1="23.6" y1="449.5" x2="27.2" y2="446.7" stroke-width="1.3"/>
<rect x="4.2" y="415.7" width="8.6" height="6.8" fill="#0a8a1e" stroke="#111" stroke-width="1"/>
<path d="M17.2,422.3 L24.6,425.2 L18.3,428.8 Z" fill="#d8102c" stroke="#222" stroke-width="0.8" stroke-linejoin="round"/>
</g>
<g transform="translate(1.2 54.5)" fill="none" stroke="#111" stroke-width="1.9" stroke-linecap="round">
<path d="M7.8,422.5 V445 C7.8,456 22.5,456 22.5,445.5 V428.5"/>
<path d="M29.3,441 V427 C29.3,412.5 49.1,412.5 49.1,427 V449.5 C49.1,461 22.5,461 22.5,449.5"/>
<path d="M29.3,440 C29.3,446 26,449 23.5,451"/>
<line x1="8.4" y1="429.3" x2="13.6" y2="429.3"/>
<line x1="18.3" y1="429.3" x2="24" y2="429.3"/>
<line x1="29.8" y1="429.3" x2="34.5" y2="429.3"/>
<line x1="39.7" y1="429.3" x2="45.5" y2="429.3"/>
<line x1="8.4" y1="438" x2="13.6" y2="438"/>
<line x1="18.3" y1="438" x2="24" y2="438"/>
<line x1="29.8" y1="438" x2="34.5" y2="438"/>
<line x1="39.7" y1="438" x2="45.5" y2="438"/>
<line x1="8.4" y1="446.6" x2="13.6" y2="446.6"/>
<line x1="18.3" y1="446.6" x2="24" y2="446.6"/>
<line x1="29.8" y1="446.6" x2="34.5" y2="446.6"/>
<line x1="39.7" y1="446.6" x2="45.5" y2="446.6"/>
<line x1="23.6" y1="433" x2="27.2" y2="430.2" stroke-width="1.3"/>
<line x1="23.6" y1="441.5" x2="27.2" y2="438.7" stroke-width="1.3"/>
<line x1="23.6" y1="449.5" x2="27.2" y2="446.7" stroke-width="1.3"/>
<rect x="4.2" y="415.7" width="8.6" height="6.8" fill="#0a8a1e" stroke="#111" stroke-width="1"/>
<path d="M17.2,422.3 L24.6,425.2 L18.3,428.8 Z" fill="#d8102c" stroke="#222" stroke-width="0.8" stroke-linejoin="round"/>
</g>
<text x="63.8" y="445" font-size="15" font-weight="bold" text-anchor="middle" fill="#111">+</text>
<text x="76" y="445.7" font-size="16" font-weight="bold" text-anchor="start" fill="#111" textLength="19.5" lengthAdjust="spacingAndGlyphs">A1</text>
<text x="71.9" y="497.5" font-size="15" font-weight="bold" text-anchor="middle" fill="#111">+</text>
<text x="84.5" y="497.7" font-size="16" font-weight="bold" text-anchor="start" fill="#111" textLength="10.5" lengthAdjust="spacingAndGlyphs">R</text>
<line x1="101.8" y1="441" x2="132.7" y2="441" stroke="#111" stroke-width="2"/>
<path d="M126.7,437 L133.2,441 L126.7,445" fill="none" stroke="#111" stroke-width="2" stroke-linecap="round" stroke-linejoin="round"/>
<line x1="99.6" y1="493.4" x2="129.8" y2="493.4" stroke="#111" stroke-width="2"/>
<path d="M123.8,489.4 L130.3,493.4 L123.8,497.4" fill="none" stroke="#111" stroke-width="2" stroke-linecap="round" stroke-linejoin="round"/>
<line x1="274.1" y1="439.2" x2="304.2" y2="439.2" stroke="#111" stroke-width="2"/>
<path d="M298.2,435.2 L304.7,439.2 L298.2,443.2" fill="none" stroke="#111" stroke-width="2" stroke-linecap="round" stroke-linejoin="round"/>
<line x1="271" y1="497.6" x2="301.3" y2="497.6" stroke="#111" stroke-width="2"/>
<path d="M295.3,493.6 L301.8,497.6 L295.3,501.6" fill="none" stroke="#111" stroke-width="2" stroke-linecap="round" stroke-linejoin="round"/>
<line x1="153.3" y1="418.5" x2="244.1" y2="418.5" stroke="#222" stroke-width="1.1" stroke-dasharray="2.2,1.6"/>
<path d="M158.3,414.7 L152.3,418.5 L158.3,422.3 M239.1,414.7 L245.1,418.5 L239.1,422.3" fill="none" stroke="#111" stroke-width="1.8" stroke-linecap="round" stroke-linejoin="round"/>
<line x1="152.8" y1="484.2" x2="242.9" y2="484.2" stroke="#222" stroke-width="1.1" stroke-dasharray="2.2,1.6"/>
<path d="M157.8,480.4 L151.8,484.2 L157.8,488 M237.9,480.4 L243.9,484.2 L237.9,488" fill="none" stroke="#111" stroke-width="1.8" stroke-linecap="round" stroke-linejoin="round"/>
<ellipse cx="197.4" cy="441.3" rx="35.5" ry="15.3" fill="#dadada" stroke="#333" stroke-width="0.9"/>
<path d="M154,428.7 L197.8,447.9 L245.1,429.5" fill="none" stroke="#111" stroke-width="2"/>
<rect x="147" y="423.4" width="7.4" height="8.8" fill="#0a8a1e" stroke="#111" stroke-width="0.9"/>
<path d="M245.1,425.1 L252.1,429.5 L245.1,433.4 Z" fill="#e0101c" stroke="#600" stroke-width="0.5"/>
<text x="138.5" y="470.7" font-size="13.5" fill="#262626" textLength="112" lengthAdjust="spacingAndGlyphs"><tspan font-style="italic">hras</tspan>-1<tspan font-size="8" dy="-5">Y</tspan><tspan dy="5">: A1 complex</tspan></text>
<path d="M154.9,493.2 L155.1,493.2 L155.2,493.2 L155.3,493.3 L155.4,493.3 L155.5,493.4 L155.6,493.4 L155.7,493.5 L155.8,493.6 L155.9,493.7 L156.0,493.8 L156.1,493.8 L156.2,493.9 L156.3,494.1 L156.4,494.2 L156.5,494.3 L156.6,494.4 L156.7,494.5 L156.8,494.6 L156.9,494.7 L157.0,494.9 L157.1,495.0 L157.2,495.1 L157.3,495.2 L157.4,495.4 L157.5,495.5 L157.6,495.6 L157.7,495.8 L157.8,495.9 L157.9,496.0 L158.1,496.2 L158.2,496.3 L158.3,496.4 L158.4,496.6 L158.5,496.7 L158.6,496.8 L158.7,497.0 L158.8,497.1 L158.9,497.2 L159.0,497.4 L159.1,497.5 L159.2,497.7 L159.3,497.8 L159.4,497.9 L159.5,498.1 L159.6,498.2 L159.7,498.3 L159.8,498.5 L159.9,498.6 L160.0,498.7 L160.1,498.9 L160.2,499.0 L160.3,499.2 L160.4,499.3 L160.5,499.4 L160.6,499.6 L160.7,499.7 L160.8,499.8 L160.9,499.9 L161.1,500.1 L161.2,500.2 L161.3,500.3 L161.4,500.5 L161.5,500.6 L161.6,500.7 L161.7,500.8 L161.8,501.0 L161.9,501.1 L162.0,501.2 L162.1,501.3 L162.2,501.4 L162.3,501.5 L162.4,501.6 L162.5,501.7 L162.6,501.8 L162.7,501.9 L162.8,502.0 L162.9,502.1 L163.0,502.2 L163.1,502.2 L163.2,502.3 L163.3,502.3 L163.4,502.4 L163.5,502.4 L163.6,502.4 L163.7,502.4" fill="none" stroke="#1a1a1a" stroke-width="3.6" stroke-linejoin="round" stroke-linecap="butt"/>
<path d="M154.9,493.2 L155.1,493.2 L155.2,493.2 L155.3,493.3 L155.4,493.3 L155.5,493.4 L155.6,493.4 L155.7,493.5 L155.8,493.6 L155.9,493.7 L156.0,493.8 L156.1,493.8 L156.2,493.9 L156.3,494.1 L156.4,494.2 L156.5,494.3 L156.6,494.4 L156.7,494.5 L156.8,494.6 L156.9,494.7 L157.0,494.9 L157.1,495.0 L157.2,495.1 L157.3,495.2 L157.4,495.4 L157.5,495.5 L157.6,495.6 L157.7,495.8 L157.8,495.9 L157.9,496.0 L158.1,496.2 L158.2,496.3 L158.3,496.4 L158.4,496.6 L158.5,496.7 L158.6,496.8 L158.7,497.0 L158.8,497.1 L158.9,497.2 L159.0,497.4 L159.1,497.5 L159.2,497.7 L159.3,497.8 L159.4,497.9 L159.5,498.1 L159.6,498.2 L159.7,498.3 L159.8,498.5 L159.9,498.6 L160.0,498.7 L160.1,498.9 L160.2,499.0 L160.3,499.2 L160.4,499.3 L160.5,499.4 L160.6,499.6 L160.7,499.7 L160.8,499.8 L160.9,499.9 L161.1,500.1 L161.2,500.2 L161.3,500.3 L161.4,500.5 L161.5,500.6 L161.6,500.7 L161.7,500.8 L161.8,501.0 L161.9,501.1 L162.0,501.2 L162.1,501.3 L162.2,501.4 L162.3,501.5 L162.4,501.6 L162.5,501.7 L162.6,501.8 L162.7,501.9 L162.8,502.0 L162.9,502.1 L163.0,502.2 L163.1,502.2 L163.2,502.3 L163.3,502.3 L163.4,502.4 L163.5,502.4 L163.6,502.4 L163.7,502.4" fill="none" stroke="#5e90d8" stroke-width="2.2" stroke-linejoin="round" stroke-linecap="butt"/>
<path d="M172.5,493.2 L172.6,493.2 L172.7,493.2 L172.8,493.3 L172.9,493.3 L173.1,493.4 L173.2,493.4 L173.3,493.5 L173.4,493.6 L173.5,493.6 L173.6,493.7 L173.7,493.8 L173.8,493.9 L173.9,494.0 L174.0,494.1 L174.1,494.3 L174.2,494.4 L174.3,494.5 L174.4,494.6 L174.5,494.7 L174.6,494.9 L174.7,495.0 L174.8,495.1 L174.9,495.2 L175.0,495.4 L175.1,495.5 L175.2,495.6 L175.3,495.7 L175.4,495.9 L175.5,496.0 L175.6,496.1 L175.7,496.3 L175.8,496.4 L175.9,496.5 L176.1,496.7 L176.2,496.8 L176.3,497.0 L176.4,497.1 L176.5,497.2 L176.6,497.4 L176.7,497.5 L176.8,497.6 L176.9,497.8 L177.0,497.9 L177.1,498.0 L177.2,498.2 L177.3,498.3 L177.4,498.5 L177.5,498.6 L177.6,498.7 L177.7,498.9 L177.8,499.0 L177.9,499.1 L178.0,499.3 L178.1,499.4 L178.2,499.5 L178.3,499.7 L178.4,499.8 L178.5,499.9 L178.6,500.1 L178.7,500.2 L178.8,500.3 L178.9,500.4 L179.1,500.6 L179.2,500.7 L179.3,500.8 L179.4,500.9 L179.5,501.1 L179.6,501.2 L179.7,501.3 L179.8,501.4 L179.9,501.5 L180.0,501.6 L180.1,501.7 L180.2,501.8 L180.3,501.9 L180.4,502.0 L180.5,502.1 L180.6,502.2 L180.7,502.2 L180.8,502.3 L180.9,502.3 L181.0,502.4 L181.1,502.4 L181.2,502.4 L181.3,502.4" fill="none" stroke="#1a1a1a" stroke-width="3.6" stroke-linejoin="round" stroke-linecap="butt"/>
<path d="M172.5,493.2 L172.6,493.2 L172.7,493.2 L172.8,493.3 L172.9,493.3 L173.1,493.4 L173.2,493.4 L173.3,493.5 L173.4,493.6 L173.5,493.6 L173.6,493.7 L173.7,493.8 L173.8,493.9 L173.9,494.0 L174.0,494.1 L174.1,494.3 L174.2,494.4 L174.3,494.5 L174.4,494.6 L174.5,494.7 L174.6,494.9 L174.7,495.0 L174.8,495.1 L174.9,495.2 L175.0,495.4 L175.1,495.5 L175.2,495.6 L175.3,495.7 L175.4,495.9 L175.5,496.0 L175.6,496.1 L175.7,496.3 L175.8,496.4 L175.9,496.5 L176.1,496.7 L176.2,496.8 L176.3,497.0 L176.4,497.1 L176.5,497.2 L176.6,497.4 L176.7,497.5 L176.8,497.6 L176.9,497.8 L177.0,497.9 L177.1,498.0 L177.2,498.2 L177.3,498.3 L177.4,498.5 L177.5,498.6 L177.6,498.7 L177.7,498.9 L177.8,499.0 L177.9,499.1 L178.0,499.3 L178.1,499.4 L178.2,499.5 L178.3,499.7 L178.4,499.8 L178.5,499.9 L178.6,500.1 L178.7,500.2 L178.8,500.3 L178.9,500.4 L179.1,500.6 L179.2,500.7 L179.3,500.8 L179.4,500.9 L179.5,501.1 L179.6,501.2 L179.7,501.3 L179.8,501.4 L179.9,501.5 L180.0,501.6 L180.1,501.7 L180.2,501.8 L180.3,501.9 L180.4,502.0 L180.5,502.1 L180.6,502.2 L180.7,502.2 L180.8,502.3 L180.9,502.3 L181.0,502.4 L181.1,502.4 L181.2,502.4 L181.3,502.4" fill="none" stroke="#5e90d8" stroke-width="2.2" stroke-linejoin="round" stroke-linecap="butt"/>
<path d="M190.1,493.2 L190.2,493.2 L190.3,493.2 L190.4,493.3 L190.5,493.3 L190.6,493.4 L190.7,493.4 L190.8,493.5 L190.9,493.6 L191.1,493.6 L191.2,493.7 L191.3,493.8 L191.4,493.9 L191.5,494.0 L191.6,494.1 L191.7,494.2 L191.8,494.4 L191.9,494.5 L192.0,494.6 L192.1,494.7 L192.2,494.8 L192.3,495.0 L192.4,495.1 L192.5,495.2 L192.6,495.3 L192.7,495.5 L192.8,495.6 L192.9,495.7 L193.0,495.9 L193.1,496.0 L193.2,496.1 L193.3,496.3 L193.4,496.4 L193.5,496.5 L193.6,496.7 L193.7,496.8 L193.8,496.9 L193.9,497.1 L194.1,497.2 L194.2,497.3 L194.3,497.5 L194.4,497.6 L194.5,497.8 L194.6,497.9 L194.7,498.0 L194.8,498.2 L194.9,498.3 L195.0,498.4 L195.1,498.6 L195.2,498.7 L195.3,498.8 L195.4,499.0 L195.5,499.1 L195.6,499.2 L195.7,499.4 L195.8,499.5 L195.9,499.6 L196.0,499.8 L196.1,499.9 L196.2,500.0 L196.3,500.2 L196.4,500.3 L196.5,500.4 L196.6,500.6 L196.7,500.7 L196.8,500.8 L196.9,500.9 L197.1,501.0 L197.2,501.2 L197.3,501.3 L197.4,501.4 L197.5,501.5 L197.6,501.6 L197.7,501.7 L197.8,501.8 L197.9,501.9 L198.0,502.0 L198.1,502.1 L198.2,502.1 L198.3,502.2 L198.4,502.3 L198.5,502.3 L198.6,502.4 L198.7,502.4 L198.8,502.4 L198.9,502.4" fill="none" stroke="#1a1a1a" stroke-width="3.6" stroke-linejoin="round" stroke-linecap="butt"/>
<path d="M190.1,493.2 L190.2,493.2 L190.3,493.2 L190.4,493.3 L190.5,493.3 L190.6,493.4 L190.7,493.4 L190.8,493.5 L190.9,493.6 L191.1,493.6 L191.2,493.7 L191.3,493.8 L191.4,493.9 L191.5,494.0 L191.6,494.1 L191.7,494.2 L191.8,494.4 L191.9,494.5 L192.0,494.6 L192.1,494.7 L192.2,494.8 L192.3,495.0 L192.4,495.1 L192.5,495.2 L192.6,495.3 L192.7,495.5 L192.8,495.6 L192.9,495.7 L193.0,495.9 L193.1,496.0 L193.2,496.1 L193.3,496.3 L193.4,496.4 L193.5,496.5 L193.6,496.7 L193.7,496.8 L193.8,496.9 L193.9,497.1 L194.1,497.2 L194.2,497.3 L194.3,497.5 L194.4,497.6 L194.5,497.8 L194.6,497.9 L194.7,498.0 L194.8,498.2 L194.9,498.3 L195.0,498.4 L195.1,498.6 L195.2,498.7 L195.3,498.8 L195.4,499.0 L195.5,499.1 L195.6,499.2 L195.7,499.4 L195.8,499.5 L195.9,499.6 L196.0,499.8 L196.1,499.9 L196.2,500.0 L196.3,500.2 L196.4,500.3 L196.5,500.4 L196.6,500.6 L196.7,500.7 L196.8,500.8 L196.9,500.9 L197.1,501.0 L197.2,501.2 L197.3,501.3 L197.4,501.4 L197.5,501.5 L197.6,501.6 L197.7,501.7 L197.8,501.8 L197.9,501.9 L198.0,502.0 L198.1,502.1 L198.2,502.1 L198.3,502.2 L198.4,502.3 L198.5,502.3 L198.6,502.4 L198.7,502.4 L198.8,502.4 L198.9,502.4" fill="none" stroke="#5e90d8" stroke-width="2.2" stroke-linejoin="round" stroke-linecap="butt"/>
<path d="M207.7,493.2 L207.8,493.2 L207.9,493.2 L208.0,493.3 L208.1,493.3 L208.2,493.3 L208.3,493.4 L208.4,493.5 L208.5,493.5 L208.6,493.6 L208.7,493.7 L208.8,493.8 L208.9,493.9 L209.1,494.0 L209.2,494.1 L209.3,494.2 L209.4,494.3 L209.5,494.5 L209.6,494.6 L209.7,494.7 L209.8,494.8 L209.9,494.9 L210.0,495.1 L210.1,495.2 L210.2,495.3 L210.3,495.5 L210.4,495.6 L210.5,495.7 L210.6,495.8 L210.7,496.0 L210.8,496.1 L210.9,496.2 L211.0,496.4 L211.1,496.5 L211.2,496.6 L211.3,496.8 L211.4,496.9 L211.5,497.1 L211.6,497.2 L211.7,497.3 L211.8,497.5 L211.9,497.6 L212.1,497.7 L212.2,497.9 L212.3,498.0 L212.4,498.1 L212.5,498.3 L212.6,498.4 L212.7,498.6 L212.8,498.7 L212.9,498.8 L213.0,499.0 L213.1,499.1 L213.2,499.2 L213.3,499.4 L213.4,499.5 L213.5,499.6 L213.6,499.8 L213.7,499.9 L213.8,500.0 L213.9,500.2 L214.0,500.3 L214.1,500.4 L214.2,500.5 L214.3,500.7 L214.4,500.8 L214.5,500.9 L214.6,501.0 L214.7,501.2 L214.8,501.3 L214.9,501.4 L215.1,501.5 L215.2,501.6 L215.3,501.7 L215.4,501.8 L215.5,501.9 L215.6,502.0 L215.7,502.1 L215.8,502.1 L215.9,502.2 L216.0,502.3 L216.1,502.3 L216.2,502.3 L216.3,502.4 L216.4,502.4 L216.5,502.4 L216.6,502.4" fill="none" stroke="#1a1a1a" stroke-width="3.6" stroke-linejoin="round" stroke-linecap="butt"/>
<path d="M207.7,493.2 L207.8,493.2 L207.9,493.2 L208.0,493.3 L208.1,493.3 L208.2,493.3 L208.3,493.4 L208.4,493.5 L208.5,493.5 L208.6,493.6 L208.7,493.7 L208.8,493.8 L208.9,493.9 L209.1,494.0 L209.2,494.1 L209.3,494.2 L209.4,494.3 L209.5,494.5 L209.6,494.6 L209.7,494.7 L209.8,494.8 L209.9,494.9 L210.0,495.1 L210.1,495.2 L210.2,495.3 L210.3,495.5 L210.4,495.6 L210.5,495.7 L210.6,495.8 L210.7,496.0 L210.8,496.1 L210.9,496.2 L211.0,496.4 L211.1,496.5 L211.2,496.6 L211.3,496.8 L211.4,496.9 L211.5,497.1 L211.6,497.2 L211.7,497.3 L211.8,497.5 L211.9,497.6 L212.1,497.7 L212.2,497.9 L212.3,498.0 L212.4,498.1 L212.5,498.3 L212.6,498.4 L212.7,498.6 L212.8,498.7 L212.9,498.8 L213.0,499.0 L213.1,499.1 L213.2,499.2 L213.3,499.4 L213.4,499.5 L213.5,499.6 L213.6,499.8 L213.7,499.9 L213.8,500.0 L213.9,500.2 L214.0,500.3 L214.1,500.4 L214.2,500.5 L214.3,500.7 L214.4,500.8 L214.5,500.9 L214.6,501.0 L214.7,501.2 L214.8,501.3 L214.9,501.4 L215.1,501.5 L215.2,501.6 L215.3,501.7 L215.4,501.8 L215.5,501.9 L215.6,502.0 L215.7,502.1 L215.8,502.1 L215.9,502.2 L216.0,502.3 L216.1,502.3 L216.2,502.3 L216.3,502.4 L216.4,502.4 L216.5,502.4 L216.6,502.4" fill="none" stroke="#5e90d8" stroke-width="2.2" stroke-linejoin="round" stroke-linecap="butt"/>
<path d="M225.4,493.2 L225.5,493.2 L225.6,493.2 L225.7,493.3 L225.8,493.3 L225.9,493.4 L226.0,493.5 L226.1,493.5 L226.2,493.6 L226.3,493.7 L226.4,493.8 L226.5,493.9 L226.6,494.0 L226.7,494.1 L226.8,494.2 L226.9,494.3 L227.1,494.4 L227.2,494.6 L227.3,494.7 L227.4,494.8 L227.5,494.9 L227.6,495.1 L227.7,495.2 L227.8,495.3 L227.9,495.4 L228.0,495.6 L228.1,495.7 L228.2,495.8 L228.3,496.0 L228.4,496.1 L228.5,496.2 L228.6,496.4 L228.7,496.5 L228.8,496.6 L228.9,496.8 L229.0,496.9 L229.1,497.0 L229.2,497.2 L229.3,497.3 L229.4,497.4 L229.5,497.6 L229.6,497.7 L229.7,497.9 L229.8,498.0 L229.9,498.1 L230.1,498.3 L230.2,498.4 L230.3,498.5 L230.4,498.7 L230.5,498.8 L230.6,498.9 L230.7,499.1 L230.8,499.2 L230.9,499.3 L231.0,499.5 L231.1,499.6 L231.2,499.7 L231.3,499.9 L231.4,500.0 L231.5,500.1 L231.6,500.3 L231.7,500.4 L231.8,500.5 L231.9,500.7 L232.0,500.8 L232.1,500.9 L232.2,501.0 L232.3,501.1 L232.4,501.3 L232.5,501.4 L232.6,501.5 L232.7,501.6 L232.8,501.7 L232.9,501.8 L233.1,501.9 L233.2,502.0 L233.3,502.1 L233.4,502.1 L233.5,502.2 L233.6,502.3 L233.7,502.3 L233.8,502.3 L233.9,502.4 L234.0,502.4 L234.1,502.4 L234.2,502.4" fill="none" stroke="#1a1a1a" stroke-width="3.6" stroke-linejoin="round" stroke-linecap="butt"/>
<path d="M225.4,493.2 L225.5,493.2 L225.6,493.2 L225.7,493.3 L225.8,493.3 L225.9,493.4 L226.0,493.5 L226.1,493.5 L226.2,493.6 L226.3,493.7 L226.4,493.8 L226.5,493.9 L226.6,494.0 L226.7,494.1 L226.8,494.2 L226.9,494.3 L227.1,494.4 L227.2,494.6 L227.3,494.7 L227.4,494.8 L227.5,494.9 L227.6,495.1 L227.7,495.2 L227.8,495.3 L227.9,495.4 L228.0,495.6 L228.1,495.7 L228.2,495.8 L228.3,496.0 L228.4,496.1 L228.5,496.2 L228.6,496.4 L228.7,496.5 L228.8,496.6 L228.9,496.8 L229.0,496.9 L229.1,497.0 L229.2,497.2 L229.3,497.3 L229.4,497.4 L229.5,497.6 L229.6,497.7 L229.7,497.9 L229.8,498.0 L229.9,498.1 L230.1,498.3 L230.2,498.4 L230.3,498.5 L230.4,498.7 L230.5,498.8 L230.6,498.9 L230.7,499.1 L230.8,499.2 L230.9,499.3 L231.0,499.5 L231.1,499.6 L231.2,499.7 L231.3,499.9 L231.4,500.0 L231.5,500.1 L231.6,500.3 L231.7,500.4 L231.8,500.5 L231.9,500.7 L232.0,500.8 L232.1,500.9 L232.2,501.0 L232.3,501.1 L232.4,501.3 L232.5,501.4 L232.6,501.5 L232.7,501.6 L232.8,501.7 L232.9,501.8 L233.1,501.9 L233.2,502.0 L233.3,502.1 L233.4,502.1 L233.5,502.2 L233.6,502.3 L233.7,502.3 L233.8,502.3 L233.9,502.4 L234.0,502.4 L234.1,502.4 L234.2,502.4" fill="none" stroke="#5e90d8" stroke-width="2.2" stroke-linejoin="round" stroke-linecap="butt"/>
<path d="M243.0,493.2 L243.1,493.2 L243.2,493.2 L243.3,493.3 L243.4,493.3 L243.5,493.4" fill="none" stroke="#1a1a1a" stroke-width="3.6" stroke-linejoin="round" stroke-linecap="butt"/>
<path d="M243.0,493.2 L243.1,493.2 L243.2,493.2 L243.3,493.3 L243.4,493.3 L243.5,493.4" fill="none" stroke="#5e90d8" stroke-width="2.2" stroke-linejoin="round" stroke-linecap="butt"/>
<path d="M150.5,497.8 L150.6,497.9 L150.7,498.1 L150.8,498.2 L150.9,498.3 L151.0,498.5 L151.1,498.6 L151.2,498.8 L151.3,498.9 L151.4,499.0 L151.5,499.2 L151.6,499.3 L151.7,499.4 L151.8,499.6 L151.9,499.7 L152.1,499.8 L152.2,500.0 L152.3,500.1 L152.4,500.2 L152.5,500.3 L152.6,500.5 L152.7,500.6 L152.8,500.7 L152.9,500.8 L153.0,501.0 L153.1,501.1 L153.2,501.2 L153.3,501.3 L153.4,501.4 L153.5,501.5 L153.6,501.6 L153.7,501.7 L153.8,501.8 L153.9,501.9 L154.0,502.0 L154.1,502.1 L154.2,502.2 L154.3,502.2 L154.4,502.3 L154.5,502.3 L154.6,502.4 L154.7,502.4 L154.8,502.4 L154.9,502.4" fill="none" stroke="#1a1a1a" stroke-width="3.6" stroke-linejoin="round" stroke-linecap="butt"/>
<path d="M150.5,497.8 L150.6,497.9 L150.7,498.1 L150.8,498.2 L150.9,498.3 L151.0,498.5 L151.1,498.6 L151.2,498.8 L151.3,498.9 L151.4,499.0 L151.5,499.2 L151.6,499.3 L151.7,499.4 L151.8,499.6 L151.9,499.7 L152.1,499.8 L152.2,500.0 L152.3,500.1 L152.4,500.2 L152.5,500.3 L152.6,500.5 L152.7,500.6 L152.8,500.7 L152.9,500.8 L153.0,501.0 L153.1,501.1 L153.2,501.2 L153.3,501.3 L153.4,501.4 L153.5,501.5 L153.6,501.6 L153.7,501.7 L153.8,501.8 L153.9,501.9 L154.0,502.0 L154.1,502.1 L154.2,502.2 L154.3,502.2 L154.4,502.3 L154.5,502.3 L154.6,502.4 L154.7,502.4 L154.8,502.4 L154.9,502.4" fill="none" stroke="#8a8a8a" stroke-width="2.2" stroke-linejoin="round" stroke-linecap="butt"/>
<path d="M163.7,493.2 L163.8,493.2 L163.9,493.2 L164.1,493.3 L164.2,493.3 L164.3,493.4 L164.4,493.4 L164.5,493.5 L164.6,493.6 L164.7,493.7 L164.8,493.7 L164.9,493.8 L165.0,493.9 L165.1,494.0 L165.2,494.2 L165.3,494.3 L165.4,494.4 L165.5,494.5 L165.6,494.6 L165.7,494.7 L165.8,494.9 L165.9,495.0 L166.0,495.1 L166.1,495.2 L166.2,495.4 L166.3,495.5 L166.4,495.6 L166.5,495.8 L166.6,495.9 L166.7,496.0 L166.8,496.2 L166.9,496.3 L167.1,496.4 L167.2,496.6 L167.3,496.7 L167.4,496.8 L167.5,497.0 L167.6,497.1 L167.7,497.2 L167.8,497.4 L167.9,497.5 L168.0,497.6 L168.1,497.8 L168.2,497.9 L168.3,498.1 L168.4,498.2 L168.5,498.3 L168.6,498.5 L168.7,498.6 L168.8,498.7 L168.9,498.9 L169.0,499.0 L169.1,499.1 L169.2,499.3 L169.3,499.4 L169.4,499.5 L169.5,499.7 L169.6,499.8 L169.7,499.9 L169.8,500.1 L169.9,500.2 L170.1,500.3 L170.2,500.5 L170.3,500.6 L170.4,500.7 L170.5,500.8 L170.6,501.0 L170.7,501.1 L170.8,501.2 L170.9,501.3 L171.0,501.4 L171.1,501.5 L171.2,501.6 L171.3,501.7 L171.4,501.8 L171.5,501.9 L171.6,502.0 L171.7,502.1 L171.8,502.2 L171.9,502.2 L172.0,502.3 L172.1,502.3 L172.2,502.4 L172.3,502.4 L172.4,502.4 L172.5,502.4" fill="none" stroke="#1a1a1a" stroke-width="3.6" stroke-linejoin="round" stroke-linecap="butt"/>
<path d="M163.7,493.2 L163.8,493.2 L163.9,493.2 L164.1,493.3 L164.2,493.3 L164.3,493.4 L164.4,493.4 L164.5,493.5 L164.6,493.6 L164.7,493.7 L164.8,493.7 L164.9,493.8 L165.0,493.9 L165.1,494.0 L165.2,494.2 L165.3,494.3 L165.4,494.4 L165.5,494.5 L165.6,494.6 L165.7,494.7 L165.8,494.9 L165.9,495.0 L166.0,495.1 L166.1,495.2 L166.2,495.4 L166.3,495.5 L166.4,495.6 L166.5,495.8 L166.6,495.9 L166.7,496.0 L166.8,496.2 L166.9,496.3 L167.1,496.4 L167.2,496.6 L167.3,496.7 L167.4,496.8 L167.5,497.0 L167.6,497.1 L167.7,497.2 L167.8,497.4 L167.9,497.5 L168.0,497.6 L168.1,497.8 L168.2,497.9 L168.3,498.1 L168.4,498.2 L168.5,498.3 L168.6,498.5 L168.7,498.6 L168.8,498.7 L168.9,498.9 L169.0,499.0 L169.1,499.1 L169.2,499.3 L169.3,499.4 L169.4,499.5 L169.5,499.7 L169.6,499.8 L169.7,499.9 L169.8,500.1 L169.9,500.2 L170.1,500.3 L170.2,500.5 L170.3,500.6 L170.4,500.7 L170.5,500.8 L170.6,501.0 L170.7,501.1 L170.8,501.2 L170.9,501.3 L171.0,501.4 L171.1,501.5 L171.2,501.6 L171.3,501.7 L171.4,501.8 L171.5,501.9 L171.6,502.0 L171.7,502.1 L171.8,502.2 L171.9,502.2 L172.0,502.3 L172.1,502.3 L172.2,502.4 L172.3,502.4 L172.4,502.4 L172.5,502.4" fill="none" stroke="#8a8a8a" stroke-width="2.2" stroke-linejoin="round" stroke-linecap="butt"/>
<path d="M181.3,493.2 L181.4,493.2 L181.5,493.2 L181.6,493.3 L181.7,493.3 L181.8,493.4 L181.9,493.4 L182.1,493.5 L182.2,493.6 L182.3,493.6 L182.4,493.7 L182.5,493.8 L182.6,493.9 L182.7,494.0 L182.8,494.1 L182.9,494.2 L183.0,494.4 L183.1,494.5 L183.2,494.6 L183.3,494.7 L183.4,494.8 L183.5,495.0 L183.6,495.1 L183.7,495.2 L183.8,495.3 L183.9,495.5 L184.0,495.6 L184.1,495.7 L184.2,495.9 L184.3,496.0 L184.4,496.1 L184.5,496.3 L184.6,496.4 L184.7,496.5 L184.8,496.7 L184.9,496.8 L185.1,496.9 L185.2,497.1 L185.3,497.2 L185.4,497.4 L185.5,497.5 L185.6,497.6 L185.7,497.8 L185.8,497.9 L185.9,498.0 L186.0,498.2 L186.1,498.3 L186.2,498.4 L186.3,498.6 L186.4,498.7 L186.5,498.9 L186.6,499.0 L186.7,499.1 L186.8,499.3 L186.9,499.4 L187.0,499.5 L187.1,499.7 L187.2,499.8 L187.3,499.9 L187.4,500.1 L187.5,500.2 L187.6,500.3 L187.7,500.4 L187.8,500.6 L187.9,500.7 L188.1,500.8 L188.2,500.9 L188.3,501.1 L188.4,501.2 L188.5,501.3 L188.6,501.4 L188.7,501.5 L188.8,501.6 L188.9,501.7 L189.0,501.8 L189.1,501.9 L189.2,502.0 L189.3,502.1 L189.4,502.1 L189.5,502.2 L189.6,502.3 L189.7,502.3 L189.8,502.4 L189.9,502.4 L190.0,502.4 L190.1,502.4" fill="none" stroke="#1a1a1a" stroke-width="3.6" stroke-linejoin="round" stroke-linecap="butt"/>
<path d="M181.3,493.2 L181.4,493.2 L181.5,493.2 L181.6,493.3 L181.7,493.3 L181.8,493.4 L181.9,493.4 L182.1,493.5 L182.2,493.6 L182.3,493.6 L182.4,493.7 L182.5,493.8 L182.6,493.9 L182.7,494.0 L182.8,494.1 L182.9,494.2 L183.0,494.4 L183.1,494.5 L183.2,494.6 L183.3,494.7 L183.4,494.8 L183.5,495.0 L183.6,495.1 L183.7,495.2 L183.8,495.3 L183.9,495.5 L184.0,495.6 L184.1,495.7 L184.2,495.9 L184.3,496.0 L184.4,496.1 L184.5,496.3 L184.6,496.4 L184.7,496.5 L184.8,496.7 L184.9,496.8 L185.1,496.9 L185.2,497.1 L185.3,497.2 L185.4,497.4 L185.5,497.5 L185.6,497.6 L185.7,497.8 L185.8,497.9 L185.9,498.0 L186.0,498.2 L186.1,498.3 L186.2,498.4 L186.3,498.6 L186.4,498.7 L186.5,498.9 L186.6,499.0 L186.7,499.1 L186.8,499.3 L186.9,499.4 L187.0,499.5 L187.1,499.7 L187.2,499.8 L187.3,499.9 L187.4,500.1 L187.5,500.2 L187.6,500.3 L187.7,500.4 L187.8,500.6 L187.9,500.7 L188.1,500.8 L188.2,500.9 L188.3,501.1 L188.4,501.2 L188.5,501.3 L188.6,501.4 L188.7,501.5 L188.8,501.6 L188.9,501.7 L189.0,501.8 L189.1,501.9 L189.2,502.0 L189.3,502.1 L189.4,502.1 L189.5,502.2 L189.6,502.3 L189.7,502.3 L189.8,502.4 L189.9,502.4 L190.0,502.4 L190.1,502.4" fill="none" stroke="#8a8a8a" stroke-width="2.2" stroke-linejoin="round" stroke-linecap="butt"/>
<path d="M198.9,493.2 L199.0,493.2 L199.1,493.2 L199.2,493.3 L199.3,493.3 L199.4,493.3 L199.5,493.4 L199.6,493.5 L199.7,493.5 L199.8,493.6 L199.9,493.7 L200.1,493.8 L200.2,493.9 L200.3,494.0 L200.4,494.1 L200.5,494.2 L200.6,494.3 L200.7,494.5 L200.8,494.6 L200.9,494.7 L201.0,494.8 L201.1,494.9 L201.2,495.1 L201.3,495.2 L201.4,495.3 L201.5,495.5 L201.6,495.6 L201.7,495.7 L201.8,495.9 L201.9,496.0 L202.0,496.1 L202.1,496.3 L202.2,496.4 L202.3,496.5 L202.4,496.7 L202.5,496.8 L202.6,496.9 L202.7,497.1 L202.8,497.2 L202.9,497.3 L203.1,497.5 L203.2,497.6 L203.3,497.7 L203.4,497.9 L203.5,498.0 L203.6,498.2 L203.7,498.3 L203.8,498.4 L203.9,498.6 L204.0,498.7 L204.1,498.8 L204.2,499.0 L204.3,499.1 L204.4,499.2 L204.5,499.4 L204.6,499.5 L204.7,499.6 L204.8,499.8 L204.9,499.9 L205.0,500.0 L205.1,500.2 L205.2,500.3 L205.3,500.4 L205.4,500.5 L205.5,500.7 L205.6,500.8 L205.7,500.9 L205.8,501.0 L205.9,501.2 L206.1,501.3 L206.2,501.4 L206.3,501.5 L206.4,501.6 L206.5,501.7 L206.6,501.8 L206.7,501.9 L206.8,502.0 L206.9,502.1 L207.0,502.1 L207.1,502.2 L207.2,502.3 L207.3,502.3 L207.4,502.4 L207.5,502.4 L207.6,502.4 L207.7,502.4" fill="none" stroke="#1a1a1a" stroke-width="3.6" stroke-linejoin="round" stroke-linecap="butt"/>
<path d="M198.9,493.2 L199.0,493.2 L199.1,493.2 L199.2,493.3 L199.3,493.3 L199.4,493.3 L199.5,493.4 L199.6,493.5 L199.7,493.5 L199.8,493.6 L199.9,493.7 L200.1,493.8 L200.2,493.9 L200.3,494.0 L200.4,494.1 L200.5,494.2 L200.6,494.3 L200.7,494.5 L200.8,494.6 L200.9,494.7 L201.0,494.8 L201.1,494.9 L201.2,495.1 L201.3,495.2 L201.4,495.3 L201.5,495.5 L201.6,495.6 L201.7,495.7 L201.8,495.9 L201.9,496.0 L202.0,496.1 L202.1,496.3 L202.2,496.4 L202.3,496.5 L202.4,496.7 L202.5,496.8 L202.6,496.9 L202.7,497.1 L202.8,497.2 L202.9,497.3 L203.1,497.5 L203.2,497.6 L203.3,497.7 L203.4,497.9 L203.5,498.0 L203.6,498.2 L203.7,498.3 L203.8,498.4 L203.9,498.6 L204.0,498.7 L204.1,498.8 L204.2,499.0 L204.3,499.1 L204.4,499.2 L204.5,499.4 L204.6,499.5 L204.7,499.6 L204.8,499.8 L204.9,499.9 L205.0,500.0 L205.1,500.2 L205.2,500.3 L205.3,500.4 L205.4,500.5 L205.5,500.7 L205.6,500.8 L205.7,500.9 L205.8,501.0 L205.9,501.2 L206.1,501.3 L206.2,501.4 L206.3,501.5 L206.4,501.6 L206.5,501.7 L206.6,501.8 L206.7,501.9 L206.8,502.0 L206.9,502.1 L207.0,502.1 L207.1,502.2 L207.2,502.3 L207.3,502.3 L207.4,502.4 L207.5,502.4 L207.6,502.4 L207.7,502.4" fill="none" stroke="#8a8a8a" stroke-width="2.2" stroke-linejoin="round" stroke-linecap="butt"/>
<path d="M216.6,493.2 L216.7,493.2 L216.8,493.3 L216.9,493.3 L217.0,493.3 L217.1,493.4 L217.2,493.5 L217.3,493.5 L217.4,493.6 L217.5,493.7 L217.6,493.8 L217.7,493.9 L217.8,494.0 L217.9,494.1 L218.1,494.2 L218.2,494.3 L218.3,494.4 L218.4,494.6 L218.5,494.7 L218.6,494.8 L218.7,494.9 L218.8,495.1 L218.9,495.2 L219.0,495.3 L219.1,495.4 L219.2,495.6 L219.3,495.7 L219.4,495.8 L219.5,496.0 L219.6,496.1 L219.7,496.2 L219.8,496.4 L219.9,496.5 L220.0,496.6 L220.1,496.8 L220.2,496.9 L220.3,497.0 L220.4,497.2 L220.5,497.3 L220.6,497.5 L220.7,497.6 L220.8,497.7 L220.9,497.9 L221.1,498.0 L221.2,498.1 L221.3,498.3 L221.4,498.4 L221.5,498.5 L221.6,498.7 L221.7,498.8 L221.8,499.0 L221.9,499.1 L222.0,499.2 L222.1,499.4 L222.2,499.5 L222.3,499.6 L222.4,499.8 L222.5,499.9 L222.6,500.0 L222.7,500.1 L222.8,500.3 L222.9,500.4 L223.0,500.5 L223.1,500.7 L223.2,500.8 L223.3,500.9 L223.4,501.0 L223.5,501.1 L223.6,501.3 L223.7,501.4 L223.8,501.5 L223.9,501.6 L224.1,501.7 L224.2,501.8 L224.3,501.9 L224.4,502.0 L224.5,502.1 L224.6,502.1 L224.7,502.2 L224.8,502.3 L224.9,502.3 L225.0,502.3 L225.1,502.4 L225.2,502.4 L225.3,502.4 L225.4,502.4" fill="none" stroke="#1a1a1a" stroke-width="3.6" stroke-linejoin="round" stroke-linecap="butt"/>
<path d="M216.6,493.2 L216.7,493.2 L216.8,493.3 L216.9,493.3 L217.0,493.3 L217.1,493.4 L217.2,493.5 L217.3,493.5 L217.4,493.6 L217.5,493.7 L217.6,493.8 L217.7,493.9 L217.8,494.0 L217.9,494.1 L218.1,494.2 L218.2,494.3 L218.3,494.4 L218.4,494.6 L218.5,494.7 L218.6,494.8 L218.7,494.9 L218.8,495.1 L218.9,495.2 L219.0,495.3 L219.1,495.4 L219.2,495.6 L219.3,495.7 L219.4,495.8 L219.5,496.0 L219.6,496.1 L219.7,496.2 L219.8,496.4 L219.9,496.5 L220.0,496.6 L220.1,496.8 L220.2,496.9 L220.3,497.0 L220.4,497.2 L220.5,497.3 L220.6,497.5 L220.7,497.6 L220.8,497.7 L220.9,497.9 L221.1,498.0 L221.2,498.1 L221.3,498.3 L221.4,498.4 L221.5,498.5 L221.6,498.7 L221.7,498.8 L221.8,499.0 L221.9,499.1 L222.0,499.2 L222.1,499.4 L222.2,499.5 L222.3,499.6 L222.4,499.8 L222.5,499.9 L222.6,500.0 L222.7,500.1 L222.8,500.3 L222.9,500.4 L223.0,500.5 L223.1,500.7 L223.2,500.8 L223.3,500.9 L223.4,501.0 L223.5,501.1 L223.6,501.3 L223.7,501.4 L223.8,501.5 L223.9,501.6 L224.1,501.7 L224.2,501.8 L224.3,501.9 L224.4,502.0 L224.5,502.1 L224.6,502.1 L224.7,502.2 L224.8,502.3 L224.9,502.3 L225.0,502.3 L225.1,502.4 L225.2,502.4 L225.3,502.4 L225.4,502.4" fill="none" stroke="#8a8a8a" stroke-width="2.2" stroke-linejoin="round" stroke-linecap="butt"/>
<path d="M234.2,493.2 L234.3,493.2 L234.4,493.2 L234.5,493.3 L234.6,493.3 L234.7,493.4 L234.8,493.5 L234.9,493.5 L235.0,493.6 L235.1,493.7 L235.2,493.8 L235.3,493.9 L235.4,494.0 L235.5,494.1 L235.6,494.2 L235.7,494.3 L235.8,494.4 L235.9,494.6 L236.1,494.7 L236.2,494.8 L236.3,494.9 L236.4,495.0 L236.5,495.2 L236.6,495.3 L236.7,495.4 L236.8,495.6 L236.9,495.7 L237.0,495.8 L237.1,496.0 L237.2,496.1 L237.3,496.2 L237.4,496.4 L237.5,496.5 L237.6,496.6 L237.7,496.8 L237.8,496.9 L237.9,497.0 L238.0,497.2 L238.1,497.3 L238.2,497.4 L238.3,497.6 L238.4,497.7 L238.5,497.8 L238.6,498.0 L238.7,498.1 L238.8,498.3 L238.9,498.4 L239.1,498.5 L239.2,498.7 L239.3,498.8 L239.4,498.9 L239.5,499.1 L239.6,499.2 L239.7,499.3 L239.8,499.5 L239.9,499.6 L240.0,499.7 L240.1,499.9 L240.2,500.0 L240.3,500.1 L240.4,500.3 L240.5,500.4 L240.6,500.5 L240.7,500.6 L240.8,500.8 L240.9,500.9 L241.0,501.0 L241.1,501.1 L241.2,501.2 L241.3,501.4 L241.4,501.5 L241.5,501.6 L241.6,501.7 L241.7,501.8 L241.8,501.9 L241.9,502.0 L242.1,502.0 L242.2,502.1 L242.3,502.2 L242.4,502.2 L242.5,502.3 L242.6,502.3 L242.7,502.4 L242.8,502.4 L242.9,502.4 L243.0,502.4" fill="none" stroke="#1a1a1a" stroke-width="3.6" stroke-linejoin="round" stroke-linecap="butt"/>
<path d="M234.2,493.2 L234.3,493.2 L234.4,493.2 L234.5,493.3 L234.6,493.3 L234.7,493.4 L234.8,493.5 L234.9,493.5 L235.0,493.6 L235.1,493.7 L235.2,493.8 L235.3,493.9 L235.4,494.0 L235.5,494.1 L235.6,494.2 L235.7,494.3 L235.8,494.4 L235.9,494.6 L236.1,494.7 L236.2,494.8 L236.3,494.9 L236.4,495.0 L236.5,495.2 L236.6,495.3 L236.7,495.4 L236.8,495.6 L236.9,495.7 L237.0,495.8 L237.1,496.0 L237.2,496.1 L237.3,496.2 L237.4,496.4 L237.5,496.5 L237.6,496.6 L237.7,496.8 L237.8,496.9 L237.9,497.0 L238.0,497.2 L238.1,497.3 L238.2,497.4 L238.3,497.6 L238.4,497.7 L238.5,497.8 L238.6,498.0 L238.7,498.1 L238.8,498.3 L238.9,498.4 L239.1,498.5 L239.2,498.7 L239.3,498.8 L239.4,498.9 L239.5,499.1 L239.6,499.2 L239.7,499.3 L239.8,499.5 L239.9,499.6 L240.0,499.7 L240.1,499.9 L240.2,500.0 L240.3,500.1 L240.4,500.3 L240.5,500.4 L240.6,500.5 L240.7,500.6 L240.8,500.8 L240.9,500.9 L241.0,501.0 L241.1,501.1 L241.2,501.2 L241.3,501.4 L241.4,501.5 L241.5,501.6 L241.6,501.7 L241.7,501.8 L241.8,501.9 L241.9,502.0 L242.1,502.0 L242.2,502.1 L242.3,502.2 L242.4,502.2 L242.5,502.3 L242.6,502.3 L242.7,502.4 L242.8,502.4 L242.9,502.4 L243.0,502.4" fill="none" stroke="#8a8a8a" stroke-width="2.2" stroke-linejoin="round" stroke-linecap="butt"/>
<path d="M150.5,497.8 L150.6,497.7 L150.7,497.5 L150.8,497.4 L150.9,497.3 L151.0,497.1 L151.1,497.0 L151.2,496.8 L151.3,496.7 L151.4,496.6 L151.5,496.4 L151.6,496.3 L151.7,496.2 L151.8,496.0 L151.9,495.9 L152.1,495.8 L152.2,495.6 L152.3,495.5 L152.4,495.4 L152.5,495.3 L152.6,495.1 L152.7,495.0 L152.8,494.9 L152.9,494.8 L153.0,494.6 L153.1,494.5 L153.2,494.4 L153.3,494.3 L153.4,494.2 L153.5,494.1 L153.6,494.0 L153.7,493.9 L153.8,493.8 L153.9,493.7 L154.0,493.6 L154.1,493.5 L154.2,493.4 L154.3,493.4 L154.4,493.3 L154.5,493.3 L154.6,493.2 L154.7,493.2 L154.8,493.2 L154.9,493.2" fill="none" stroke="#1a1a1a" stroke-width="3.6" stroke-linejoin="round" stroke-linecap="butt"/>
<path d="M150.5,497.8 L150.6,497.7 L150.7,497.5 L150.8,497.4 L150.9,497.3 L151.0,497.1 L151.1,497.0 L151.2,496.8 L151.3,496.7 L151.4,496.6 L151.5,496.4 L151.6,496.3 L151.7,496.2 L151.8,496.0 L151.9,495.9 L152.1,495.8 L152.2,495.6 L152.3,495.5 L152.4,495.4 L152.5,495.3 L152.6,495.1 L152.7,495.0 L152.8,494.9 L152.9,494.8 L153.0,494.6 L153.1,494.5 L153.2,494.4 L153.3,494.3 L153.4,494.2 L153.5,494.1 L153.6,494.0 L153.7,493.9 L153.8,493.8 L153.9,493.7 L154.0,493.6 L154.1,493.5 L154.2,493.4 L154.3,493.4 L154.4,493.3 L154.5,493.3 L154.6,493.2 L154.7,493.2 L154.8,493.2 L154.9,493.2" fill="none" stroke="#5e90d8" stroke-width="2.2" stroke-linejoin="round" stroke-linecap="butt"/>
<path d="M163.7,502.4 L163.8,502.4 L163.9,502.4 L164.1,502.3 L164.2,502.3 L164.3,502.2 L164.4,502.2 L164.5,502.1 L164.6,502.0 L164.7,501.9 L164.8,501.9 L164.9,501.8 L165.0,501.7 L165.1,501.6 L165.2,501.4 L165.3,501.3 L165.4,501.2 L165.5,501.1 L165.6,501.0 L165.7,500.9 L165.8,500.7 L165.9,500.6 L166.0,500.5 L166.1,500.4 L166.2,500.2 L166.3,500.1 L166.4,500.0 L166.5,499.8 L166.6,499.7 L166.7,499.6 L166.8,499.4 L166.9,499.3 L167.1,499.2 L167.2,499.0 L167.3,498.9 L167.4,498.8 L167.5,498.6 L167.6,498.5 L167.7,498.4 L167.8,498.2 L167.9,498.1 L168.0,498.0 L168.1,497.8 L168.2,497.7 L168.3,497.5 L168.4,497.4 L168.5,497.3 L168.6,497.1 L168.7,497.0 L168.8,496.9 L168.9,496.7 L169.0,496.6 L169.1,496.5 L169.2,496.3 L169.3,496.2 L169.4,496.1 L169.5,495.9 L169.6,495.8 L169.7,495.7 L169.8,495.5 L169.9,495.4 L170.1,495.3 L170.2,495.1 L170.3,495.0 L170.4,494.9 L170.5,494.8 L170.6,494.6 L170.7,494.5 L170.8,494.4 L170.9,494.3 L171.0,494.2 L171.1,494.1 L171.2,494.0 L171.3,493.9 L171.4,493.8 L171.5,493.7 L171.6,493.6 L171.7,493.5 L171.8,493.4 L171.9,493.4 L172.0,493.3 L172.1,493.3 L172.2,493.2 L172.3,493.2 L172.4,493.2 L172.5,493.2" fill="none" stroke="#1a1a1a" stroke-width="3.6" stroke-linejoin="round" stroke-linecap="butt"/>
<path d="M163.7,502.4 L163.8,502.4 L163.9,502.4 L164.1,502.3 L164.2,502.3 L164.3,502.2 L164.4,502.2 L164.5,502.1 L164.6,502.0 L164.7,501.9 L164.8,501.9 L164.9,501.8 L165.0,501.7 L165.1,501.6 L165.2,501.4 L165.3,501.3 L165.4,501.2 L165.5,501.1 L165.6,501.0 L165.7,500.9 L165.8,500.7 L165.9,500.6 L166.0,500.5 L166.1,500.4 L166.2,500.2 L166.3,500.1 L166.4,500.0 L166.5,499.8 L166.6,499.7 L166.7,499.6 L166.8,499.4 L166.9,499.3 L167.1,499.2 L167.2,499.0 L167.3,498.9 L167.4,498.8 L167.5,498.6 L167.6,498.5 L167.7,498.4 L167.8,498.2 L167.9,498.1 L168.0,498.0 L168.1,497.8 L168.2,497.7 L168.3,497.5 L168.4,497.4 L168.5,497.3 L168.6,497.1 L168.7,497.0 L168.8,496.9 L168.9,496.7 L169.0,496.6 L169.1,496.5 L169.2,496.3 L169.3,496.2 L169.4,496.1 L169.5,495.9 L169.6,495.8 L169.7,495.7 L169.8,495.5 L169.9,495.4 L170.1,495.3 L170.2,495.1 L170.3,495.0 L170.4,494.9 L170.5,494.8 L170.6,494.6 L170.7,494.5 L170.8,494.4 L170.9,494.3 L171.0,494.2 L171.1,494.1 L171.2,494.0 L171.3,493.9 L171.4,493.8 L171.5,493.7 L171.6,493.6 L171.7,493.5 L171.8,493.4 L171.9,493.4 L172.0,493.3 L172.1,493.3 L172.2,493.2 L172.3,493.2 L172.4,493.2 L172.5,493.2" fill="none" stroke="#5e90d8" stroke-width="2.2" stroke-linejoin="round" stroke-linecap="butt"/>
<path d="M181.3,502.4 L181.4,502.4 L181.5,502.4 L181.6,502.3 L181.7,502.3 L181.8,502.2 L181.9,502.2 L182.1,502.1 L182.2,502.0 L182.3,502.0 L182.4,501.9 L182.5,501.8 L182.6,501.7 L182.7,501.6 L182.8,501.5 L182.9,501.4 L183.0,501.2 L183.1,501.1 L183.2,501.0 L183.3,500.9 L183.4,500.8 L183.5,500.6 L183.6,500.5 L183.7,500.4 L183.8,500.3 L183.9,500.1 L184.0,500.0 L184.1,499.9 L184.2,499.7 L184.3,499.6 L184.4,499.5 L184.5,499.3 L184.6,499.2 L184.7,499.1 L184.8,498.9 L184.9,498.8 L185.1,498.7 L185.2,498.5 L185.3,498.4 L185.4,498.2 L185.5,498.1 L185.6,498.0 L185.7,497.8 L185.8,497.7 L185.9,497.6 L186.0,497.4 L186.1,497.3 L186.2,497.2 L186.3,497.0 L186.4,496.9 L186.5,496.7 L186.6,496.6 L186.7,496.5 L186.8,496.3 L186.9,496.2 L187.0,496.1 L187.1,495.9 L187.2,495.8 L187.3,495.7 L187.4,495.5 L187.5,495.4 L187.6,495.3 L187.7,495.2 L187.8,495.0 L187.9,494.9 L188.1,494.8 L188.2,494.7 L188.3,494.5 L188.4,494.4 L188.5,494.3 L188.6,494.2 L188.7,494.1 L188.8,494.0 L188.9,493.9 L189.0,493.8 L189.1,493.7 L189.2,493.6 L189.3,493.5 L189.4,493.5 L189.5,493.4 L189.6,493.3 L189.7,493.3 L189.8,493.2 L189.9,493.2 L190.0,493.2 L190.1,493.2" fill="none" stroke="#1a1a1a" stroke-width="3.6" stroke-linejoin="round" stroke-linecap="butt"/>
<path d="M181.3,502.4 L181.4,502.4 L181.5,502.4 L181.6,502.3 L181.7,502.3 L181.8,502.2 L181.9,502.2 L182.1,502.1 L182.2,502.0 L182.3,502.0 L182.4,501.9 L182.5,501.8 L182.6,501.7 L182.7,501.6 L182.8,501.5 L182.9,501.4 L183.0,501.2 L183.1,501.1 L183.2,501.0 L183.3,500.9 L183.4,500.8 L183.5,500.6 L183.6,500.5 L183.7,500.4 L183.8,500.3 L183.9,500.1 L184.0,500.0 L184.1,499.9 L184.2,499.7 L184.3,499.6 L184.4,499.5 L184.5,499.3 L184.6,499.2 L184.7,499.1 L184.8,498.9 L184.9,498.8 L185.1,498.7 L185.2,498.5 L185.3,498.4 L185.4,498.2 L185.5,498.1 L185.6,498.0 L185.7,497.8 L185.8,497.7 L185.9,497.6 L186.0,497.4 L186.1,497.3 L186.2,497.2 L186.3,497.0 L186.4,496.9 L186.5,496.7 L186.6,496.6 L186.7,496.5 L186.8,496.3 L186.9,496.2 L187.0,496.1 L187.1,495.9 L187.2,495.8 L187.3,495.7 L187.4,495.5 L187.5,495.4 L187.6,495.3 L187.7,495.2 L187.8,495.0 L187.9,494.9 L188.1,494.8 L188.2,494.7 L188.3,494.5 L188.4,494.4 L188.5,494.3 L188.6,494.2 L188.7,494.1 L188.8,494.0 L188.9,493.9 L189.0,493.8 L189.1,493.7 L189.2,493.6 L189.3,493.5 L189.4,493.5 L189.5,493.4 L189.6,493.3 L189.7,493.3 L189.8,493.2 L189.9,493.2 L190.0,493.2 L190.1,493.2" fill="none" stroke="#5e90d8" stroke-width="2.2" stroke-linejoin="round" stroke-linecap="butt"/>
<path d="M198.9,502.4 L199.0,502.4 L199.1,502.4 L199.2,502.3 L199.3,502.3 L199.4,502.3 L199.5,502.2 L199.6,502.1 L199.7,502.1 L199.8,502.0 L199.9,501.9 L200.1,501.8 L200.2,501.7 L200.3,501.6 L200.4,501.5 L200.5,501.4 L200.6,501.3 L200.7,501.1 L200.8,501.0 L200.9,500.9 L201.0,500.8 L201.1,500.7 L201.2,500.5 L201.3,500.4 L201.4,500.3 L201.5,500.1 L201.6,500.0 L201.7,499.9 L201.8,499.7 L201.9,499.6 L202.0,499.5 L202.1,499.3 L202.2,499.2 L202.3,499.1 L202.4,498.9 L202.5,498.8 L202.6,498.7 L202.7,498.5 L202.8,498.4 L202.9,498.3 L203.1,498.1 L203.2,498.0 L203.3,497.9 L203.4,497.7 L203.5,497.6 L203.6,497.4 L203.7,497.3 L203.8,497.2 L203.9,497.0 L204.0,496.9 L204.1,496.8 L204.2,496.6 L204.3,496.5 L204.4,496.4 L204.5,496.2 L204.6,496.1 L204.7,496.0 L204.8,495.8 L204.9,495.7 L205.0,495.6 L205.1,495.4 L205.2,495.3 L205.3,495.2 L205.4,495.1 L205.5,494.9 L205.6,494.8 L205.7,494.7 L205.8,494.6 L205.9,494.4 L206.1,494.3 L206.2,494.2 L206.3,494.1 L206.4,494.0 L206.5,493.9 L206.6,493.8 L206.7,493.7 L206.8,493.6 L206.9,493.5 L207.0,493.5 L207.1,493.4 L207.2,493.3 L207.3,493.3 L207.4,493.2 L207.5,493.2 L207.6,493.2 L207.7,493.2" fill="none" stroke="#1a1a1a" stroke-width="3.6" stroke-linejoin="round" stroke-linecap="butt"/>
<path d="M198.9,502.4 L199.0,502.4 L199.1,502.4 L199.2,502.3 L199.3,502.3 L199.4,502.3 L199.5,502.2 L199.6,502.1 L199.7,502.1 L199.8,502.0 L199.9,501.9 L200.1,501.8 L200.2,501.7 L200.3,501.6 L200.4,501.5 L200.5,501.4 L200.6,501.3 L200.7,501.1 L200.8,501.0 L200.9,500.9 L201.0,500.8 L201.1,500.7 L201.2,500.5 L201.3,500.4 L201.4,500.3 L201.5,500.1 L201.6,500.0 L201.7,499.9 L201.8,499.7 L201.9,499.6 L202.0,499.5 L202.1,499.3 L202.2,499.2 L202.3,499.1 L202.4,498.9 L202.5,498.8 L202.6,498.7 L202.7,498.5 L202.8,498.4 L202.9,498.3 L203.1,498.1 L203.2,498.0 L203.3,497.9 L203.4,497.7 L203.5,497.6 L203.6,497.4 L203.7,497.3 L203.8,497.2 L203.9,497.0 L204.0,496.9 L204.1,496.8 L204.2,496.6 L204.3,496.5 L204.4,496.4 L204.5,496.2 L204.6,496.1 L204.7,496.0 L204.8,495.8 L204.9,495.7 L205.0,495.6 L205.1,495.4 L205.2,495.3 L205.3,495.2 L205.4,495.1 L205.5,494.9 L205.6,494.8 L205.7,494.7 L205.8,494.6 L205.9,494.4 L206.1,494.3 L206.2,494.2 L206.3,494.1 L206.4,494.0 L206.5,493.9 L206.6,493.8 L206.7,493.7 L206.8,493.6 L206.9,493.5 L207.0,493.5 L207.1,493.4 L207.2,493.3 L207.3,493.3 L207.4,493.2 L207.5,493.2 L207.6,493.2 L207.7,493.2" fill="none" stroke="#5e90d8" stroke-width="2.2" stroke-linejoin="round" stroke-linecap="butt"/>
<path d="M216.6,502.4 L216.7,502.4 L216.8,502.3 L216.9,502.3 L217.0,502.3 L217.1,502.2 L217.2,502.1 L217.3,502.1 L217.4,502.0 L217.5,501.9 L217.6,501.8 L217.7,501.7 L217.8,501.6 L217.9,501.5 L218.1,501.4 L218.2,501.3 L218.3,501.2 L218.4,501.0 L218.5,500.9 L218.6,500.8 L218.7,500.7 L218.8,500.5 L218.9,500.4 L219.0,500.3 L219.1,500.2 L219.2,500.0 L219.3,499.9 L219.4,499.8 L219.5,499.6 L219.6,499.5 L219.7,499.4 L219.8,499.2 L219.9,499.1 L220.0,499.0 L220.1,498.8 L220.2,498.7 L220.3,498.6 L220.4,498.4 L220.5,498.3 L220.6,498.1 L220.7,498.0 L220.8,497.9 L220.9,497.7 L221.1,497.6 L221.2,497.5 L221.3,497.3 L221.4,497.2 L221.5,497.1 L221.6,496.9 L221.7,496.8 L221.8,496.6 L221.9,496.5 L222.0,496.4 L222.1,496.2 L222.2,496.1 L222.3,496.0 L222.4,495.8 L222.5,495.7 L222.6,495.6 L222.7,495.5 L222.8,495.3 L222.9,495.2 L223.0,495.1 L223.1,494.9 L223.2,494.8 L223.3,494.7 L223.4,494.6 L223.5,494.5 L223.6,494.3 L223.7,494.2 L223.8,494.1 L223.9,494.0 L224.1,493.9 L224.2,493.8 L224.3,493.7 L224.4,493.6 L224.5,493.5 L224.6,493.5 L224.7,493.4 L224.8,493.3 L224.9,493.3 L225.0,493.3 L225.1,493.2 L225.2,493.2 L225.3,493.2 L225.4,493.2" fill="none" stroke="#1a1a1a" stroke-width="3.6" stroke-linejoin="round" stroke-linecap="butt"/>
<path d="M216.6,502.4 L216.7,502.4 L216.8,502.3 L216.9,502.3 L217.0,502.3 L217.1,502.2 L217.2,502.1 L217.3,502.1 L217.4,502.0 L217.5,501.9 L217.6,501.8 L217.7,501.7 L217.8,501.6 L217.9,501.5 L218.1,501.4 L218.2,501.3 L218.3,501.2 L218.4,501.0 L218.5,500.9 L218.6,500.8 L218.7,500.7 L218.8,500.5 L218.9,500.4 L219.0,500.3 L219.1,500.2 L219.2,500.0 L219.3,499.9 L219.4,499.8 L219.5,499.6 L219.6,499.5 L219.7,499.4 L219.8,499.2 L219.9,499.1 L220.0,499.0 L220.1,498.8 L220.2,498.7 L220.3,498.6 L220.4,498.4 L220.5,498.3 L220.6,498.1 L220.7,498.0 L220.8,497.9 L220.9,497.7 L221.1,497.6 L221.2,497.5 L221.3,497.3 L221.4,497.2 L221.5,497.1 L221.6,496.9 L221.7,496.8 L221.8,496.6 L221.9,496.5 L222.0,496.4 L222.1,496.2 L222.2,496.1 L222.3,496.0 L222.4,495.8 L222.5,495.7 L222.6,495.6 L222.7,495.5 L222.8,495.3 L222.9,495.2 L223.0,495.1 L223.1,494.9 L223.2,494.8 L223.3,494.7 L223.4,494.6 L223.5,494.5 L223.6,494.3 L223.7,494.2 L223.8,494.1 L223.9,494.0 L224.1,493.9 L224.2,493.8 L224.3,493.7 L224.4,493.6 L224.5,493.5 L224.6,493.5 L224.7,493.4 L224.8,493.3 L224.9,493.3 L225.0,493.3 L225.1,493.2 L225.2,493.2 L225.3,493.2 L225.4,493.2" fill="none" stroke="#5e90d8" stroke-width="2.2" stroke-linejoin="round" stroke-linecap="butt"/>
<path d="M234.2,502.4 L234.3,502.4 L234.4,502.4 L234.5,502.3 L234.6,502.3 L234.7,502.2 L234.8,502.1 L234.9,502.1 L235.0,502.0 L235.1,501.9 L235.2,501.8 L235.3,501.7 L235.4,501.6 L235.5,501.5 L235.6,501.4 L235.7,501.3 L235.8,501.2 L235.9,501.0 L236.1,500.9 L236.2,500.8 L236.3,500.7 L236.4,500.6 L236.5,500.4 L236.6,500.3 L236.7,500.2 L236.8,500.0 L236.9,499.9 L237.0,499.8 L237.1,499.6 L237.2,499.5 L237.3,499.4 L237.4,499.2 L237.5,499.1 L237.6,499.0 L237.7,498.8 L237.8,498.7 L237.9,498.6 L238.0,498.4 L238.1,498.3 L238.2,498.2 L238.3,498.0 L238.4,497.9 L238.5,497.8 L238.6,497.6 L238.7,497.5 L238.8,497.3 L238.9,497.2 L239.1,497.1 L239.2,496.9 L239.3,496.8 L239.4,496.7 L239.5,496.5 L239.6,496.4 L239.7,496.3 L239.8,496.1 L239.9,496.0 L240.0,495.9 L240.1,495.7 L240.2,495.6 L240.3,495.5 L240.4,495.3 L240.5,495.2 L240.6,495.1 L240.7,495.0 L240.8,494.8 L240.9,494.7 L241.0,494.6 L241.1,494.5 L241.2,494.4 L241.3,494.2 L241.4,494.1 L241.5,494.0 L241.6,493.9 L241.7,493.8 L241.8,493.7 L241.9,493.6 L242.1,493.6 L242.2,493.5 L242.3,493.4 L242.4,493.4 L242.5,493.3 L242.6,493.3 L242.7,493.2 L242.8,493.2 L242.9,493.2 L243.0,493.2" fill="none" stroke="#1a1a1a" stroke-width="3.6" stroke-linejoin="round" stroke-linecap="butt"/>
<path d="M234.2,502.4 L234.3,502.4 L234.4,502.4 L234.5,502.3 L234.6,502.3 L234.7,502.2 L234.8,502.1 L234.9,502.1 L235.0,502.0 L235.1,501.9 L235.2,501.8 L235.3,501.7 L235.4,501.6 L235.5,501.5 L235.6,501.4 L235.7,501.3 L235.8,501.2 L235.9,501.0 L236.1,500.9 L236.2,500.8 L236.3,500.7 L236.4,500.6 L236.5,500.4 L236.6,500.3 L236.7,500.2 L236.8,500.0 L236.9,499.9 L237.0,499.8 L237.1,499.6 L237.2,499.5 L237.3,499.4 L237.4,499.2 L237.5,499.1 L237.6,499.0 L237.7,498.8 L237.8,498.7 L237.9,498.6 L238.0,498.4 L238.1,498.3 L238.2,498.2 L238.3,498.0 L238.4,497.9 L238.5,497.8 L238.6,497.6 L238.7,497.5 L238.8,497.3 L238.9,497.2 L239.1,497.1 L239.2,496.9 L239.3,496.8 L239.4,496.7 L239.5,496.5 L239.6,496.4 L239.7,496.3 L239.8,496.1 L239.9,496.0 L240.0,495.9 L240.1,495.7 L240.2,495.6 L240.3,495.5 L240.4,495.3 L240.5,495.2 L240.6,495.1 L240.7,495.0 L240.8,494.8 L240.9,494.7 L241.0,494.6 L241.1,494.5 L241.2,494.4 L241.3,494.2 L241.4,494.1 L241.5,494.0 L241.6,493.9 L241.7,493.8 L241.8,493.7 L241.9,493.6 L242.1,493.6 L242.2,493.5 L242.3,493.4 L242.4,493.4 L242.5,493.3 L242.6,493.3 L242.7,493.2 L242.8,493.2 L242.9,493.2 L243.0,493.2" fill="none" stroke="#5e90d8" stroke-width="2.2" stroke-linejoin="round" stroke-linecap="butt"/>
<path d="M154.9,502.4 L155.1,502.4 L155.2,502.4 L155.3,502.3 L155.4,502.3 L155.5,502.2 L155.6,502.2 L155.7,502.1 L155.8,502.0 L155.9,501.9 L156.0,501.8 L156.1,501.8 L156.2,501.7 L156.3,501.5 L156.4,501.4 L156.5,501.3 L156.6,501.2 L156.7,501.1 L156.8,501.0 L156.9,500.9 L157.0,500.7 L157.1,500.6 L157.2,500.5 L157.3,500.4 L157.4,500.2 L157.5,500.1 L157.6,500.0 L157.7,499.8 L157.8,499.7 L157.9,499.6 L158.1,499.4 L158.2,499.3 L158.3,499.2 L158.4,499.0 L158.5,498.9 L158.6,498.8 L158.7,498.6 L158.8,498.5 L158.9,498.4 L159.0,498.2 L159.1,498.1 L159.2,497.9 L159.3,497.8 L159.4,497.7 L159.5,497.5 L159.6,497.4 L159.7,497.3 L159.8,497.1 L159.9,497.0 L160.0,496.9 L160.1,496.7 L160.2,496.6 L160.3,496.4 L160.4,496.3 L160.5,496.2 L160.6,496.0 L160.7,495.9 L160.8,495.8 L160.9,495.7 L161.1,495.5 L161.2,495.4 L161.3,495.3 L161.4,495.1 L161.5,495.0 L161.6,494.9 L161.7,494.8 L161.8,494.6 L161.9,494.5 L162.0,494.4 L162.1,494.3 L162.2,494.2 L162.3,494.1 L162.4,494.0 L162.5,493.9 L162.6,493.8 L162.7,493.7 L162.8,493.6 L162.9,493.5 L163.0,493.4 L163.1,493.4 L163.2,493.3 L163.3,493.3 L163.4,493.2 L163.5,493.2 L163.6,493.2 L163.7,493.2" fill="none" stroke="#1a1a1a" stroke-width="3.6" stroke-linejoin="round" stroke-linecap="butt"/>
<path d="M154.9,502.4 L155.1,502.4 L155.2,502.4 L155.3,502.3 L155.4,502.3 L155.5,502.2 L155.6,502.2 L155.7,502.1 L155.8,502.0 L155.9,501.9 L156.0,501.8 L156.1,501.8 L156.2,501.7 L156.3,501.5 L156.4,501.4 L156.5,501.3 L156.6,501.2 L156.7,501.1 L156.8,501.0 L156.9,500.9 L157.0,500.7 L157.1,500.6 L157.2,500.5 L157.3,500.4 L157.4,500.2 L157.5,500.1 L157.6,500.0 L157.7,499.8 L157.8,499.7 L157.9,499.6 L158.1,499.4 L158.2,499.3 L158.3,499.2 L158.4,499.0 L158.5,498.9 L158.6,498.8 L158.7,498.6 L158.8,498.5 L158.9,498.4 L159.0,498.2 L159.1,498.1 L159.2,497.9 L159.3,497.8 L159.4,497.7 L159.5,497.5 L159.6,497.4 L159.7,497.3 L159.8,497.1 L159.9,497.0 L160.0,496.9 L160.1,496.7 L160.2,496.6 L160.3,496.4 L160.4,496.3 L160.5,496.2 L160.6,496.0 L160.7,495.9 L160.8,495.8 L160.9,495.7 L161.1,495.5 L161.2,495.4 L161.3,495.3 L161.4,495.1 L161.5,495.0 L161.6,494.9 L161.7,494.8 L161.8,494.6 L161.9,494.5 L162.0,494.4 L162.1,494.3 L162.2,494.2 L162.3,494.1 L162.4,494.0 L162.5,493.9 L162.6,493.8 L162.7,493.7 L162.8,493.6 L162.9,493.5 L163.0,493.4 L163.1,493.4 L163.2,493.3 L163.3,493.3 L163.4,493.2 L163.5,493.2 L163.6,493.2 L163.7,493.2" fill="none" stroke="#8a8a8a" stroke-width="2.2" stroke-linejoin="round" stroke-linecap="butt"/>
<path d="M172.5,502.4 L172.6,502.4 L172.7,502.4 L172.8,502.3 L172.9,502.3 L173.1,502.2 L173.2,502.2 L173.3,502.1 L173.4,502.0 L173.5,502.0 L173.6,501.9 L173.7,501.8 L173.8,501.7 L173.9,501.6 L174.0,501.5 L174.1,501.3 L174.2,501.2 L174.3,501.1 L174.4,501.0 L174.5,500.9 L174.6,500.7 L174.7,500.6 L174.8,500.5 L174.9,500.4 L175.0,500.2 L175.1,500.1 L175.2,500.0 L175.3,499.9 L175.4,499.7 L175.5,499.6 L175.6,499.5 L175.7,499.3 L175.8,499.2 L175.9,499.1 L176.1,498.9 L176.2,498.8 L176.3,498.6 L176.4,498.5 L176.5,498.4 L176.6,498.2 L176.7,498.1 L176.8,498.0 L176.9,497.8 L177.0,497.7 L177.1,497.6 L177.2,497.4 L177.3,497.3 L177.4,497.1 L177.5,497.0 L177.6,496.9 L177.7,496.7 L177.8,496.6 L177.9,496.5 L178.0,496.3 L178.1,496.2 L178.2,496.1 L178.3,495.9 L178.4,495.8 L178.5,495.7 L178.6,495.5 L178.7,495.4 L178.8,495.3 L178.9,495.2 L179.1,495.0 L179.2,494.9 L179.3,494.8 L179.4,494.7 L179.5,494.5 L179.6,494.4 L179.7,494.3 L179.8,494.2 L179.9,494.1 L180.0,494.0 L180.1,493.9 L180.2,493.8 L180.3,493.7 L180.4,493.6 L180.5,493.5 L180.6,493.4 L180.7,493.4 L180.8,493.3 L180.9,493.3 L181.0,493.2 L181.1,493.2 L181.2,493.2 L181.3,493.2" fill="none" stroke="#1a1a1a" stroke-width="3.6" stroke-linejoin="round" stroke-linecap="butt"/>
<path d="M172.5,502.4 L172.6,502.4 L172.7,502.4 L172.8,502.3 L172.9,502.3 L173.1,502.2 L173.2,502.2 L173.3,502.1 L173.4,502.0 L173.5,502.0 L173.6,501.9 L173.7,501.8 L173.8,501.7 L173.9,501.6 L174.0,501.5 L174.1,501.3 L174.2,501.2 L174.3,501.1 L174.4,501.0 L174.5,500.9 L174.6,500.7 L174.7,500.6 L174.8,500.5 L174.9,500.4 L175.0,500.2 L175.1,500.1 L175.2,500.0 L175.3,499.9 L175.4,499.7 L175.5,499.6 L175.6,499.5 L175.7,499.3 L175.8,499.2 L175.9,499.1 L176.1,498.9 L176.2,498.8 L176.3,498.6 L176.4,498.5 L176.5,498.4 L176.6,498.2 L176.7,498.1 L176.8,498.0 L176.9,497.8 L177.0,497.7 L177.1,497.6 L177.2,497.4 L177.3,497.3 L177.4,497.1 L177.5,497.0 L177.6,496.9 L177.7,496.7 L177.8,496.6 L177.9,496.5 L178.0,496.3 L178.1,496.2 L178.2,496.1 L178.3,495.9 L178.4,495.8 L178.5,495.7 L178.6,495.5 L178.7,495.4 L178.8,495.3 L178.9,495.2 L179.1,495.0 L179.2,494.9 L179.3,494.8 L179.4,494.7 L179.5,494.5 L179.6,494.4 L179.7,494.3 L179.8,494.2 L179.9,494.1 L180.0,494.0 L180.1,493.9 L180.2,493.8 L180.3,493.7 L180.4,493.6 L180.5,493.5 L180.6,493.4 L180.7,493.4 L180.8,493.3 L180.9,493.3 L181.0,493.2 L181.1,493.2 L181.2,493.2 L181.3,493.2" fill="none" stroke="#8a8a8a" stroke-width="2.2" stroke-linejoin="round" stroke-linecap="butt"/>
<path d="M190.1,502.4 L190.2,502.4 L190.3,502.4 L190.4,502.3 L190.5,502.3 L190.6,502.2 L190.7,502.2 L190.8,502.1 L190.9,502.0 L191.1,502.0 L191.2,501.9 L191.3,501.8 L191.4,501.7 L191.5,501.6 L191.6,501.5 L191.7,501.4 L191.8,501.2 L191.9,501.1 L192.0,501.0 L192.1,500.9 L192.2,500.8 L192.3,500.6 L192.4,500.5 L192.5,500.4 L192.6,500.3 L192.7,500.1 L192.8,500.0 L192.9,499.9 L193.0,499.7 L193.1,499.6 L193.2,499.5 L193.3,499.3 L193.4,499.2 L193.5,499.1 L193.6,498.9 L193.7,498.8 L193.8,498.7 L193.9,498.5 L194.1,498.4 L194.2,498.3 L194.3,498.1 L194.4,498.0 L194.5,497.8 L194.6,497.7 L194.7,497.6 L194.8,497.4 L194.9,497.3 L195.0,497.2 L195.1,497.0 L195.2,496.9 L195.3,496.8 L195.4,496.6 L195.5,496.5 L195.6,496.4 L195.7,496.2 L195.8,496.1 L195.9,496.0 L196.0,495.8 L196.1,495.7 L196.2,495.6 L196.3,495.4 L196.4,495.3 L196.5,495.2 L196.6,495.0 L196.7,494.9 L196.8,494.8 L196.9,494.7 L197.1,494.6 L197.2,494.4 L197.3,494.3 L197.4,494.2 L197.5,494.1 L197.6,494.0 L197.7,493.9 L197.8,493.8 L197.9,493.7 L198.0,493.6 L198.1,493.5 L198.2,493.5 L198.3,493.4 L198.4,493.3 L198.5,493.3 L198.6,493.2 L198.7,493.2 L198.8,493.2 L198.9,493.2" fill="none" stroke="#1a1a1a" stroke-width="3.6" stroke-linejoin="round" stroke-linecap="butt"/>
<path d="M190.1,502.4 L190.2,502.4 L190.3,502.4 L190.4,502.3 L190.5,502.3 L190.6,502.2 L190.7,502.2 L190.8,502.1 L190.9,502.0 L191.1,502.0 L191.2,501.9 L191.3,501.8 L191.4,501.7 L191.5,501.6 L191.6,501.5 L191.7,501.4 L191.8,501.2 L191.9,501.1 L192.0,501.0 L192.1,500.9 L192.2,500.8 L192.3,500.6 L192.4,500.5 L192.5,500.4 L192.6,500.3 L192.7,500.1 L192.8,500.0 L192.9,499.9 L193.0,499.7 L193.1,499.6 L193.2,499.5 L193.3,499.3 L193.4,499.2 L193.5,499.1 L193.6,498.9 L193.7,498.8 L193.8,498.7 L193.9,498.5 L194.1,498.4 L194.2,498.3 L194.3,498.1 L194.4,498.0 L194.5,497.8 L194.6,497.7 L194.7,497.6 L194.8,497.4 L194.9,497.3 L195.0,497.2 L195.1,497.0 L195.2,496.9 L195.3,496.8 L195.4,496.6 L195.5,496.5 L195.6,496.4 L195.7,496.2 L195.8,496.1 L195.9,496.0 L196.0,495.8 L196.1,495.7 L196.2,495.6 L196.3,495.4 L196.4,495.3 L196.5,495.2 L196.6,495.0 L196.7,494.9 L196.8,494.8 L196.9,494.7 L197.1,494.6 L197.2,494.4 L197.3,494.3 L197.4,494.2 L197.5,494.1 L197.6,494.0 L197.7,493.9 L197.8,493.8 L197.9,493.7 L198.0,493.6 L198.1,493.5 L198.2,493.5 L198.3,493.4 L198.4,493.3 L198.5,493.3 L198.6,493.2 L198.7,493.2 L198.8,493.2 L198.9,493.2" fill="none" stroke="#8a8a8a" stroke-width="2.2" stroke-linejoin="round" stroke-linecap="butt"/>
<path d="M207.7,502.4 L207.8,502.4 L207.9,502.4 L208.0,502.3 L208.1,502.3 L208.2,502.3 L208.3,502.2 L208.4,502.1 L208.5,502.1 L208.6,502.0 L208.7,501.9 L208.8,501.8 L208.9,501.7 L209.1,501.6 L209.2,501.5 L209.3,501.4 L209.4,501.3 L209.5,501.1 L209.6,501.0 L209.7,500.9 L209.8,500.8 L209.9,500.7 L210.0,500.5 L210.1,500.4 L210.2,500.3 L210.3,500.1 L210.4,500.0 L210.5,499.9 L210.6,499.8 L210.7,499.6 L210.8,499.5 L210.9,499.4 L211.0,499.2 L211.1,499.1 L211.2,499.0 L211.3,498.8 L211.4,498.7 L211.5,498.5 L211.6,498.4 L211.7,498.3 L211.8,498.1 L211.9,498.0 L212.1,497.9 L212.2,497.7 L212.3,497.6 L212.4,497.5 L212.5,497.3 L212.6,497.2 L212.7,497.0 L212.8,496.9 L212.9,496.8 L213.0,496.6 L213.1,496.5 L213.2,496.4 L213.3,496.2 L213.4,496.1 L213.5,496.0 L213.6,495.8 L213.7,495.7 L213.8,495.6 L213.9,495.4 L214.0,495.3 L214.1,495.2 L214.2,495.1 L214.3,494.9 L214.4,494.8 L214.5,494.7 L214.6,494.6 L214.7,494.4 L214.8,494.3 L214.9,494.2 L215.1,494.1 L215.2,494.0 L215.3,493.9 L215.4,493.8 L215.5,493.7 L215.6,493.6 L215.7,493.5 L215.8,493.5 L215.9,493.4 L216.0,493.3 L216.1,493.3 L216.2,493.3 L216.3,493.2 L216.4,493.2 L216.5,493.2 L216.6,493.2" fill="none" stroke="#1a1a1a" stroke-width="3.6" stroke-linejoin="round" stroke-linecap="butt"/>
<path d="M207.7,502.4 L207.8,502.4 L207.9,502.4 L208.0,502.3 L208.1,502.3 L208.2,502.3 L208.3,502.2 L208.4,502.1 L208.5,502.1 L208.6,502.0 L208.7,501.9 L208.8,501.8 L208.9,501.7 L209.1,501.6 L209.2,501.5 L209.3,501.4 L209.4,501.3 L209.5,501.1 L209.6,501.0 L209.7,500.9 L209.8,500.8 L209.9,500.7 L210.0,500.5 L210.1,500.4 L210.2,500.3 L210.3,500.1 L210.4,500.0 L210.5,499.9 L210.6,499.8 L210.7,499.6 L210.8,499.5 L210.9,499.4 L211.0,499.2 L211.1,499.1 L211.2,499.0 L211.3,498.8 L211.4,498.7 L211.5,498.5 L211.6,498.4 L211.7,498.3 L211.8,498.1 L211.9,498.0 L212.1,497.9 L212.2,497.7 L212.3,497.6 L212.4,497.5 L212.5,497.3 L212.6,497.2 L212.7,497.0 L212.8,496.9 L212.9,496.8 L213.0,496.6 L213.1,496.5 L213.2,496.4 L213.3,496.2 L213.4,496.1 L213.5,496.0 L213.6,495.8 L213.7,495.7 L213.8,495.6 L213.9,495.4 L214.0,495.3 L214.1,495.2 L214.2,495.1 L214.3,494.9 L214.4,494.8 L214.5,494.7 L214.6,494.6 L214.7,494.4 L214.8,494.3 L214.9,494.2 L215.1,494.1 L215.2,494.0 L215.3,493.9 L215.4,493.8 L215.5,493.7 L215.6,493.6 L215.7,493.5 L215.8,493.5 L215.9,493.4 L216.0,493.3 L216.1,493.3 L216.2,493.3 L216.3,493.2 L216.4,493.2 L216.5,493.2 L216.6,493.2" fill="none" stroke="#8a8a8a" stroke-width="2.2" stroke-linejoin="round" stroke-linecap="butt"/>
<path d="M225.4,502.4 L225.5,502.4 L225.6,502.4 L225.7,502.3 L225.8,502.3 L225.9,502.2 L226.0,502.1 L226.1,502.1 L226.2,502.0 L226.3,501.9 L226.4,501.8 L226.5,501.7 L226.6,501.6 L226.7,501.5 L226.8,501.4 L226.9,501.3 L227.1,501.2 L227.2,501.0 L227.3,500.9 L227.4,500.8 L227.5,500.7 L227.6,500.5 L227.7,500.4 L227.8,500.3 L227.9,500.2 L228.0,500.0 L228.1,499.9 L228.2,499.8 L228.3,499.6 L228.4,499.5 L228.5,499.4 L228.6,499.2 L228.7,499.1 L228.8,499.0 L228.9,498.8 L229.0,498.7 L229.1,498.6 L229.2,498.4 L229.3,498.3 L229.4,498.2 L229.5,498.0 L229.6,497.9 L229.7,497.7 L229.8,497.6 L229.9,497.5 L230.1,497.3 L230.2,497.2 L230.3,497.1 L230.4,496.9 L230.5,496.8 L230.6,496.7 L230.7,496.5 L230.8,496.4 L230.9,496.3 L231.0,496.1 L231.1,496.0 L231.2,495.9 L231.3,495.7 L231.4,495.6 L231.5,495.5 L231.6,495.3 L231.7,495.2 L231.8,495.1 L231.9,494.9 L232.0,494.8 L232.1,494.7 L232.2,494.6 L232.3,494.5 L232.4,494.3 L232.5,494.2 L232.6,494.1 L232.7,494.0 L232.8,493.9 L232.9,493.8 L233.1,493.7 L233.2,493.6 L233.3,493.5 L233.4,493.5 L233.5,493.4 L233.6,493.3 L233.7,493.3 L233.8,493.3 L233.9,493.2 L234.0,493.2 L234.1,493.2 L234.2,493.2" fill="none" stroke="#1a1a1a" stroke-width="3.6" stroke-linejoin="round" stroke-linecap="butt"/>
<path d="M225.4,502.4 L225.5,502.4 L225.6,502.4 L225.7,502.3 L225.8,502.3 L225.9,502.2 L226.0,502.1 L226.1,502.1 L226.2,502.0 L226.3,501.9 L226.4,501.8 L226.5,501.7 L226.6,501.6 L226.7,501.5 L226.8,501.4 L226.9,501.3 L227.1,501.2 L227.2,501.0 L227.3,500.9 L227.4,500.8 L227.5,500.7 L227.6,500.5 L227.7,500.4 L227.8,500.3 L227.9,500.2 L228.0,500.0 L228.1,499.9 L228.2,499.8 L228.3,499.6 L228.4,499.5 L228.5,499.4 L228.6,499.2 L228.7,499.1 L228.8,499.0 L228.9,498.8 L229.0,498.7 L229.1,498.6 L229.2,498.4 L229.3,498.3 L229.4,498.2 L229.5,498.0 L229.6,497.9 L229.7,497.7 L229.8,497.6 L229.9,497.5 L230.1,497.3 L230.2,497.2 L230.3,497.1 L230.4,496.9 L230.5,496.8 L230.6,496.7 L230.7,496.5 L230.8,496.4 L230.9,496.3 L231.0,496.1 L231.1,496.0 L231.2,495.9 L231.3,495.7 L231.4,495.6 L231.5,495.5 L231.6,495.3 L231.7,495.2 L231.8,495.1 L231.9,494.9 L232.0,494.8 L232.1,494.7 L232.2,494.6 L232.3,494.5 L232.4,494.3 L232.5,494.2 L232.6,494.1 L232.7,494.0 L232.8,493.9 L232.9,493.8 L233.1,493.7 L233.2,493.6 L233.3,493.5 L233.4,493.5 L233.5,493.4 L233.6,493.3 L233.7,493.3 L233.8,493.3 L233.9,493.2 L234.0,493.2 L234.1,493.2 L234.2,493.2" fill="none" stroke="#8a8a8a" stroke-width="2.2" stroke-linejoin="round" stroke-linecap="butt"/>
<path d="M243.0,502.4 L243.1,502.4 L243.2,502.4 L243.3,502.3 L243.4,502.3 L243.5,502.2" fill="none" stroke="#1a1a1a" stroke-width="3.6" stroke-linejoin="round" stroke-linecap="butt"/>
<path d="M243.0,502.4 L243.1,502.4 L243.2,502.4 L243.3,502.3 L243.4,502.3 L243.5,502.2" fill="none" stroke="#8a8a8a" stroke-width="2.2" stroke-linejoin="round" stroke-linecap="butt"/>
<rect x="142.9" y="497.4" width="7" height="8.6" fill="#0a8a1e" stroke="#111" stroke-width="0.9"/>
<path d="M244.8,488.9 L251.5,492.7 L245.8,496.5 Z" fill="#e0101c" stroke="#600" stroke-width="0.5"/>
<text x="200.7" y="520.4" font-size="13.5" font-weight="normal" text-anchor="middle" fill="#262626" textLength="37" lengthAdjust="spacingAndGlyphs">duplex</text>
<text x="285.4" y="433" font-size="23" font-weight="normal" text-anchor="middle" fill="#111" font-family="Liberation Serif">Δ</text>
<text x="286.8" y="485.6" font-size="23" font-weight="normal" text-anchor="middle" fill="#111" font-family="Liberation Serif">Δ</text>
<g transform="translate(0 0)">
<path d="M339,428 C344,421 350,417.6 357,417.6 C368,417.8 377,424 381.5,434 C384,441 383,445.5 377.5,444.2 C369,442 361,436.2 355,436.2 C350,436.5 347,441 346.3,447.5" fill="none" stroke="#000" stroke-width="3" stroke-linecap="round"/>
<rect x="331" y="426.5" width="8.3" height="8.6" fill="#0a8a1e" stroke="#111" stroke-width="0.9"/>
<path d="M342.5,447.3 L349.8,450.4 L342.6,454.5 Z" fill="#e0101c" stroke="#600" stroke-width="0.5"/>
<line x1="325.5" y1="437.5" x2="337.5" y2="454.2" stroke="#111" stroke-width="1.1"/>
<path d="M325.5,442.5 L324.8,436.2 L330.5,438.5 M332.2,454.5 L338.3,455.5 L337.8,449.5" fill="none" stroke="#111" stroke-width="1.6" stroke-linecap="round" stroke-linejoin="round"/>
</g>
<g transform="translate(0 56.4)">
<path d="M339,428 C344,421 350,417.6 357,417.6 C368,417.8 377,424 381.5,434 C384,441 383,445.5 377.5,444.2 C369,442 361,436.2 355,436.2 C350,436.5 347,441 346.3,447.5" fill="none" stroke="#000" stroke-width="3" stroke-linecap="round"/>
<rect x="331" y="426.5" width="8.3" height="8.6" fill="#0a8a1e" stroke="#111" stroke-width="0.9"/>
<path d="M342.5,447.3 L349.8,450.4 L342.6,454.5 Z" fill="#e0101c" stroke="#600" stroke-width="0.5"/>
<line x1="325.5" y1="437.5" x2="337.5" y2="454.2" stroke="#111" stroke-width="1.1"/>
<path d="M325.5,442.5 L324.8,436.2 L330.5,438.5 M332.2,454.5 L338.3,455.5 L337.8,449.5" fill="none" stroke="#111" stroke-width="1.6" stroke-linecap="round" stroke-linejoin="round"/>
</g>
</svg>
</body></html>
